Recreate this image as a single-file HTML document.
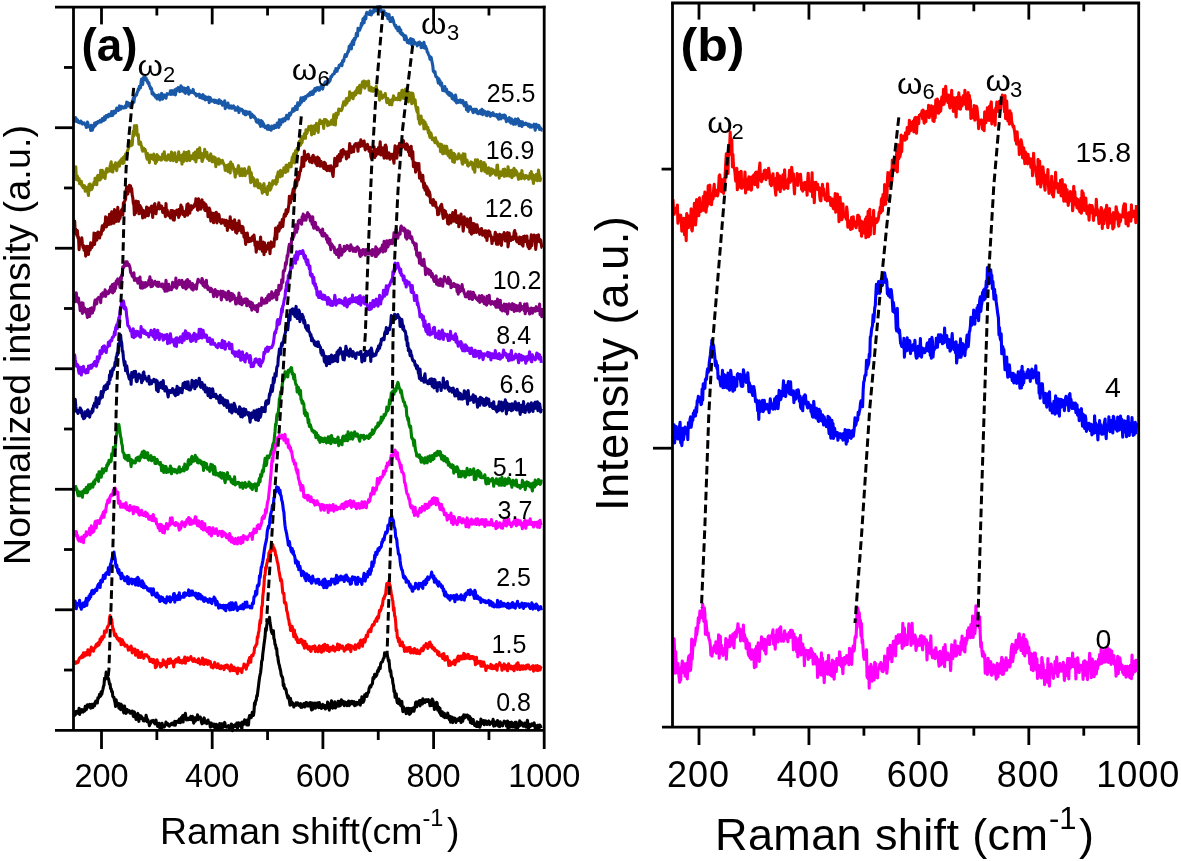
<!DOCTYPE html>
<html><head><meta charset="utf-8"><title>Raman spectra</title>
<style>
html,body{margin:0;padding:0;background:#fff;}
body{width:1181px;height:861px;overflow:hidden;}
svg{display:block;font-family:'Liberation Sans', Arial, sans-serif;filter:blur(0.35px);}
</style></head><body>
<svg width="1181" height="861" viewBox="0 0 1181 861" fill="#000">
<rect width="1181" height="861" fill="#fff"/>
<path d="M74.1,119.5 74.7,120.5 75.2,120.0 75.8,117.7 76.3,121.5 76.9,121.1 77.4,119.8 78.0,121.8 78.5,122.3 79.1,121.9 79.6,121.8 80.2,122.9 80.7,121.1 81.3,122.3 81.8,122.1 82.4,124.1 83.0,123.4 83.5,123.2 84.1,122.8 84.6,123.9 85.2,124.7 85.7,124.6 86.3,127.4 86.8,127.2 87.4,122.1 87.9,123.2 88.5,126.2 89.0,126.0 89.6,127.2 90.2,127.3 90.7,130.5 91.3,125.3 91.8,126.5 92.4,130.2 92.9,127.8 93.5,127.5 94.0,125.3 94.6,123.2 95.1,125.9 95.7,125.1 96.2,122.5 96.8,122.9 97.3,123.4 97.9,121.5 98.5,122.4 99.0,122.2 99.6,121.7 100.1,120.4 100.7,121.8 101.2,122.0 101.8,120.7 102.3,118.6 102.9,120.7 103.4,118.4 104.0,120.3 104.5,116.8 105.1,119.7 105.6,117.8 106.2,115.6 106.8,116.8 107.3,117.0 107.9,117.0 108.4,114.7 109.0,114.2 109.5,115.9 110.1,114.5 110.6,115.3 111.2,115.7 111.7,111.5 112.3,114.1 112.8,115.3 113.4,112.4 114.0,111.2 114.5,113.3 115.1,112.1 115.6,112.7 116.2,110.3 116.7,108.0 117.3,109.8 117.8,108.9 118.4,110.5 118.9,109.2 119.5,105.9 120.0,106.3 120.6,109.3 121.1,108.7 121.7,106.4 122.3,107.1 122.8,107.7 123.4,107.5 123.9,108.0 124.5,106.8 125.0,106.1 125.6,105.7 126.1,107.6 126.7,102.1 127.2,105.3 127.8,105.4 128.3,102.8 128.9,105.4 129.4,103.6 130.0,106.9 130.6,103.8 131.1,104.7 131.7,105.1 132.2,103.0 132.8,100.2 133.3,98.2 133.9,102.3 134.4,98.2 135.0,96.0 135.5,96.1 136.1,94.3 136.6,94.8 137.2,92.3 137.8,91.2 138.3,89.0 138.9,89.8 139.4,86.2 140.0,87.7 140.5,87.8 141.1,81.6 141.6,79.0 142.2,82.7 142.7,84.5 143.3,78.2 143.8,77.1 144.4,79.5 144.9,77.0 145.5,77.6 146.1,78.3 146.6,80.6 147.2,80.2 147.7,82.7 148.3,83.4 148.8,82.6 149.4,86.0 149.9,86.2 150.5,88.7 151.0,87.8 151.6,88.8 152.1,93.9 152.7,92.4 153.3,93.4 153.8,95.2 154.4,94.5 154.9,95.5 155.5,97.2 156.0,97.5 156.6,95.5 157.1,98.9 157.7,96.7 158.2,95.9 158.8,94.8 159.3,96.8 159.9,99.9 160.4,95.3 161.0,97.2 161.6,93.4 162.1,96.6 162.7,99.1 163.2,95.8 163.8,94.9 164.3,96.1 164.9,96.6 165.4,96.3 166.0,98.2 166.5,95.2 167.1,93.7 167.6,94.3 168.2,94.1 168.7,94.2 169.3,93.8 169.9,93.9 170.4,90.7 171.0,94.4 171.5,91.9 172.1,90.7 172.6,93.4 173.2,94.2 173.7,92.6 174.3,91.8 174.8,89.8 175.4,94.9 175.9,92.3 176.5,88.8 177.1,89.2 177.6,90.4 178.2,87.6 178.7,90.2 179.3,89.1 179.8,91.6 180.4,91.1 180.9,85.7 181.5,89.6 182.0,86.9 182.6,91.3 183.1,89.9 183.7,90.5 184.2,88.1 184.8,92.8 185.4,93.3 185.9,88.5 186.5,91.0 187.0,89.5 187.6,90.7 188.1,87.2 188.7,94.2 189.2,89.9 189.8,91.2 190.3,92.7 190.9,91.1 191.4,91.9 192.0,91.6 192.5,92.5 193.1,89.4 193.7,92.6 194.2,93.2 194.8,93.3 195.3,94.2 195.9,93.9 196.4,95.9 197.0,94.5 197.5,95.1 198.1,94.6 198.6,95.1 199.2,94.2 199.7,97.4 200.3,95.0 200.9,95.9 201.4,97.9 202.0,98.2 202.5,97.1 203.1,94.7 203.6,98.8 204.2,98.7 204.7,96.2 205.3,99.9 205.8,97.7 206.4,97.2 206.9,99.3 207.5,99.0 208.0,99.8 208.6,97.0 209.2,102.6 209.7,98.9 210.3,97.6 210.8,101.2 211.4,99.8 211.9,101.0 212.5,100.1 213.0,100.8 213.6,101.4 214.1,100.0 214.7,102.4 215.2,100.7 215.8,100.3 216.3,101.9 216.9,102.7 217.5,101.8 218.0,100.9 218.6,103.5 219.1,99.8 219.7,101.2 220.2,103.0 220.8,101.0 221.3,103.4 221.9,103.4 222.4,105.2 223.0,102.4 223.5,103.1 224.1,104.9 224.7,100.7 225.2,108.6 225.8,103.9 226.3,104.1 226.9,106.9 227.4,105.7 228.0,103.1 228.5,107.2 229.1,107.8 229.6,105.9 230.2,106.4 230.7,107.9 231.3,105.9 231.8,108.2 232.4,108.1 233.0,106.8 233.5,105.9 234.1,107.9 234.6,107.0 235.2,110.2 235.7,109.0 236.3,110.1 236.8,109.2 237.4,109.6 237.9,106.9 238.5,110.5 239.0,112.5 239.6,108.8 240.1,109.0 240.7,109.8 241.3,109.5 241.8,109.3 242.4,110.9 242.9,110.4 243.5,113.4 244.0,111.4 244.6,112.2 245.1,114.8 245.7,111.3 246.2,114.8 246.8,111.8 247.3,111.9 247.9,112.9 248.5,113.7 249.0,112.0 249.6,114.5 250.1,112.3 250.7,117.6 251.2,115.6 251.8,114.1 252.3,115.0 252.9,116.3 253.4,116.9 254.0,116.1 254.5,116.8 255.1,118.4 255.6,118.4 256.2,121.3 256.8,122.2 257.3,120.9 257.9,122.2 258.4,119.8 259.0,123.4 259.5,122.9 260.1,124.1 260.6,126.3 261.2,120.5 261.7,124.9 262.3,121.5 262.8,126.2 263.4,123.5 264.0,125.2 264.5,126.7 265.1,127.7 265.6,127.1 266.2,126.0 266.7,126.7 267.3,129.2 267.8,127.9 268.4,125.4 268.9,129.4 269.5,128.8 270.0,129.4 270.6,127.4 271.1,130.3 271.7,126.0 272.3,128.4 272.8,126.5 273.4,128.1 273.9,128.4 274.5,125.3 275.0,126.1 275.6,126.0 276.1,127.5 276.7,126.5 277.2,123.1 277.8,125.5 278.3,125.6 278.9,127.4 279.4,119.7 280.0,122.2 280.6,124.7 281.1,119.9 281.7,119.6 282.2,121.8 282.8,122.0 283.3,118.8 283.9,120.2 284.4,119.0 285.0,120.7 285.5,117.8 286.1,118.9 286.6,115.4 287.2,115.8 287.8,115.8 288.3,118.9 288.9,115.9 289.4,113.3 290.0,115.2 290.5,114.8 291.1,112.9 291.6,112.2 292.2,111.8 292.7,108.9 293.3,111.3 293.8,110.8 294.4,108.4 294.9,110.3 295.5,106.2 296.1,106.8 296.6,106.2 297.2,109.4 297.7,102.9 298.3,105.7 298.8,105.6 299.4,104.5 299.9,104.7 300.5,100.6 301.0,97.8 301.6,102.3 302.1,98.6 302.7,99.4 303.2,97.5 303.8,100.5 304.4,99.7 304.9,96.7 305.5,98.7 306.0,97.0 306.6,96.1 307.1,96.0 307.7,95.0 308.2,95.9 308.8,95.0 309.3,93.5 309.9,95.2 310.4,92.2 311.0,93.3 311.6,93.1 312.1,94.5 312.7,91.0 313.2,94.2 313.8,91.4 314.3,90.5 314.9,88.5 315.4,91.2 316.0,90.0 316.5,87.9 317.1,87.6 317.6,88.2 318.2,87.7 318.7,90.2 319.3,90.3 319.9,89.1 320.4,87.9 321.0,86.3 321.5,86.6 322.1,87.5 322.6,89.1 323.2,86.7 323.7,84.3 324.3,84.3 324.8,82.9 325.4,81.9 325.9,82.3 326.5,82.4 327.0,84.4 327.6,81.0 328.2,82.5 328.7,82.5 329.3,79.2 329.8,81.1 330.4,79.0 330.9,76.6 331.5,77.0 332.0,76.0 332.6,74.6 333.1,74.3 333.7,74.1 334.2,73.9 334.8,71.0 335.4,71.7 335.9,68.5 336.5,70.6 337.0,71.3 337.6,68.8 338.1,68.2 338.7,67.9 339.2,65.1 339.8,64.9 340.3,65.3 340.9,65.2 341.4,63.4 342.0,65.7 342.5,60.9 343.1,61.7 343.7,61.3 344.2,58.1 344.8,56.1 345.3,54.6 345.9,55.8 346.4,56.3 347.0,54.4 347.5,52.9 348.1,51.0 348.6,51.5 349.2,46.2 349.7,48.9 350.3,47.6 350.8,44.3 351.4,48.9 352.0,42.2 352.5,41.6 353.1,40.3 353.6,44.5 354.2,38.6 354.7,40.0 355.3,38.7 355.8,37.1 356.4,33.4 356.9,33.4 357.5,35.9 358.0,28.3 358.6,29.7 359.2,29.6 359.7,30.1 360.3,28.0 360.8,27.5 361.4,23.4 361.9,25.3 362.5,23.5 363.0,18.8 363.6,22.7 364.1,22.8 364.7,16.9 365.2,17.4 365.8,18.9 366.3,13.7 366.9,12.3 367.5,12.9 368.0,13.6 368.6,13.1 369.1,14.5 369.7,14.0 370.2,10.8 370.8,13.3 371.3,15.0 371.9,13.6 372.4,12.9 373.0,11.0 373.5,12.2 374.1,8.7 374.7,11.1 375.2,9.4 375.8,11.0 376.3,9.7 376.9,7.0 377.4,8.8 378.0,10.5 378.5,6.7 379.1,7.7 379.6,7.5 380.2,6.6 380.7,10.8 381.3,11.8 381.8,11.4 382.4,10.9 383.0,10.9 383.5,11.9 384.1,10.9 384.6,14.1 385.2,14.9 385.7,15.2 386.3,13.5 386.8,15.0 387.4,15.1 387.9,18.8 388.5,16.8 389.0,14.2 389.6,18.5 390.1,21.5 390.7,20.3 391.3,21.4 391.8,20.8 392.4,17.6 392.9,19.3 393.5,21.0 394.0,23.5 394.6,24.9 395.1,26.3 395.7,25.4 396.2,28.2 396.8,27.1 397.3,27.3 397.9,30.6 398.5,27.4 399.0,27.2 399.6,28.7 400.1,32.9 400.7,29.7 401.2,33.7 401.8,34.5 402.3,33.4 402.9,33.9 403.4,36.0 404.0,35.5 404.5,39.6 405.1,38.6 405.6,35.8 406.2,37.3 406.8,40.1 407.3,42.4 407.9,40.2 408.4,40.4 409.0,43.2 409.5,40.4 410.1,40.2 410.6,38.7 411.2,40.3 411.7,44.9 412.3,39.3 412.8,41.8 413.4,39.7 413.9,42.4 414.5,43.8 415.1,42.1 415.6,43.8 416.2,44.0 416.7,43.6 417.3,45.8 417.8,44.4 418.4,42.7 418.9,42.2 419.5,42.1 420.0,44.3 420.6,43.2 421.1,47.7 421.7,47.0 422.3,43.9 422.8,44.0 423.4,47.6 423.9,42.3 424.5,45.3 425.0,48.3 425.6,46.2 426.1,47.9 426.7,49.2 427.2,52.0 427.8,52.3 428.3,54.0 428.9,55.5 429.4,55.9 430.0,59.2 430.6,57.0 431.1,57.3 431.7,60.4 432.2,62.8 432.8,65.8 433.3,71.2 433.9,71.8 434.4,72.4 435.0,71.7 435.5,75.4 436.1,76.8 436.6,76.8 437.2,77.2 437.7,79.7 438.3,83.1 438.9,78.8 439.4,82.4 440.0,80.6 440.5,85.1 441.1,84.3 441.6,82.9 442.2,87.1 442.7,90.5 443.3,88.4 443.8,90.7 444.4,89.3 444.9,86.6 445.5,91.3 446.1,90.4 446.6,89.2 447.2,93.3 447.7,93.0 448.3,92.2 448.8,94.9 449.4,92.5 449.9,95.4 450.5,93.3 451.0,96.1 451.6,93.9 452.1,98.5 452.7,96.9 453.2,99.3 453.8,96.1 454.4,97.1 454.9,100.9 455.5,95.0 456.0,97.6 456.6,102.9 457.1,100.9 457.7,102.2 458.2,100.6 458.8,102.4 459.3,100.7 459.9,100.1 460.4,100.0 461.0,102.3 461.5,102.7 462.1,102.9 462.7,100.5 463.2,101.5 463.8,104.2 464.3,105.8 464.9,104.7 465.4,104.6 466.0,102.6 466.5,109.8 467.1,105.1 467.6,109.9 468.2,111.3 468.7,108.2 469.3,107.1 469.9,108.5 470.4,106.7 471.0,109.2 471.5,109.1 472.1,110.1 472.6,111.1 473.2,112.6 473.7,109.4 474.3,111.9 474.8,109.2 475.4,109.2 475.9,109.9 476.5,109.5 477.0,112.9 477.6,113.0 478.2,113.7 478.7,111.8 479.3,112.5 479.8,111.3 480.4,110.5 480.9,113.8 481.5,113.1 482.0,109.4 482.6,114.7 483.1,110.2 483.7,112.9 484.2,112.2 484.8,112.5 485.4,111.7 485.9,115.1 486.5,114.6 487.0,115.7 487.6,114.3 488.1,111.9 488.7,113.5 489.2,112.3 489.8,115.0 490.3,116.3 490.9,115.0 491.4,113.7 492.0,114.1 492.5,115.2 493.1,112.7 493.7,115.5 494.2,115.6 494.8,114.5 495.3,114.9 495.9,116.0 496.4,114.5 497.0,114.7 497.5,117.4 498.1,116.7 498.6,119.2 499.2,115.2 499.7,114.1 500.3,118.6 500.8,118.8 501.4,116.3 502.0,115.3 502.5,117.8 503.1,115.3 503.6,117.7 504.2,115.0 504.7,118.3 505.3,115.4 505.8,118.6 506.4,121.6 506.9,118.9 507.5,120.8 508.0,118.7 508.6,118.4 509.2,117.6 509.7,121.9 510.3,120.3 510.8,123.1 511.4,118.8 511.9,120.5 512.5,121.2 513.0,123.5 513.6,124.3 514.1,120.5 514.7,119.9 515.2,119.1 515.8,124.1 516.3,122.0 516.9,121.3 517.5,122.4 518.0,118.9 518.6,120.0 519.1,125.7 519.7,123.7 520.2,123.4 520.8,121.7 521.3,124.4 521.9,126.5 522.4,121.8 523.0,123.9 523.5,123.3 524.1,124.7 524.6,124.3 525.2,124.1 525.8,123.1 526.3,124.6 526.9,123.7 527.4,124.6 528.0,124.8 528.5,126.1 529.1,124.2 529.6,124.7 530.2,127.1 530.7,125.1 531.3,125.2 531.8,127.1 532.4,126.2 533.0,126.1 533.5,126.4 534.1,124.2 534.6,127.0 535.2,130.3 535.7,127.5 536.3,124.2 536.8,127.2 537.4,125.5 537.9,126.7 538.5,127.4 539.0,125.4 539.6,129.5 540.1,127.4 540.7,128.9 541.3,128.8 541.8,130.1 542.4,129.9" fill="none" stroke="#1a58a8" stroke-width="3.1" stroke-linejoin="round"/>
<path d="M74.1,170.2 74.7,169.5 75.2,171.1 75.8,166.8 76.3,179.8 76.9,179.1 77.4,176.1 78.0,180.3 78.5,179.9 79.1,178.6 79.6,183.8 80.2,181.0 80.7,181.8 81.3,181.3 81.8,185.7 82.4,185.0 83.0,187.7 83.5,185.2 84.1,188.0 84.6,185.8 85.2,191.3 85.7,189.9 86.3,190.7 86.8,191.1 87.4,187.2 87.9,192.1 88.5,195.4 89.0,184.7 89.6,184.0 90.2,184.0 90.7,190.0 91.3,187.3 91.8,189.2 92.4,187.4 92.9,185.1 93.5,184.5 94.0,182.4 94.6,184.5 95.1,178.2 95.7,179.5 96.2,180.7 96.8,184.6 97.3,176.8 97.9,175.4 98.5,176.3 99.0,180.0 99.6,176.1 100.1,179.9 100.7,170.4 101.2,178.3 101.8,177.6 102.3,170.2 102.9,174.1 103.4,176.6 104.0,173.0 104.5,177.6 105.1,178.5 105.6,172.2 106.2,170.3 106.8,168.5 107.3,172.2 107.9,169.5 108.4,169.3 109.0,169.2 109.5,171.0 110.1,166.0 110.6,164.4 111.2,161.8 111.7,171.6 112.3,168.2 112.8,172.0 113.4,167.5 114.0,165.2 114.5,168.3 115.1,166.5 115.6,162.9 116.2,163.6 116.7,170.6 117.3,166.3 117.8,166.1 118.4,163.7 118.9,162.1 119.5,166.1 120.0,162.8 120.6,160.4 121.1,161.6 121.7,158.9 122.3,161.4 122.8,163.4 123.4,157.2 123.9,162.8 124.5,156.2 125.0,157.8 125.6,154.1 126.1,154.8 126.7,154.5 127.2,152.0 127.8,150.0 128.3,148.7 128.9,146.9 129.4,141.0 130.0,145.4 130.6,145.7 131.1,145.5 131.7,142.6 132.2,144.9 132.8,136.3 133.3,131.4 133.9,135.6 134.4,125.8 135.0,130.8 135.5,125.8 136.1,130.5 136.6,125.5 137.2,135.5 137.8,134.6 138.3,134.6 138.9,144.2 139.4,143.6 140.0,143.1 140.5,142.1 141.1,145.3 141.6,146.2 142.2,149.9 142.7,151.2 143.3,148.2 143.8,148.2 144.4,149.3 144.9,149.2 145.5,150.7 146.1,154.2 146.6,157.0 147.2,159.2 147.7,153.6 148.3,157.7 148.8,155.2 149.4,162.6 149.9,156.9 150.5,158.8 151.0,155.0 151.6,155.6 152.1,158.6 152.7,157.1 153.3,159.3 153.8,154.1 154.4,160.4 154.9,156.1 155.5,163.4 156.0,157.8 156.6,161.6 157.1,154.6 157.7,159.7 158.2,156.0 158.8,157.0 159.3,158.4 159.9,157.4 160.4,159.6 161.0,160.2 161.6,159.9 162.1,157.7 162.7,154.1 163.2,155.6 163.8,157.2 164.3,151.7 164.9,159.7 165.4,156.9 166.0,156.8 166.5,160.2 167.1,159.4 167.6,158.1 168.2,154.7 168.7,159.2 169.3,158.5 169.9,155.0 170.4,160.4 171.0,158.9 171.5,152.0 172.1,157.8 172.6,154.0 173.2,160.7 173.7,159.8 174.3,154.4 174.8,152.8 175.4,157.8 175.9,156.8 176.5,161.8 177.1,159.6 177.6,156.7 178.2,159.1 178.7,151.8 179.3,158.4 179.8,159.9 180.4,157.0 180.9,155.5 181.5,159.1 182.0,164.2 182.6,158.0 183.1,154.3 183.7,161.4 184.2,152.1 184.8,158.7 185.4,155.6 185.9,159.8 186.5,152.6 187.0,160.8 187.6,158.6 188.1,152.1 188.7,151.4 189.2,155.9 189.8,160.4 190.3,157.1 190.9,156.8 191.4,155.9 192.0,158.6 192.5,158.4 193.1,157.1 193.7,153.4 194.2,159.3 194.8,159.6 195.3,152.0 195.9,161.9 196.4,157.3 197.0,153.7 197.5,149.6 198.1,156.6 198.6,157.6 199.2,152.9 199.7,147.8 200.3,157.7 200.9,152.9 201.4,153.3 202.0,161.4 202.5,160.8 203.1,157.7 203.6,153.9 204.2,157.2 204.7,149.3 205.3,156.2 205.8,154.1 206.4,152.9 206.9,152.3 207.5,158.6 208.0,157.6 208.6,158.1 209.2,160.4 209.7,156.0 210.3,155.2 210.8,153.9 211.4,158.3 211.9,161.6 212.5,159.3 213.0,161.8 213.6,156.9 214.1,159.2 214.7,158.7 215.2,157.6 215.8,166.6 216.3,164.0 216.9,159.8 217.5,160.1 218.0,162.3 218.6,158.8 219.1,164.3 219.7,159.7 220.2,162.6 220.8,161.1 221.3,162.9 221.9,160.8 222.4,160.4 223.0,162.3 223.5,163.4 224.1,164.7 224.7,166.0 225.2,170.4 225.8,168.6 226.3,165.9 226.9,168.9 227.4,165.2 228.0,171.5 228.5,169.3 229.1,164.2 229.6,170.4 230.2,172.9 230.7,162.1 231.3,167.0 231.8,168.0 232.4,164.2 233.0,166.8 233.5,167.3 234.1,171.6 234.6,171.2 235.2,177.2 235.7,169.5 236.3,174.0 236.8,171.1 237.4,171.7 237.9,167.7 238.5,165.7 239.0,168.9 239.6,173.3 240.1,175.6 240.7,172.9 241.3,172.6 241.8,168.9 242.4,175.6 242.9,175.1 243.5,169.9 244.0,171.3 244.6,168.7 245.1,175.7 245.7,172.8 246.2,171.4 246.8,172.9 247.3,173.2 247.9,171.3 248.5,169.5 249.0,167.0 249.6,169.6 250.1,176.7 250.7,182.6 251.2,172.6 251.8,178.8 252.3,180.5 252.9,177.5 253.4,181.7 254.0,178.9 254.5,185.9 255.1,181.4 255.6,183.8 256.2,185.9 256.8,182.1 257.3,179.8 257.9,183.7 258.4,187.8 259.0,185.8 259.5,187.0 260.1,183.7 260.6,187.4 261.2,189.4 261.7,187.7 262.3,193.2 262.8,187.4 263.4,185.2 264.0,183.7 264.5,191.5 265.1,188.1 265.6,191.1 266.2,189.4 266.7,192.5 267.3,194.5 267.8,186.4 268.4,188.0 268.9,189.9 269.5,183.1 270.0,190.2 270.6,189.1 271.1,188.0 271.7,184.3 272.3,185.2 272.8,180.8 273.4,183.6 273.9,181.3 274.5,182.8 275.0,180.7 275.6,182.3 276.1,184.2 276.7,176.5 277.2,182.1 277.8,173.2 278.3,171.9 278.9,176.8 279.4,176.4 280.0,176.8 280.6,170.2 281.1,173.8 281.7,173.6 282.2,176.0 282.8,171.5 283.3,172.6 283.9,167.7 284.4,169.3 285.0,168.0 285.5,172.4 286.1,165.3 286.6,165.1 287.2,168.4 287.8,171.2 288.3,166.6 288.9,165.7 289.4,163.2 290.0,166.5 290.5,164.2 291.1,166.8 291.6,162.0 292.2,157.5 292.7,157.7 293.3,155.5 293.8,153.8 294.4,163.0 294.9,157.5 295.5,150.7 296.1,158.1 296.6,152.7 297.2,148.3 297.7,151.0 298.3,148.4 298.8,145.6 299.4,141.2 299.9,145.6 300.5,145.1 301.0,136.4 301.6,143.4 302.1,142.4 302.7,138.1 303.2,138.6 303.8,136.4 304.4,133.9 304.9,134.3 305.5,138.3 306.0,129.7 306.6,133.7 307.1,132.9 307.7,129.8 308.2,129.9 308.8,126.6 309.3,127.6 309.9,129.5 310.4,130.0 311.0,126.1 311.6,135.0 312.1,126.4 312.7,128.1 313.2,126.8 313.8,126.1 314.3,133.8 314.9,125.5 315.4,130.4 316.0,129.7 316.5,123.4 317.1,129.0 317.6,124.2 318.2,132.5 318.7,124.6 319.3,122.9 319.9,120.0 320.4,121.6 321.0,123.5 321.5,122.2 322.1,121.4 322.6,122.7 323.2,124.0 323.7,128.4 324.3,119.5 324.8,122.6 325.4,121.3 325.9,119.7 326.5,120.3 327.0,121.2 327.6,125.6 328.2,123.0 328.7,121.9 329.3,125.0 329.8,123.9 330.4,122.4 330.9,123.9 331.5,120.3 332.0,124.2 332.6,123.5 333.1,120.8 333.7,114.9 334.2,124.8 334.8,119.7 335.4,124.9 335.9,113.4 336.5,117.9 337.0,113.1 337.6,113.8 338.1,114.5 338.7,109.1 339.2,110.3 339.8,110.6 340.3,109.4 340.9,110.0 341.4,110.5 342.0,109.3 342.5,107.0 343.1,104.7 343.7,101.8 344.2,102.3 344.8,102.3 345.3,105.1 345.9,100.6 346.4,98.5 347.0,103.1 347.5,98.5 348.1,98.0 348.6,98.9 349.2,100.3 349.7,91.7 350.3,94.6 350.8,97.7 351.4,95.6 352.0,93.6 352.5,93.9 353.1,98.8 353.6,93.1 354.2,95.8 354.7,95.5 355.3,91.5 355.8,94.6 356.4,90.5 356.9,89.5 357.5,87.6 358.0,92.7 358.6,88.6 359.2,87.6 359.7,85.4 360.3,93.1 360.8,89.6 361.4,86.6 361.9,84.5 362.5,81.8 363.0,86.5 363.6,86.1 364.1,81.1 364.7,88.1 365.2,86.9 365.8,82.0 366.3,81.8 366.9,83.7 367.5,85.6 368.0,85.0 368.6,81.1 369.1,90.2 369.7,87.4 370.2,90.4 370.8,90.9 371.3,87.2 371.9,89.2 372.4,90.8 373.0,91.3 373.5,89.1 374.1,88.3 374.7,90.5 375.2,88.6 375.8,89.7 376.3,86.1 376.9,92.5 377.4,89.9 378.0,91.7 378.5,93.6 379.1,95.2 379.6,100.1 380.2,95.9 380.7,91.8 381.3,96.6 381.8,95.0 382.4,98.2 383.0,95.6 383.5,95.8 384.1,96.7 384.6,95.0 385.2,93.5 385.7,96.9 386.3,99.0 386.8,102.6 387.4,98.6 387.9,98.6 388.5,101.4 389.0,101.5 389.6,104.6 390.1,101.9 390.7,100.3 391.3,104.2 391.8,104.8 392.4,99.2 392.9,101.0 393.5,95.9 394.0,98.5 394.6,97.8 395.1,99.4 395.7,98.3 396.2,98.8 396.8,98.5 397.3,99.7 397.9,98.5 398.5,95.8 399.0,93.2 399.6,99.8 400.1,99.9 400.7,94.2 401.2,98.1 401.8,90.5 402.3,90.1 402.9,93.6 403.4,98.3 404.0,91.3 404.5,91.9 405.1,98.8 405.6,89.1 406.2,96.3 406.8,96.0 407.3,94.3 407.9,95.6 408.4,102.0 409.0,92.4 409.5,94.9 410.1,95.4 410.6,94.5 411.2,93.0 411.7,103.8 412.3,98.1 412.8,93.2 413.4,97.2 413.9,101.6 414.5,103.1 415.1,99.7 415.6,105.3 416.2,108.2 416.7,110.4 417.3,112.2 417.8,107.5 418.4,119.2 418.9,115.8 419.5,123.1 420.0,124.1 420.6,118.0 421.1,116.0 421.7,122.9 422.3,121.0 422.8,121.1 423.4,120.4 423.9,129.0 424.5,123.9 425.0,122.1 425.6,125.6 426.1,124.5 426.7,129.0 427.2,128.3 427.8,127.4 428.3,132.9 428.9,130.3 429.4,134.9 430.0,137.3 430.6,132.7 431.1,133.6 431.7,136.8 432.2,139.6 432.8,137.9 433.3,139.1 433.9,139.4 434.4,141.0 435.0,142.6 435.5,137.8 436.1,140.9 436.6,143.0 437.2,141.6 437.7,144.4 438.3,146.1 438.9,145.1 439.4,144.0 440.0,144.0 440.5,151.6 441.1,149.6 441.6,144.5 442.2,145.7 442.7,153.8 443.3,153.2 443.8,149.8 444.4,153.1 444.9,146.1 445.5,150.6 446.1,153.1 446.6,146.2 447.2,149.5 447.7,154.3 448.3,155.6 448.8,151.1 449.4,153.9 449.9,157.9 450.5,152.7 451.0,150.3 451.6,154.2 452.1,153.5 452.7,161.6 453.2,156.0 453.8,153.2 454.4,162.4 454.9,154.6 455.5,157.5 456.0,158.4 456.6,158.9 457.1,157.5 457.7,158.9 458.2,157.3 458.8,153.8 459.3,156.9 459.9,157.7 460.4,158.1 461.0,159.2 461.5,155.8 462.1,163.1 462.7,164.1 463.2,153.8 463.8,160.3 464.3,158.6 464.9,154.1 465.4,162.3 466.0,159.7 466.5,160.7 467.1,160.2 467.6,165.4 468.2,166.1 468.7,163.7 469.3,165.1 469.9,163.1 470.4,164.1 471.0,161.9 471.5,164.3 472.1,162.5 472.6,165.7 473.2,169.3 473.7,166.0 474.3,168.7 474.8,172.3 475.4,159.9 475.9,166.0 476.5,164.6 477.0,165.1 477.6,159.9 478.2,166.9 478.7,166.3 479.3,165.4 479.8,166.0 480.4,165.9 480.9,161.2 481.5,170.9 482.0,167.2 482.6,163.2 483.1,169.3 483.7,166.7 484.2,162.6 484.8,171.4 485.4,164.4 485.9,168.6 486.5,169.7 487.0,173.3 487.6,173.0 488.1,170.2 488.7,167.8 489.2,168.9 489.8,173.2 490.3,175.3 490.9,172.0 491.4,168.8 492.0,173.6 492.5,169.8 493.1,169.8 493.7,170.3 494.2,172.8 494.8,172.1 495.3,174.2 495.9,175.2 496.4,174.4 497.0,165.2 497.5,165.1 498.1,172.4 498.6,171.9 499.2,178.2 499.7,172.2 500.3,171.9 500.8,175.1 501.4,175.5 502.0,172.0 502.5,174.1 503.1,169.6 503.6,170.3 504.2,176.4 504.7,169.1 505.3,175.7 505.8,175.1 506.4,175.5 506.9,175.9 507.5,175.0 508.0,166.8 508.6,170.8 509.2,172.0 509.7,176.3 510.3,170.6 510.8,171.9 511.4,172.9 511.9,177.7 512.5,170.1 513.0,170.4 513.6,176.0 514.1,168.4 514.7,175.3 515.2,173.2 515.8,170.2 516.3,173.5 516.9,172.0 517.5,175.3 518.0,176.9 518.6,179.3 519.1,175.2 519.7,175.6 520.2,173.9 520.8,175.5 521.3,178.7 521.9,170.5 522.4,177.8 523.0,174.6 523.5,176.4 524.1,177.2 524.6,178.8 525.2,177.2 525.8,175.5 526.3,177.5 526.9,176.8 527.4,176.2 528.0,177.4 528.5,179.2 529.1,177.2 529.6,177.2 530.2,173.2 530.7,176.4 531.3,171.6 531.8,178.8 532.4,174.2 533.0,180.4 533.5,183.5 534.1,175.7 534.6,180.5 535.2,177.9 535.7,175.2 536.3,174.4 536.8,178.4 537.4,180.7 537.9,177.8 538.5,170.1 539.0,173.9 539.6,176.2 540.1,180.6 540.7,177.6 541.3,177.7" fill="none" stroke="#808000" stroke-width="3.1" stroke-linejoin="round"/>
<path d="M74.1,234.6 74.7,221.0 75.2,232.6 75.8,229.1 76.3,233.0 76.9,235.4 77.4,230.6 78.0,238.2 78.5,237.2 79.1,249.7 79.6,243.0 80.2,241.8 80.7,242.6 81.3,241.9 81.8,237.8 82.4,244.0 83.0,247.6 83.5,245.5 84.1,250.2 84.6,246.5 85.2,247.6 85.7,256.2 86.3,249.9 86.8,246.3 87.4,247.5 87.9,249.9 88.5,254.5 89.0,246.5 89.6,246.1 90.2,249.9 90.7,242.7 91.3,244.1 91.8,247.5 92.4,245.7 92.9,243.2 93.5,244.5 94.0,233.1 94.6,244.4 95.1,236.7 95.7,233.5 96.2,239.4 96.8,240.1 97.3,235.2 97.9,232.1 98.5,235.0 99.0,233.8 99.6,238.0 100.1,234.8 100.7,232.0 101.2,234.4 101.8,229.0 102.3,225.8 102.9,230.4 103.4,229.7 104.0,226.3 104.5,223.7 105.1,226.6 105.6,216.8 106.2,227.0 106.8,225.8 107.3,217.7 107.9,223.1 108.4,219.0 109.0,224.5 109.5,214.2 110.1,217.6 110.6,222.8 111.2,223.9 111.7,211.8 112.3,217.2 112.8,219.6 113.4,216.0 114.0,223.3 114.5,209.5 115.1,218.3 115.6,213.2 116.2,221.5 116.7,216.2 117.3,214.7 117.8,207.3 118.4,221.3 118.9,220.1 119.5,217.4 120.0,218.3 120.6,215.0 121.1,211.0 121.7,209.8 122.3,208.9 122.8,214.8 123.4,202.8 123.9,203.3 124.5,201.5 125.0,200.6 125.6,199.2 126.1,190.4 126.7,186.8 127.2,191.3 127.8,194.1 128.3,191.1 128.9,188.0 129.4,185.3 130.0,187.1 130.6,185.9 131.1,191.5 131.7,188.6 132.2,195.1 132.8,197.7 133.3,203.3 133.9,205.1 134.4,214.8 135.0,212.7 135.5,213.1 136.1,201.1 136.6,207.4 137.2,206.7 137.8,211.0 138.3,201.5 138.9,213.8 139.4,213.6 140.0,205.5 140.5,206.9 141.1,207.6 141.6,210.7 142.2,212.9 142.7,218.0 143.3,210.2 143.8,213.6 144.4,211.5 144.9,217.2 145.5,213.6 146.1,215.7 146.6,207.1 147.2,210.1 147.7,207.8 148.3,215.8 148.8,212.7 149.4,209.1 149.9,208.4 150.5,211.5 151.0,207.1 151.6,206.1 152.1,210.9 152.7,217.4 153.3,207.9 153.8,206.7 154.4,204.4 154.9,203.7 155.5,210.0 156.0,213.8 156.6,208.1 157.1,209.2 157.7,208.4 158.2,208.5 158.8,202.8 159.3,206.6 159.9,208.8 160.4,205.8 161.0,207.1 161.6,206.1 162.1,208.0 162.7,212.4 163.2,208.2 163.8,209.4 164.3,213.0 164.9,212.7 165.4,216.6 166.0,203.6 166.5,214.2 167.1,209.7 167.6,212.1 168.2,214.8 168.7,215.8 169.3,215.8 169.9,212.9 170.4,218.0 171.0,210.6 171.5,211.6 172.1,215.3 172.6,210.6 173.2,220.0 173.7,219.2 174.3,220.0 174.8,212.3 175.4,211.0 175.9,212.8 176.5,214.7 177.1,210.0 177.6,213.4 178.2,211.9 178.7,217.5 179.3,209.4 179.8,215.3 180.4,209.3 180.9,205.1 181.5,208.9 182.0,207.1 182.6,211.7 183.1,214.6 183.7,211.5 184.2,213.0 184.8,216.4 185.4,211.5 185.9,211.2 186.5,209.4 187.0,204.6 187.6,215.1 188.1,203.7 188.7,211.9 189.2,209.3 189.8,213.1 190.3,208.6 190.9,205.7 191.4,209.6 192.0,206.1 192.5,207.2 193.1,207.7 193.7,206.8 194.2,206.4 194.8,203.9 195.3,205.9 195.9,198.9 196.4,205.6 197.0,201.8 197.5,209.8 198.1,210.2 198.6,198.8 199.2,206.1 199.7,205.1 200.3,201.8 200.9,209.1 201.4,204.1 202.0,199.7 202.5,205.2 203.1,205.9 203.6,207.2 204.2,202.9 204.7,209.8 205.3,210.6 205.8,204.5 206.4,206.7 206.9,209.3 207.5,208.1 208.0,216.7 208.6,211.8 209.2,208.1 209.7,209.3 210.3,212.4 210.8,221.1 211.4,212.8 211.9,214.3 212.5,216.0 213.0,214.4 213.6,222.8 214.1,213.3 214.7,218.1 215.2,216.3 215.8,218.3 216.3,212.3 216.9,222.9 217.5,216.6 218.0,217.4 218.6,214.3 219.1,215.3 219.7,220.1 220.2,221.9 220.8,221.4 221.3,223.3 221.9,221.8 222.4,219.7 223.0,222.8 223.5,222.2 224.1,220.1 224.7,223.3 225.2,225.5 225.8,222.1 226.3,220.3 226.9,224.3 227.4,230.4 228.0,221.5 228.5,222.2 229.1,222.2 229.6,227.2 230.2,216.8 230.7,224.7 231.3,227.9 231.8,221.1 232.4,229.4 233.0,226.3 233.5,221.1 234.1,225.7 234.6,219.9 235.2,223.6 235.7,232.3 236.3,223.2 236.8,233.1 237.4,226.8 237.9,231.0 238.5,228.2 239.0,220.7 239.6,227.1 240.1,230.3 240.7,226.2 241.3,226.2 241.8,232.8 242.4,229.9 242.9,226.9 243.5,231.1 244.0,237.1 244.6,233.1 245.1,238.6 245.7,244.4 246.2,236.7 246.8,233.2 247.3,233.1 247.9,238.1 248.5,241.7 249.0,240.0 249.6,241.4 250.1,238.3 250.7,241.3 251.2,239.0 251.8,239.9 252.3,236.9 252.9,236.3 253.4,240.5 254.0,235.1 254.5,239.5 255.1,245.5 255.6,243.1 256.2,252.1 256.8,247.2 257.3,242.0 257.9,247.2 258.4,245.9 259.0,242.5 259.5,249.0 260.1,242.6 260.6,237.1 261.2,248.5 261.7,243.8 262.3,251.3 262.8,243.9 263.4,242.2 264.0,254.8 264.5,242.7 265.1,247.2 265.6,251.6 266.2,246.8 266.7,246.1 267.3,246.6 267.8,249.0 268.4,243.1 268.9,248.0 269.5,247.7 270.0,253.7 270.6,244.1 271.1,241.9 271.7,247.4 272.3,243.2 272.8,245.2 273.4,244.0 273.9,246.3 274.5,238.1 275.0,238.1 275.6,228.1 276.1,231.8 276.7,239.0 277.2,230.1 277.8,229.0 278.3,226.1 278.9,231.3 279.4,228.7 280.0,222.7 280.6,228.0 281.1,225.3 281.7,225.7 282.2,219.5 282.8,226.5 283.3,221.7 283.9,216.8 284.4,214.3 285.0,213.7 285.5,216.1 286.1,209.8 286.6,213.9 287.2,210.6 287.8,211.9 288.3,208.5 288.9,204.1 289.4,196.2 290.0,202.5 290.5,202.8 291.1,199.1 291.6,199.0 292.2,193.8 292.7,192.5 293.3,188.8 293.8,195.0 294.4,189.0 294.9,184.8 295.5,180.0 296.1,182.2 296.6,185.9 297.2,180.6 297.7,172.3 298.3,180.1 298.8,178.0 299.4,174.4 299.9,171.7 300.5,171.0 301.0,167.1 301.6,166.4 302.1,157.2 302.7,166.6 303.2,161.1 303.8,166.3 304.4,151.1 304.9,159.9 305.5,160.2 306.0,155.0 306.6,157.5 307.1,158.4 307.7,157.9 308.2,154.3 308.8,156.0 309.3,160.5 309.9,161.8 310.4,158.2 311.0,158.6 311.6,159.5 312.1,162.8 312.7,155.9 313.2,155.3 313.8,160.8 314.3,157.0 314.9,159.2 315.4,162.3 316.0,163.8 316.5,158.8 317.1,165.7 317.6,157.0 318.2,165.3 318.7,158.1 319.3,159.3 319.9,166.2 320.4,162.6 321.0,161.4 321.5,162.7 322.1,166.0 322.6,164.3 323.2,164.5 323.7,168.4 324.3,162.3 324.8,163.3 325.4,163.4 325.9,169.5 326.5,169.2 327.0,170.6 327.6,166.4 328.2,166.3 328.7,170.2 329.3,166.2 329.8,170.8 330.4,170.7 330.9,165.9 331.5,167.9 332.0,168.1 332.6,174.4 333.1,176.4 333.7,167.2 334.2,167.1 334.8,158.3 335.4,166.3 335.9,164.7 336.5,160.1 337.0,165.6 337.6,156.4 338.1,160.1 338.7,160.4 339.2,154.6 339.8,161.0 340.3,160.8 340.9,151.4 341.4,150.6 342.0,156.9 342.5,154.1 343.1,149.5 343.7,152.1 344.2,152.2 344.8,151.6 345.3,154.4 345.9,152.3 346.4,158.9 347.0,154.8 347.5,151.9 348.1,152.8 348.6,157.0 349.2,150.6 349.7,143.5 350.3,150.4 350.8,147.3 351.4,152.4 352.0,146.8 352.5,148.1 353.1,147.2 353.6,151.8 354.2,146.3 354.7,144.6 355.3,146.4 355.8,143.6 356.4,145.6 356.9,144.9 357.5,146.5 358.0,151.3 358.6,143.1 359.2,144.5 359.7,143.6 360.3,146.5 360.8,139.9 361.4,141.6 361.9,143.8 362.5,145.8 363.0,143.7 363.6,142.2 364.1,141.0 364.7,146.1 365.2,149.9 365.8,146.6 366.3,146.8 366.9,148.4 367.5,144.4 368.0,147.4 368.6,148.4 369.1,151.2 369.7,150.7 370.2,147.2 370.8,155.9 371.3,158.2 371.9,151.5 372.4,153.8 373.0,154.1 373.5,155.0 374.1,146.9 374.7,157.6 375.2,150.1 375.8,155.9 376.3,151.6 376.9,149.7 377.4,150.4 378.0,153.9 378.5,147.5 379.1,149.1 379.6,148.7 380.2,141.9 380.7,154.9 381.3,152.5 381.8,150.5 382.4,155.0 383.0,147.9 383.5,151.3 384.1,158.1 384.6,155.9 385.2,145.2 385.7,145.1 386.3,147.1 386.8,158.2 387.4,153.2 387.9,154.6 388.5,157.8 389.0,152.9 389.6,157.0 390.1,159.3 390.7,158.2 391.3,158.0 391.8,154.3 392.4,158.0 392.9,154.3 393.5,159.9 394.0,163.2 394.6,151.6 395.1,145.8 395.7,151.2 396.2,153.2 396.8,158.1 397.3,154.0 397.9,146.7 398.5,145.8 399.0,152.3 399.6,143.2 400.1,150.2 400.7,144.9 401.2,147.8 401.8,147.2 402.3,147.0 402.9,146.9 403.4,140.5 404.0,145.0 404.5,144.2 405.1,145.5 405.6,149.3 406.2,144.7 406.8,143.9 407.3,144.7 407.9,147.1 408.4,151.8 409.0,147.4 409.5,155.4 410.1,153.5 410.6,152.8 411.2,146.3 411.7,156.6 412.3,159.2 412.8,151.6 413.4,166.8 413.9,165.8 414.5,162.5 415.1,164.3 415.6,172.2 416.2,169.5 416.7,163.3 417.3,167.8 417.8,168.1 418.4,170.0 418.9,163.6 419.5,178.2 420.0,172.3 420.6,176.3 421.1,176.5 421.7,181.3 422.3,178.4 422.8,175.3 423.4,183.7 423.9,187.9 424.5,183.1 425.0,190.2 425.6,187.6 426.1,186.0 426.7,194.4 427.2,187.5 427.8,195.2 428.3,189.8 428.9,196.1 429.4,191.7 430.0,194.5 430.6,202.6 431.1,200.9 431.7,201.7 432.2,201.1 432.8,205.2 433.3,199.6 433.9,201.3 434.4,205.3 435.0,203.5 435.5,202.3 436.1,207.3 436.6,207.5 437.2,207.7 437.7,214.8 438.3,212.9 438.9,214.1 439.4,210.1 440.0,208.8 440.5,205.9 441.1,210.1 441.6,204.4 442.2,208.1 442.7,215.0 443.3,218.4 443.8,216.4 444.4,210.4 444.9,215.5 445.5,211.3 446.1,217.2 446.6,214.3 447.2,218.0 447.7,223.7 448.3,218.8 448.8,224.2 449.4,217.3 449.9,215.2 450.5,221.3 451.0,222.9 451.6,215.2 452.1,217.7 452.7,212.6 453.2,217.2 453.8,221.3 454.4,218.1 454.9,216.7 455.5,210.5 456.0,221.7 456.6,222.3 457.1,221.8 457.7,220.9 458.2,215.9 458.8,226.8 459.3,220.7 459.9,220.6 460.4,224.0 461.0,214.1 461.5,221.7 462.1,221.8 462.7,223.8 463.2,231.2 463.8,224.7 464.3,216.9 464.9,222.4 465.4,224.6 466.0,224.7 466.5,219.9 467.1,218.9 467.6,226.9 468.2,226.4 468.7,225.4 469.3,219.8 469.9,232.3 470.4,218.0 471.0,225.4 471.5,234.2 472.1,226.6 472.6,228.3 473.2,223.6 473.7,232.8 474.3,223.8 474.8,229.5 475.4,229.3 475.9,225.5 476.5,232.5 477.0,224.8 477.6,227.6 478.2,230.2 478.7,229.1 479.3,232.5 479.8,234.3 480.4,230.4 480.9,229.8 481.5,228.5 482.0,230.9 482.6,235.3 483.1,232.1 483.7,234.6 484.2,233.2 484.8,230.9 485.4,237.2 485.9,230.9 486.5,234.9 487.0,240.5 487.6,231.8 488.1,235.8 488.7,230.8 489.2,234.9 489.8,231.7 490.3,236.0 490.9,235.7 491.4,238.2 492.0,243.5 492.5,239.2 493.1,240.6 493.7,238.2 494.2,236.9 494.8,235.6 495.3,232.2 495.9,238.7 496.4,244.2 497.0,240.2 497.5,234.9 498.1,244.3 498.6,237.0 499.2,234.4 499.7,234.3 500.3,235.1 500.8,237.6 501.4,245.5 502.0,237.8 502.5,234.9 503.1,236.4 503.6,237.7 504.2,232.5 504.7,238.9 505.3,241.0 505.8,239.6 506.4,240.6 506.9,234.0 507.5,232.6 508.0,246.9 508.6,242.3 509.2,233.1 509.7,239.3 510.3,238.7 510.8,240.5 511.4,239.4 511.9,237.0 512.5,239.5 513.0,239.4 513.6,238.6 514.1,232.5 514.7,230.6 515.2,236.3 515.8,233.4 516.3,240.1 516.9,241.8 517.5,240.2 518.0,238.1 518.6,239.7 519.1,243.6 519.7,237.0 520.2,242.8 520.8,242.1 521.3,240.6 521.9,244.8 522.4,237.3 523.0,246.1 523.5,236.6 524.1,237.2 524.6,236.2 525.2,241.5 525.8,236.7 526.3,240.2 526.9,236.1 527.4,243.8 528.0,246.6 528.5,241.0 529.1,248.6 529.6,242.2 530.2,247.9 530.7,240.7 531.3,234.9 531.8,245.7 532.4,240.1 533.0,237.0 533.5,238.4 534.1,235.1 534.6,240.3 535.2,237.2 535.7,249.4 536.3,243.5 536.8,235.5 537.4,236.1 537.9,239.5 538.5,234.9 539.0,241.4 539.6,241.8 540.1,239.4 540.7,240.3 541.3,244.1 541.8,247.5 542.4,247.9" fill="none" stroke="#800000" stroke-width="3.1" stroke-linejoin="round"/>
<path d="M74.1,294.1 74.7,295.8 75.2,301.8 75.8,300.0 76.3,292.9 76.9,299.9 77.4,299.1 78.0,301.9 78.5,298.1 79.1,303.7 79.6,304.4 80.2,310.7 80.7,306.0 81.3,307.2 81.8,302.7 82.4,313.5 83.0,303.0 83.5,311.6 84.1,308.6 84.6,308.0 85.2,309.3 85.7,310.0 86.3,313.5 86.8,312.8 87.4,317.5 87.9,309.3 88.5,314.3 89.0,312.2 89.6,316.5 90.2,308.6 90.7,312.6 91.3,313.2 91.8,307.8 92.4,313.0 92.9,309.6 93.5,310.5 94.0,309.0 94.6,302.7 95.1,300.1 95.7,302.5 96.2,304.1 96.8,303.6 97.3,298.9 97.9,298.5 98.5,297.4 99.0,297.3 99.6,297.7 100.1,297.4 100.7,302.6 101.2,294.2 101.8,295.4 102.3,296.9 102.9,292.7 103.4,293.8 104.0,294.3 104.5,295.8 105.1,289.9 105.6,296.4 106.2,291.5 106.8,292.5 107.3,293.8 107.9,292.9 108.4,293.6 109.0,290.9 109.5,290.0 110.1,290.5 110.6,286.7 111.2,292.0 111.7,286.4 112.3,284.7 112.8,292.9 113.4,286.8 114.0,283.7 114.5,291.2 115.1,285.2 115.6,288.4 116.2,281.1 116.7,284.2 117.3,280.0 117.8,278.9 118.4,280.8 118.9,282.5 119.5,284.1 120.0,287.5 120.6,277.3 121.1,281.1 121.7,275.2 122.3,274.4 122.8,266.7 123.4,267.2 123.9,267.3 124.5,264.5 125.0,265.6 125.6,261.9 126.1,265.5 126.7,261.8 127.2,261.8 127.8,265.0 128.3,265.6 128.9,264.3 129.4,265.7 130.0,267.4 130.6,272.3 131.1,273.3 131.7,273.8 132.2,276.3 132.8,273.8 133.3,277.2 133.9,272.8 134.4,280.5 135.0,278.0 135.5,278.6 136.1,280.2 136.6,279.1 137.2,278.9 137.8,283.1 138.3,280.7 138.9,278.4 139.4,282.3 140.0,277.0 140.5,288.0 141.1,281.6 141.6,282.3 142.2,288.2 142.7,288.1 143.3,282.9 143.8,284.3 144.4,285.6 144.9,287.2 145.5,282.5 146.1,283.3 146.6,286.2 147.2,283.7 147.7,285.0 148.3,284.7 148.8,280.2 149.4,280.9 149.9,276.9 150.5,282.5 151.0,286.7 151.6,280.4 152.1,286.5 152.7,285.9 153.3,283.2 153.8,283.4 154.4,283.9 154.9,281.3 155.5,282.9 156.0,283.6 156.6,285.4 157.1,286.0 157.7,282.2 158.2,286.4 158.8,282.4 159.3,284.2 159.9,285.8 160.4,284.9 161.0,284.9 161.6,286.7 162.1,284.1 162.7,284.1 163.2,285.4 163.8,288.6 164.3,286.0 164.9,291.3 165.4,287.1 166.0,280.3 166.5,285.5 167.1,291.0 167.6,286.7 168.2,285.5 168.7,284.3 169.3,290.0 169.9,289.0 170.4,288.0 171.0,287.2 171.5,289.7 172.1,287.9 172.6,282.3 173.2,287.3 173.7,285.5 174.3,284.6 174.8,286.7 175.4,284.6 175.9,278.1 176.5,288.2 177.1,286.7 177.6,283.5 178.2,282.8 178.7,284.2 179.3,280.3 179.8,284.4 180.4,283.0 180.9,282.7 181.5,281.3 182.0,280.4 182.6,286.8 183.1,287.5 183.7,285.4 184.2,284.1 184.8,282.1 185.4,286.4 185.9,288.9 186.5,280.6 187.0,288.0 187.6,279.5 188.1,284.3 188.7,286.3 189.2,281.9 189.8,281.6 190.3,286.5 190.9,287.9 191.4,284.5 192.0,289.2 192.5,283.6 193.1,290.0 193.7,285.5 194.2,285.5 194.8,286.1 195.3,285.0 195.9,288.5 196.4,289.1 197.0,284.4 197.5,282.1 198.1,279.2 198.6,280.0 199.2,281.8 199.7,281.4 200.3,281.5 200.9,281.7 201.4,283.1 202.0,278.5 202.5,279.6 203.1,285.5 203.6,285.1 204.2,281.9 204.7,287.1 205.3,282.4 205.8,283.9 206.4,280.3 206.9,287.8 207.5,286.0 208.0,289.4 208.6,288.9 209.2,287.8 209.7,288.4 210.3,291.6 210.8,288.4 211.4,288.8 211.9,289.8 212.5,292.0 213.0,292.6 213.6,296.6 214.1,290.5 214.7,294.3 215.2,289.6 215.8,293.1 216.3,292.5 216.9,296.6 217.5,293.9 218.0,291.4 218.6,294.3 219.1,293.9 219.7,292.4 220.2,292.7 220.8,291.2 221.3,300.0 221.9,294.4 222.4,296.8 223.0,291.4 223.5,291.8 224.1,294.4 224.7,294.6 225.2,297.3 225.8,292.7 226.3,296.9 226.9,299.6 227.4,293.4 228.0,298.3 228.5,291.4 229.1,297.0 229.6,297.2 230.2,300.9 230.7,293.2 231.3,297.1 231.8,299.5 232.4,293.8 233.0,297.0 233.5,294.9 234.1,295.5 234.6,299.2 235.2,299.4 235.7,303.9 236.3,304.0 236.8,301.5 237.4,297.9 237.9,297.7 238.5,299.1 239.0,293.1 239.6,303.6 240.1,297.8 240.7,297.0 241.3,298.9 241.8,304.8 242.4,303.9 242.9,300.0 243.5,302.4 244.0,301.4 244.6,299.2 245.1,302.6 245.7,302.5 246.2,298.7 246.8,305.8 247.3,299.2 247.9,304.2 248.5,301.2 249.0,302.1 249.6,302.8 250.1,306.8 250.7,302.1 251.2,305.2 251.8,310.1 252.3,303.0 252.9,306.6 253.4,308.7 254.0,305.8 254.5,308.8 255.1,306.0 255.6,309.7 256.2,308.1 256.8,305.6 257.3,311.7 257.9,307.4 258.4,306.4 259.0,303.9 259.5,304.2 260.1,304.2 260.6,303.9 261.2,305.3 261.7,298.1 262.3,299.8 262.8,303.2 263.4,300.2 264.0,300.5 264.5,303.3 265.1,300.6 265.6,299.9 266.2,298.3 266.7,302.8 267.3,300.8 267.8,296.0 268.4,299.1 268.9,294.5 269.5,300.2 270.0,298.9 270.6,296.6 271.1,295.7 271.7,291.9 272.3,298.3 272.8,295.7 273.4,294.9 273.9,297.3 274.5,293.4 275.0,293.2 275.6,292.6 276.1,290.5 276.7,299.8 277.2,292.6 277.8,291.7 278.3,294.4 278.9,285.2 279.4,290.7 280.0,290.0 280.6,286.3 281.1,288.4 281.7,279.8 282.2,282.7 282.8,282.2 283.3,271.3 283.9,270.4 284.4,270.9 285.0,268.6 285.5,262.8 286.1,264.8 286.6,262.0 287.2,255.5 287.8,256.4 288.3,251.0 288.9,246.8 289.4,244.2 290.0,250.7 290.5,245.6 291.1,249.0 291.6,238.2 292.2,239.2 292.7,239.2 293.3,236.2 293.8,236.3 294.4,233.8 294.9,230.4 295.5,224.8 296.1,226.7 296.6,232.3 297.2,228.5 297.7,228.9 298.3,221.0 298.8,222.8 299.4,220.2 299.9,222.7 300.5,221.0 301.0,221.5 301.6,224.2 302.1,216.8 302.7,220.3 303.2,214.1 303.8,220.1 304.4,215.6 304.9,216.2 305.5,216.4 306.0,220.1 306.6,215.6 307.1,214.4 307.7,212.7 308.2,216.8 308.8,214.2 309.3,215.5 309.9,217.3 310.4,221.0 311.0,216.7 311.6,220.9 312.1,224.4 312.7,216.7 313.2,225.1 313.8,228.2 314.3,222.2 314.9,226.5 315.4,222.5 316.0,228.1 316.5,227.3 317.1,229.7 317.6,227.3 318.2,228.2 318.7,229.8 319.3,229.8 319.9,230.6 320.4,232.3 321.0,230.5 321.5,233.5 322.1,235.7 322.6,229.1 323.2,236.1 323.7,234.0 324.3,233.6 324.8,233.5 325.4,235.3 325.9,236.1 326.5,239.5 327.0,235.8 327.6,242.4 328.2,238.2 328.7,242.8 329.3,244.5 329.8,239.3 330.4,246.0 330.9,249.7 331.5,243.7 332.0,247.2 332.6,245.5 333.1,247.4 333.7,247.4 334.2,247.3 334.8,252.6 335.4,252.0 335.9,250.2 336.5,254.5 337.0,253.7 337.6,252.9 338.1,249.2 338.7,257.4 339.2,254.5 339.8,245.4 340.3,248.0 340.9,249.5 341.4,255.2 342.0,253.7 342.5,249.5 343.1,250.7 343.7,251.7 344.2,246.4 344.8,251.0 345.3,248.5 345.9,249.5 346.4,248.6 347.0,245.6 347.5,245.9 348.1,248.5 348.6,248.6 349.2,246.8 349.7,250.8 350.3,247.1 350.8,244.8 351.4,247.1 352.0,247.2 352.5,247.8 353.1,251.2 353.6,249.6 354.2,251.2 354.7,250.2 355.3,248.3 355.8,251.5 356.4,247.7 356.9,249.8 357.5,246.8 358.0,249.8 358.6,248.1 359.2,250.9 359.7,254.8 360.3,256.5 360.8,253.1 361.4,250.6 361.9,254.9 362.5,251.6 363.0,249.5 363.6,251.1 364.1,250.7 364.7,249.9 365.2,255.2 365.8,250.4 366.3,249.5 366.9,253.9 367.5,250.4 368.0,249.4 368.6,250.3 369.1,253.9 369.7,253.7 370.2,253.7 370.8,251.8 371.3,250.7 371.9,255.5 372.4,249.5 373.0,252.7 373.5,249.9 374.1,252.3 374.7,252.9 375.2,256.4 375.8,246.8 376.3,256.5 376.9,248.4 377.4,253.2 378.0,254.2 378.5,249.8 379.1,251.2 379.6,252.3 380.2,250.3 380.7,248.3 381.3,250.3 381.8,249.6 382.4,245.0 383.0,252.0 383.5,248.6 384.1,241.3 384.6,245.0 385.2,251.2 385.7,250.4 386.3,246.5 386.8,240.9 387.4,244.1 387.9,246.9 388.5,244.6 389.0,242.1 389.6,240.4 390.1,243.9 390.7,240.6 391.3,241.4 391.8,242.5 392.4,243.6 392.9,239.3 393.5,239.6 394.0,232.9 394.6,239.8 395.1,238.5 395.7,235.4 396.2,228.8 396.8,232.5 397.3,233.5 397.9,238.1 398.5,233.5 399.0,233.5 399.6,233.1 400.1,234.1 400.7,227.3 401.2,226.0 401.8,227.0 402.3,229.4 402.9,229.4 403.4,230.8 404.0,228.1 404.5,231.3 405.1,229.3 405.6,237.4 406.2,231.0 406.8,239.1 407.3,237.7 407.9,230.9 408.4,237.1 409.0,236.8 409.5,231.8 410.1,238.0 410.6,236.9 411.2,238.9 411.7,236.8 412.3,240.0 412.8,242.5 413.4,242.3 413.9,242.6 414.5,245.2 415.1,244.5 415.6,249.4 416.2,243.7 416.7,255.3 417.3,252.9 417.8,256.5 418.4,257.4 418.9,253.1 419.5,263.3 420.0,253.0 420.6,260.8 421.1,261.5 421.7,265.1 422.3,262.7 422.8,260.1 423.4,265.6 423.9,259.4 424.5,266.1 425.0,266.3 425.6,274.6 426.1,268.4 426.7,268.8 427.2,268.7 427.8,269.1 428.3,269.4 428.9,274.3 429.4,270.0 430.0,273.6 430.6,271.0 431.1,275.1 431.7,277.0 432.2,273.6 432.8,275.9 433.3,278.2 433.9,280.5 434.4,281.4 435.0,279.1 435.5,277.2 436.1,275.9 436.6,284.3 437.2,284.3 437.7,281.8 438.3,285.1 438.9,280.0 439.4,280.2 440.0,285.5 440.5,278.8 441.1,283.1 441.6,282.7 442.2,282.1 442.7,286.3 443.3,279.6 443.8,280.8 444.4,276.5 444.9,279.3 445.5,280.8 446.1,281.2 446.6,281.7 447.2,283.1 447.7,280.7 448.3,277.4 448.8,283.0 449.4,283.9 449.9,279.9 450.5,281.0 451.0,287.8 451.6,286.1 452.1,286.6 452.7,285.8 453.2,284.7 453.8,283.3 454.4,286.5 454.9,284.9 455.5,284.7 456.0,286.2 456.6,286.5 457.1,291.5 457.7,285.0 458.2,294.2 458.8,285.8 459.3,287.7 459.9,291.7 460.4,287.5 461.0,288.8 461.5,290.6 462.1,284.6 462.7,289.9 463.2,289.0 463.8,291.2 464.3,293.5 464.9,294.1 465.4,296.7 466.0,296.9 466.5,296.1 467.1,293.6 467.6,296.7 468.2,291.7 468.7,294.4 469.3,298.7 469.9,297.3 470.4,291.8 471.0,294.2 471.5,298.4 472.1,299.4 472.6,299.4 473.2,292.2 473.7,293.7 474.3,296.6 474.8,294.9 475.4,297.6 475.9,297.9 476.5,299.0 477.0,298.0 477.6,300.0 478.2,300.7 478.7,299.6 479.3,295.8 479.8,302.5 480.4,299.9 480.9,300.6 481.5,300.0 482.0,295.5 482.6,301.4 483.1,298.3 483.7,297.0 484.2,303.7 484.8,298.9 485.4,301.3 485.9,303.0 486.5,305.1 487.0,296.3 487.6,299.2 488.1,303.1 488.7,299.7 489.2,295.3 489.8,302.2 490.3,302.6 490.9,304.3 491.4,303.0 492.0,301.5 492.5,303.4 493.1,303.0 493.7,302.1 494.2,304.3 494.8,304.9 495.3,301.6 495.9,307.2 496.4,307.0 497.0,307.2 497.5,299.1 498.1,306.0 498.6,305.6 499.2,303.5 499.7,307.9 500.3,300.3 500.8,310.0 501.4,308.0 502.0,305.8 502.5,311.0 503.1,308.5 503.6,308.3 504.2,304.0 504.7,308.9 505.3,311.2 505.8,310.5 506.4,304.3 506.9,311.3 507.5,313.9 508.0,310.0 508.6,306.8 509.2,303.9 509.7,305.5 510.3,306.4 510.8,308.6 511.4,309.4 511.9,306.0 512.5,303.7 513.0,306.9 513.6,304.5 514.1,311.5 514.7,304.8 515.2,309.3 515.8,310.2 516.3,305.5 516.9,310.8 517.5,307.8 518.0,306.1 518.6,305.7 519.1,308.5 519.7,311.1 520.2,303.3 520.8,309.9 521.3,308.0 521.9,306.4 522.4,308.2 523.0,308.4 523.5,308.4 524.1,310.7 524.6,304.0 525.2,313.8 525.8,311.0 526.3,307.2 526.9,303.7 527.4,308.8 528.0,307.8 528.5,310.9 529.1,310.9 529.6,314.0 530.2,308.7 530.7,311.2 531.3,308.1 531.8,308.3 532.4,313.3 533.0,308.6 533.5,309.1 534.1,308.5 534.6,310.4 535.2,311.2 535.7,309.3 536.3,306.7 536.8,310.7 537.4,307.7 537.9,309.0 538.5,310.6 539.0,310.7 539.6,304.1 540.1,314.7 540.7,312.4 541.3,315.4 541.8,316.7 542.4,308.0" fill="none" stroke="#800080" stroke-width="3.1" stroke-linejoin="round"/>
<path d="M74.1,354.5 74.7,355.0 75.2,359.5 75.8,362.8 76.3,366.1 76.9,365.0 77.4,364.7 78.0,365.3 78.5,370.1 79.1,373.2 79.6,370.5 80.2,367.2 80.7,368.3 81.3,375.0 81.8,371.9 82.4,367.3 83.0,371.6 83.5,366.4 84.1,370.4 84.6,370.7 85.2,370.1 85.7,373.0 86.3,371.3 86.8,369.7 87.4,371.8 87.9,372.5 88.5,366.0 89.0,369.0 89.6,366.8 90.2,368.1 90.7,365.3 91.3,368.2 91.8,367.6 92.4,366.5 92.9,364.2 93.5,365.3 94.0,363.0 94.6,361.8 95.1,365.2 95.7,361.2 96.2,366.2 96.8,364.4 97.3,356.8 97.9,361.7 98.5,357.4 99.0,359.0 99.6,357.5 100.1,350.7 100.7,353.4 101.2,351.8 101.8,353.6 102.3,347.4 102.9,351.5 103.4,346.3 104.0,347.7 104.5,345.9 105.1,351.2 105.6,348.4 106.2,352.5 106.8,347.4 107.3,347.3 107.9,346.6 108.4,342.3 109.0,343.0 109.5,345.8 110.1,340.7 110.6,341.4 111.2,340.1 111.7,340.8 112.3,337.4 112.8,337.0 113.4,336.9 114.0,335.4 114.5,331.8 115.1,334.8 115.6,327.9 116.2,326.6 116.7,324.8 117.3,328.7 117.8,323.6 118.4,320.2 118.9,317.6 119.5,318.5 120.0,311.2 120.6,307.0 121.1,308.3 121.7,300.9 122.3,301.2 122.8,301.5 123.4,301.0 123.9,303.4 124.5,308.9 125.0,306.8 125.6,307.7 126.1,309.3 126.7,316.3 127.2,319.3 127.8,325.3 128.3,326.3 128.9,326.4 129.4,327.7 130.0,328.8 130.6,331.0 131.1,330.1 131.7,331.8 132.2,336.8 132.8,334.7 133.3,328.9 133.9,337.6 134.4,335.3 135.0,331.5 135.5,336.4 136.1,334.3 136.6,331.4 137.2,332.6 137.8,331.5 138.3,333.8 138.9,336.0 139.4,332.2 140.0,333.8 140.5,337.2 141.1,326.6 141.6,333.0 142.2,331.6 142.7,329.8 143.3,329.8 143.8,332.4 144.4,333.5 144.9,331.1 145.5,332.6 146.1,334.2 146.6,333.2 147.2,334.6 147.7,333.6 148.3,333.7 148.8,337.0 149.4,334.0 149.9,333.1 150.5,334.3 151.0,330.2 151.6,331.7 152.1,334.5 152.7,335.7 153.3,336.7 153.8,333.0 154.4,329.5 154.9,339.4 155.5,336.3 156.0,331.2 156.6,337.6 157.1,334.5 157.7,330.2 158.2,334.0 158.8,334.0 159.3,339.6 159.9,333.9 160.4,335.6 161.0,335.8 161.6,335.8 162.1,334.7 162.7,337.8 163.2,340.1 163.8,339.1 164.3,335.4 164.9,335.1 165.4,338.4 166.0,336.5 166.5,336.9 167.1,334.5 167.6,343.7 168.2,341.3 168.7,336.8 169.3,341.7 169.9,342.9 170.4,333.7 171.0,338.5 171.5,339.0 172.1,341.7 172.6,339.9 173.2,339.7 173.7,340.2 174.3,345.1 174.8,345.9 175.4,339.2 175.9,338.2 176.5,346.4 177.1,337.9 177.6,338.7 178.2,340.1 178.7,341.0 179.3,342.1 179.8,340.2 180.4,336.7 180.9,339.8 181.5,338.8 182.0,342.6 182.6,337.5 183.1,333.9 183.7,334.3 184.2,340.2 184.8,335.0 185.4,330.8 185.9,334.4 186.5,335.7 187.0,338.6 187.6,333.0 188.1,337.2 188.7,337.5 189.2,333.7 189.8,335.0 190.3,339.9 190.9,341.5 191.4,337.6 192.0,336.3 192.5,340.8 193.1,335.1 193.7,335.2 194.2,333.3 194.8,335.4 195.3,335.2 195.9,341.4 196.4,334.9 197.0,338.6 197.5,338.7 198.1,334.9 198.6,338.3 199.2,329.4 199.7,335.6 200.3,337.5 200.9,329.4 201.4,332.5 202.0,338.0 202.5,334.8 203.1,330.2 203.6,334.5 204.2,334.0 204.7,337.3 205.3,336.9 205.8,335.5 206.4,335.1 206.9,337.2 207.5,341.4 208.0,339.8 208.6,341.3 209.2,340.1 209.7,338.0 210.3,340.2 210.8,344.3 211.4,343.4 211.9,341.3 212.5,339.8 213.0,344.2 213.6,343.2 214.1,343.2 214.7,343.4 215.2,344.9 215.8,345.0 216.3,346.7 216.9,346.7 217.5,347.7 218.0,346.5 218.6,343.6 219.1,344.4 219.7,345.8 220.2,343.8 220.8,346.0 221.3,347.6 221.9,342.8 222.4,340.4 223.0,347.8 223.5,344.9 224.1,346.7 224.7,341.6 225.2,349.3 225.8,346.9 226.3,344.8 226.9,344.3 227.4,345.5 228.0,344.9 228.5,344.7 229.1,342.7 229.6,348.8 230.2,346.0 230.7,347.3 231.3,348.8 231.8,344.2 232.4,352.9 233.0,352.0 233.5,353.0 234.1,354.2 234.6,351.7 235.2,356.3 235.7,352.6 236.3,352.1 236.8,352.3 237.4,354.8 237.9,356.3 238.5,353.0 239.0,350.8 239.6,357.2 240.1,352.0 240.7,360.3 241.3,354.6 241.8,353.1 242.4,351.9 242.9,357.3 243.5,359.6 244.0,355.3 244.6,360.8 245.1,362.0 245.7,356.9 246.2,355.1 246.8,353.6 247.3,355.7 247.9,358.2 248.5,358.5 249.0,357.5 249.6,362.5 250.1,355.5 250.7,358.4 251.2,366.8 251.8,364.5 252.3,363.2 252.9,363.2 253.4,366.5 254.0,363.5 254.5,362.4 255.1,359.2 255.6,362.2 256.2,358.9 256.8,360.7 257.3,360.7 257.9,362.4 258.4,361.7 259.0,364.7 259.5,359.2 260.1,361.8 260.6,366.3 261.2,361.0 261.7,363.0 262.3,361.9 262.8,361.2 263.4,358.6 264.0,352.2 264.5,353.9 265.1,352.6 265.6,348.9 266.2,349.9 266.7,348.5 267.3,347.0 267.8,351.4 268.4,350.4 268.9,348.5 269.5,347.5 270.0,348.1 270.6,348.0 271.1,347.4 271.7,347.6 272.3,345.6 272.8,345.4 273.4,342.7 273.9,339.1 274.5,333.9 275.0,332.0 275.6,332.9 276.1,329.8 276.7,328.6 277.2,321.2 277.8,319.5 278.3,324.7 278.9,323.0 279.4,323.9 280.0,320.5 280.6,317.3 281.1,314.8 281.7,308.9 282.2,312.1 282.8,305.6 283.3,305.4 283.9,301.6 284.4,298.7 285.0,297.3 285.5,290.9 286.1,288.0 286.6,283.5 287.2,281.5 287.8,283.5 288.3,275.5 288.9,276.8 289.4,273.8 290.0,271.7 290.5,270.2 291.1,264.1 291.6,266.1 292.2,267.7 292.7,260.7 293.3,261.1 293.8,258.4 294.4,259.9 294.9,255.5 295.5,263.3 296.1,255.6 296.6,251.9 297.2,259.5 297.7,256.7 298.3,254.8 298.8,254.2 299.4,251.4 299.9,251.3 300.5,253.3 301.0,253.5 301.6,253.4 302.1,251.8 302.7,250.6 303.2,252.0 303.8,256.3 304.4,258.4 304.9,255.2 305.5,256.3 306.0,261.9 306.6,261.9 307.1,264.8 307.7,259.8 308.2,263.8 308.8,265.2 309.3,268.9 309.9,266.0 310.4,275.2 311.0,274.6 311.6,276.6 312.1,274.2 312.7,278.5 313.2,283.3 313.8,277.4 314.3,283.5 314.9,285.8 315.4,283.7 316.0,288.7 316.5,287.2 317.1,295.1 317.6,291.7 318.2,292.0 318.7,297.5 319.3,295.5 319.9,297.5 320.4,291.9 321.0,293.9 321.5,298.0 322.1,298.7 322.6,296.7 323.2,299.2 323.7,295.0 324.3,298.5 324.8,295.5 325.4,299.5 325.9,297.8 326.5,297.7 327.0,299.7 327.6,304.3 328.2,297.5 328.7,298.7 329.3,303.1 329.8,299.5 330.4,305.2 330.9,301.4 331.5,301.2 332.0,301.9 332.6,305.4 333.1,302.8 333.7,302.5 334.2,301.9 334.8,295.3 335.4,299.2 335.9,305.2 336.5,303.6 337.0,302.8 337.6,303.2 338.1,300.3 338.7,302.5 339.2,299.5 339.8,302.7 340.3,300.0 340.9,301.3 341.4,303.0 342.0,301.1 342.5,303.5 343.1,303.1 343.7,302.9 344.2,305.3 344.8,298.3 345.3,298.0 345.9,303.5 346.4,304.4 347.0,307.0 347.5,305.6 348.1,304.0 348.6,299.6 349.2,303.7 349.7,303.4 350.3,298.9 350.8,299.2 351.4,301.0 352.0,301.9 352.5,295.1 353.1,301.1 353.6,301.4 354.2,300.2 354.7,301.2 355.3,301.5 355.8,297.8 356.4,302.2 356.9,299.5 357.5,297.7 358.0,300.5 358.6,303.6 359.2,296.3 359.7,295.8 360.3,295.9 360.8,305.2 361.4,299.9 361.9,300.7 362.5,299.3 363.0,299.3 363.6,297.1 364.1,303.1 364.7,303.8 365.2,298.7 365.8,301.5 366.3,302.7 366.9,304.9 367.5,306.0 368.0,308.5 368.6,309.3 369.1,308.8 369.7,309.5 370.2,303.3 370.8,304.7 371.3,308.9 371.9,306.6 372.4,305.7 373.0,300.5 373.5,300.5 374.1,306.7 374.7,305.4 375.2,302.7 375.8,302.7 376.3,299.0 376.9,303.8 377.4,305.1 378.0,306.1 378.5,301.7 379.1,300.5 379.6,295.4 380.2,303.1 380.7,303.9 381.3,297.5 381.8,299.2 382.4,298.0 383.0,295.6 383.5,290.3 384.1,294.6 384.6,296.2 385.2,290.2 385.7,290.8 386.3,285.9 386.8,294.2 387.4,291.2 387.9,289.1 388.5,286.7 389.0,285.3 389.6,285.5 390.1,283.5 390.7,282.0 391.3,280.8 391.8,279.4 392.4,281.1 392.9,271.8 393.5,274.2 394.0,270.3 394.6,267.4 395.1,263.0 395.7,269.2 396.2,264.3 396.8,264.3 397.3,267.2 397.9,263.4 398.5,266.8 399.0,267.4 399.6,270.7 400.1,272.5 400.7,269.2 401.2,275.2 401.8,274.1 402.3,276.1 402.9,276.6 403.4,280.2 404.0,276.1 404.5,280.5 405.1,283.6 405.6,280.6 406.2,287.0 406.8,280.7 407.3,283.7 407.9,282.5 408.4,282.8 409.0,282.1 409.5,284.2 410.1,286.1 410.6,284.9 411.2,291.8 411.7,292.3 412.3,285.6 412.8,292.6 413.4,292.1 413.9,293.6 414.5,300.5 415.1,299.0 415.6,298.4 416.2,299.7 416.7,295.5 417.3,304.6 417.8,302.5 418.4,306.5 418.9,307.9 419.5,311.7 420.0,316.9 420.6,314.8 421.1,316.9 421.7,314.7 422.3,317.9 422.8,320.3 423.4,316.3 423.9,326.5 424.5,321.0 425.0,320.9 425.6,329.3 426.1,331.5 426.7,325.3 427.2,326.1 427.8,334.2 428.3,328.9 428.9,324.2 429.4,328.0 430.0,335.0 430.6,332.0 431.1,332.6 431.7,334.1 432.2,333.1 432.8,330.8 433.3,328.0 433.9,333.3 434.4,327.2 435.0,332.6 435.5,337.4 436.1,334.5 436.6,333.6 437.2,333.8 437.7,335.7 438.3,338.4 438.9,331.0 439.4,334.9 440.0,338.9 440.5,336.7 441.1,333.0 441.6,333.4 442.2,330.0 442.7,331.6 443.3,339.5 443.8,335.4 444.4,333.6 444.9,334.4 445.5,335.7 446.1,335.8 446.6,335.3 447.2,334.4 447.7,338.1 448.3,340.5 448.8,335.4 449.4,335.6 449.9,340.1 450.5,331.3 451.0,336.0 451.6,336.7 452.1,338.3 452.7,337.4 453.2,336.2 453.8,339.5 454.4,336.1 454.9,335.1 455.5,333.9 456.0,342.2 456.6,336.5 457.1,342.4 457.7,343.5 458.2,346.2 458.8,342.0 459.3,342.0 459.9,344.3 460.4,342.9 461.0,341.7 461.5,348.5 462.1,343.6 462.7,350.8 463.2,348.1 463.8,346.0 464.3,348.6 464.9,350.9 465.4,344.7 466.0,346.2 466.5,346.1 467.1,349.5 467.6,350.4 468.2,349.7 468.7,348.1 469.3,348.9 469.9,353.4 470.4,353.5 471.0,351.3 471.5,348.0 472.1,353.1 472.6,352.5 473.2,352.6 473.7,356.5 474.3,354.5 474.8,350.2 475.4,350.4 475.9,356.5 476.5,353.7 477.0,355.6 477.6,353.2 478.2,351.3 478.7,354.6 479.3,357.9 479.8,355.0 480.4,351.4 480.9,353.5 481.5,353.2 482.0,354.9 482.6,357.1 483.1,359.6 483.7,355.3 484.2,353.8 484.8,355.1 485.4,355.0 485.9,354.0 486.5,355.2 487.0,355.2 487.6,352.3 488.1,356.6 488.7,354.4 489.2,352.9 489.8,356.7 490.3,353.4 490.9,359.9 491.4,356.8 492.0,355.8 492.5,353.8 493.1,354.7 493.7,357.8 494.2,354.0 494.8,357.7 495.3,350.6 495.9,356.4 496.4,357.9 497.0,356.8 497.5,356.0 498.1,358.5 498.6,353.9 499.2,353.6 499.7,356.4 500.3,359.1 500.8,357.3 501.4,355.7 502.0,357.0 502.5,357.4 503.1,353.2 503.6,350.1 504.2,353.8 504.7,352.7 505.3,355.0 505.8,353.4 506.4,354.3 506.9,357.6 507.5,356.8 508.0,356.5 508.6,360.7 509.2,354.6 509.7,355.7 510.3,359.9 510.8,353.9 511.4,350.5 511.9,360.0 512.5,357.6 513.0,358.3 513.6,358.4 514.1,359.1 514.7,355.7 515.2,356.7 515.8,354.2 516.3,357.3 516.9,357.6 517.5,355.9 518.0,358.7 518.6,362.8 519.1,354.3 519.7,359.2 520.2,359.6 520.8,359.9 521.3,355.2 521.9,360.3 522.4,359.0 523.0,357.0 523.5,356.5 524.1,358.0 524.6,359.8 525.2,359.7 525.8,363.2 526.3,356.7 526.9,360.9 527.4,356.6 528.0,359.6 528.5,358.0 529.1,355.2 529.6,351.8 530.2,355.9 530.7,359.3 531.3,361.5 531.8,361.9 532.4,354.9 533.0,356.7 533.5,358.0 534.1,357.6 534.6,358.1 535.2,359.9 535.7,358.5 536.3,356.2 536.8,353.1 537.4,357.1 537.9,353.8 538.5,357.6 539.0,358.8 539.6,354.7 540.1,357.6 540.7,357.1 541.3,362.8" fill="none" stroke="#8000ff" stroke-width="3.1" stroke-linejoin="round"/>
<path d="M74.1,408.0 74.7,410.7 75.2,399.2 75.8,406.4 76.3,410.4 76.9,411.9 77.4,410.5 78.0,413.5 78.5,410.5 79.1,411.7 79.6,411.1 80.2,407.9 80.7,408.9 81.3,412.9 81.8,410.6 82.4,416.4 83.0,416.8 83.5,418.7 84.1,413.8 84.6,418.2 85.2,411.8 85.7,412.3 86.3,415.1 86.8,415.8 87.4,410.4 87.9,409.9 88.5,415.6 89.0,411.6 89.6,417.1 90.2,414.0 90.7,412.9 91.3,411.7 91.8,412.8 92.4,408.7 92.9,411.3 93.5,405.6 94.0,405.4 94.6,403.0 95.1,405.7 95.7,403.2 96.2,397.5 96.8,407.3 97.3,399.7 97.9,399.7 98.5,400.4 99.0,403.7 99.6,397.5 100.1,399.3 100.7,396.8 101.2,391.6 101.8,397.3 102.3,397.2 102.9,392.7 103.4,392.4 104.0,387.2 104.5,386.1 105.1,388.1 105.6,389.6 106.2,384.9 106.8,385.5 107.3,388.5 107.9,382.2 108.4,382.5 109.0,383.9 109.5,375.0 110.1,379.8 110.6,371.1 111.2,376.7 111.7,374.9 112.3,371.4 112.8,368.5 113.4,369.8 114.0,367.3 114.5,367.1 115.1,362.2 115.6,364.3 116.2,357.3 116.7,356.4 117.3,352.8 117.8,354.5 118.4,343.7 118.9,343.7 119.5,345.4 120.0,337.7 120.6,334.9 121.1,340.6 121.7,342.9 122.3,351.4 122.8,351.1 123.4,357.5 123.9,361.8 124.5,365.4 125.0,361.5 125.6,370.8 126.1,365.8 126.7,365.8 127.2,369.2 127.8,374.1 128.3,374.2 128.9,377.7 129.4,379.0 130.0,379.3 130.6,377.5 131.1,384.3 131.7,372.5 132.2,373.9 132.8,377.4 133.3,375.1 133.9,371.6 134.4,376.2 135.0,376.1 135.5,371.2 136.1,380.5 136.6,381.6 137.2,381.2 137.8,376.0 138.3,378.2 138.9,374.0 139.4,377.7 140.0,375.1 140.5,378.2 141.1,376.0 141.6,382.7 142.2,379.4 142.7,380.7 143.3,372.5 143.8,372.0 144.4,378.6 144.9,375.9 145.5,378.9 146.1,378.8 146.6,378.6 147.2,381.0 147.7,380.2 148.3,380.1 148.8,376.4 149.4,384.2 149.9,379.8 150.5,382.9 151.0,380.8 151.6,383.8 152.1,380.8 152.7,381.3 153.3,381.4 153.8,379.3 154.4,380.1 154.9,381.7 155.5,382.2 156.0,380.1 156.6,390.2 157.1,380.9 157.7,383.3 158.2,391.6 158.8,383.1 159.3,387.6 159.9,387.7 160.4,385.5 161.0,382.3 161.6,382.2 162.1,386.9 162.7,388.5 163.2,380.6 163.8,388.3 164.3,386.2 164.9,391.0 165.4,389.2 166.0,386.7 166.5,388.0 167.1,389.6 167.6,393.6 168.2,396.9 168.7,391.2 169.3,390.7 169.9,392.5 170.4,390.6 171.0,392.6 171.5,392.0 172.1,390.8 172.6,388.5 173.2,391.2 173.7,393.2 174.3,390.7 174.8,394.7 175.4,395.6 175.9,389.5 176.5,394.7 177.1,386.2 177.6,392.6 178.2,394.4 178.7,388.0 179.3,388.2 179.8,391.0 180.4,392.2 180.9,389.1 181.5,388.3 182.0,392.8 182.6,388.0 183.1,383.6 183.7,386.4 184.2,386.8 184.8,382.4 185.4,387.8 185.9,384.4 186.5,388.5 187.0,382.0 187.6,383.5 188.1,381.8 188.7,389.7 189.2,389.5 189.8,390.0 190.3,389.9 190.9,388.2 191.4,388.0 192.0,380.4 192.5,386.2 193.1,383.7 193.7,383.7 194.2,381.5 194.8,388.8 195.3,385.4 195.9,380.6 196.4,386.4 197.0,384.6 197.5,381.8 198.1,383.9 198.6,382.5 199.2,378.2 199.7,380.5 200.3,386.6 200.9,387.3 201.4,386.4 202.0,382.6 202.5,384.6 203.1,386.9 203.6,389.2 204.2,385.2 204.7,385.0 205.3,391.9 205.8,389.3 206.4,388.5 206.9,387.9 207.5,388.7 208.0,395.6 208.6,394.3 209.2,390.7 209.7,388.7 210.3,397.6 210.8,397.7 211.4,397.0 211.9,396.3 212.5,388.7 213.0,390.8 213.6,396.5 214.1,394.4 214.7,396.4 215.2,394.5 215.8,394.4 216.3,398.3 216.9,395.9 217.5,397.4 218.0,398.5 218.6,398.8 219.1,401.9 219.7,402.9 220.2,395.3 220.8,398.9 221.3,398.2 221.9,402.6 222.4,397.7 223.0,403.5 223.5,403.7 224.1,405.3 224.7,399.8 225.2,402.5 225.8,400.5 226.3,405.2 226.9,407.4 227.4,400.7 228.0,403.2 228.5,405.6 229.1,405.0 229.6,411.3 230.2,407.0 230.7,408.5 231.3,404.9 231.8,413.0 232.4,409.3 233.0,411.3 233.5,409.6 234.1,403.4 234.6,405.1 235.2,406.2 235.7,411.6 236.3,408.9 236.8,411.8 237.4,411.6 237.9,411.7 238.5,413.8 239.0,411.8 239.6,406.7 240.1,409.6 240.7,416.6 241.3,408.8 241.8,416.0 242.4,417.0 242.9,410.7 243.5,413.6 244.0,408.7 244.6,415.2 245.1,410.9 245.7,409.5 246.2,412.4 246.8,412.4 247.3,412.3 247.9,414.8 248.5,414.0 249.0,412.8 249.6,417.7 250.1,422.2 250.7,415.7 251.2,413.7 251.8,413.0 252.3,417.8 252.9,415.6 253.4,416.5 254.0,410.9 254.5,413.5 255.1,413.5 255.6,419.7 256.2,416.3 256.8,410.1 257.3,418.5 257.9,420.2 258.4,420.4 259.0,409.2 259.5,416.1 260.1,417.4 260.6,416.1 261.2,412.9 261.7,407.5 262.3,410.5 262.8,409.9 263.4,411.5 264.0,410.8 264.5,407.2 265.1,411.6 265.6,402.9 266.2,401.1 266.7,403.6 267.3,404.1 267.8,400.2 268.4,403.3 268.9,399.4 269.5,393.9 270.0,395.2 270.6,390.7 271.1,388.7 271.7,385.4 272.3,391.4 272.8,387.6 273.4,377.8 273.9,383.0 274.5,380.0 275.0,373.5 275.6,373.5 276.1,376.1 276.7,368.1 277.2,366.2 277.8,366.0 278.3,357.5 278.9,354.6 279.4,349.1 280.0,353.7 280.6,354.2 281.1,347.0 281.7,343.3 282.2,345.8 282.8,342.0 283.3,342.7 283.9,338.4 284.4,336.0 285.0,334.0 285.5,332.1 286.1,326.7 286.6,323.8 287.2,329.4 287.8,329.7 288.3,324.5 288.9,314.9 289.4,318.2 290.0,320.0 290.5,310.4 291.1,311.3 291.6,311.5 292.2,309.2 292.7,308.9 293.3,314.1 293.8,309.9 294.4,310.6 294.9,316.4 295.5,309.2 296.1,306.4 296.6,314.2 297.2,318.5 297.7,313.6 298.3,314.3 298.8,310.1 299.4,311.6 299.9,321.6 300.5,319.0 301.0,317.7 301.6,315.0 302.1,314.3 302.7,315.8 303.2,316.6 303.8,323.0 304.4,320.1 304.9,322.3 305.5,327.0 306.0,328.3 306.6,327.7 307.1,330.2 307.7,330.0 308.2,325.5 308.8,331.9 309.3,331.9 309.9,333.2 310.4,335.9 311.0,334.6 311.6,340.8 312.1,337.7 312.7,339.7 313.2,341.1 313.8,340.6 314.3,343.8 314.9,345.0 315.4,345.5 316.0,342.3 316.5,342.5 317.1,342.5 317.6,346.5 318.2,341.7 318.7,345.4 319.3,345.2 319.9,347.2 320.4,347.2 321.0,353.0 321.5,352.7 322.1,355.0 322.6,350.3 323.2,352.0 323.7,354.4 324.3,361.1 324.8,362.1 325.4,356.3 325.9,360.6 326.5,365.6 327.0,356.7 327.6,359.2 328.2,363.5 328.7,361.7 329.3,356.6 329.8,363.7 330.4,362.0 330.9,360.9 331.5,355.0 332.0,357.8 332.6,361.8 333.1,360.3 333.7,359.5 334.2,356.1 334.8,360.9 335.4,355.4 335.9,358.4 336.5,356.3 337.0,352.2 337.6,361.6 338.1,350.7 338.7,351.9 339.2,354.2 339.8,349.4 340.3,348.1 340.9,352.8 341.4,351.8 342.0,352.2 342.5,354.4 343.1,359.5 343.7,351.8 344.2,360.0 344.8,353.8 345.3,352.8 345.9,346.3 346.4,348.8 347.0,354.1 347.5,355.0 348.1,351.0 348.6,354.4 349.2,356.2 349.7,352.1 350.3,349.1 350.8,351.1 351.4,353.1 352.0,354.9 352.5,356.4 353.1,351.6 353.6,354.5 354.2,353.7 354.7,354.6 355.3,357.8 355.8,358.4 356.4,353.3 356.9,353.0 357.5,352.8 358.0,353.3 358.6,353.7 359.2,354.4 359.7,353.4 360.3,351.8 360.8,351.5 361.4,355.1 361.9,362.0 362.5,356.5 363.0,356.8 363.6,355.9 364.1,354.4 364.7,360.7 365.2,354.0 365.8,352.1 366.3,351.3 366.9,355.4 367.5,352.0 368.0,352.4 368.6,352.4 369.1,351.1 369.7,355.4 370.2,350.0 370.8,361.5 371.3,348.0 371.9,350.9 372.4,355.1 373.0,356.1 373.5,353.9 374.1,355.8 374.7,355.3 375.2,354.6 375.8,355.1 376.3,353.0 376.9,350.7 377.4,349.2 378.0,350.7 378.5,346.1 379.1,346.9 379.6,348.4 380.2,343.7 380.7,345.1 381.3,339.3 381.8,340.3 382.4,340.0 383.0,338.2 383.5,338.0 384.1,339.7 384.6,333.8 385.2,331.8 385.7,333.7 386.3,327.6 386.8,330.9 387.4,333.4 387.9,329.0 388.5,329.7 389.0,328.3 389.6,329.6 390.1,326.4 390.7,324.4 391.3,315.6 391.8,319.8 392.4,322.3 392.9,318.7 393.5,316.1 394.0,320.1 394.6,314.4 395.1,315.8 395.7,318.7 396.2,315.4 396.8,317.6 397.3,317.4 397.9,314.5 398.5,317.0 399.0,318.1 399.6,317.9 400.1,326.5 400.7,321.4 401.2,320.6 401.8,319.4 402.3,323.5 402.9,329.3 403.4,325.8 404.0,330.1 404.5,331.2 405.1,330.9 405.6,332.6 406.2,340.0 406.8,336.6 407.3,345.8 407.9,343.0 408.4,350.7 409.0,348.6 409.5,351.0 410.1,355.6 410.6,350.9 411.2,355.2 411.7,355.3 412.3,358.9 412.8,360.6 413.4,360.6 413.9,361.5 414.5,361.1 415.1,365.4 415.6,364.4 416.2,367.0 416.7,368.7 417.3,365.7 417.8,367.9 418.4,373.2 418.9,373.7 419.5,378.5 420.0,369.0 420.6,377.2 421.1,380.3 421.7,377.9 422.3,380.4 422.8,378.7 423.4,378.9 423.9,382.1 424.5,376.1 425.0,373.8 425.6,382.0 426.1,381.3 426.7,381.6 427.2,382.4 427.8,383.6 428.3,380.7 428.9,383.6 429.4,383.4 430.0,379.4 430.6,382.4 431.1,383.8 431.7,378.7 432.2,386.3 432.8,382.5 433.3,385.8 433.9,387.8 434.4,379.4 435.0,379.9 435.5,385.5 436.1,383.4 436.6,385.5 437.2,391.1 437.7,382.7 438.3,386.7 438.9,383.5 439.4,382.5 440.0,385.8 440.5,385.2 441.1,390.5 441.6,385.6 442.2,387.3 442.7,386.4 443.3,378.1 443.8,384.1 444.4,384.4 444.9,388.1 445.5,382.8 446.1,386.7 446.6,385.2 447.2,381.5 447.7,386.7 448.3,389.4 448.8,387.0 449.4,391.1 449.9,390.0 450.5,390.3 451.0,388.4 451.6,389.8 452.1,392.1 452.7,391.2 453.2,388.1 453.8,391.5 454.4,393.6 454.9,396.0 455.5,395.6 456.0,390.6 456.6,395.7 457.1,389.3 457.7,392.3 458.2,392.0 458.8,399.0 459.3,396.8 459.9,395.9 460.4,393.4 461.0,399.0 461.5,394.9 462.1,397.1 462.7,399.1 463.2,395.2 463.8,397.8 464.3,390.7 464.9,398.3 465.4,391.9 466.0,398.1 466.5,397.9 467.1,398.7 467.6,404.1 468.2,390.6 468.7,399.1 469.3,396.8 469.9,400.3 470.4,400.1 471.0,398.8 471.5,397.2 472.1,396.7 472.6,400.0 473.2,394.7 473.7,402.4 474.3,397.8 474.8,400.9 475.4,396.3 475.9,401.3 476.5,399.4 477.0,402.5 477.6,407.2 478.2,399.0 478.7,401.0 479.3,401.6 479.8,405.3 480.4,397.4 480.9,403.1 481.5,401.5 482.0,398.2 482.6,400.9 483.1,400.0 483.7,405.3 484.2,399.6 484.8,405.4 485.4,401.3 485.9,404.8 486.5,398.0 487.0,401.0 487.6,403.8 488.1,400.9 488.7,399.2 489.2,404.0 489.8,406.4 490.3,404.4 490.9,403.9 491.4,405.9 492.0,403.6 492.5,407.7 493.1,408.4 493.7,401.7 494.2,408.6 494.8,407.7 495.3,406.7 495.9,409.9 496.4,410.3 497.0,411.8 497.5,411.0 498.1,405.7 498.6,410.4 499.2,401.7 499.7,409.2 500.3,408.7 500.8,409.6 501.4,402.0 502.0,411.0 502.5,410.6 503.1,407.5 503.6,402.8 504.2,407.9 504.7,404.5 505.3,399.9 505.8,405.0 506.4,413.9 506.9,402.8 507.5,406.1 508.0,407.7 508.6,409.8 509.2,404.2 509.7,404.3 510.3,409.7 510.8,407.9 511.4,410.7 511.9,403.8 512.5,406.9 513.0,409.9 513.6,407.6 514.1,404.0 514.7,407.7 515.2,401.9 515.8,405.2 516.3,409.6 516.9,410.0 517.5,408.7 518.0,409.6 518.6,403.2 519.1,405.8 519.7,410.7 520.2,414.4 520.8,409.2 521.3,405.3 521.9,405.2 522.4,411.5 523.0,411.3 523.5,401.5 524.1,408.6 524.6,412.3 525.2,412.4 525.8,406.9 526.3,407.9 526.9,409.8 527.4,405.3 528.0,403.8 528.5,406.5 529.1,412.0 529.6,411.6 530.2,409.8 530.7,405.1 531.3,402.8 531.8,405.4 532.4,408.5 533.0,411.4 533.5,405.8 534.1,408.6 534.6,403.1 535.2,402.2 535.7,408.1 536.3,404.8 536.8,405.3 537.4,401.7 537.9,410.6 538.5,403.0 539.0,408.3 539.6,403.8 540.1,407.0 540.7,412.0 541.3,408.8" fill="none" stroke="#000080" stroke-width="3.1" stroke-linejoin="round"/>
<path d="M74.1,488.2 74.7,489.7 75.2,489.1 75.8,486.5 76.3,489.1 76.9,489.3 77.4,492.2 78.0,495.6 78.5,491.8 79.1,491.8 79.6,495.7 80.2,494.6 80.7,494.2 81.3,492.0 81.8,494.1 82.4,497.3 83.0,491.2 83.5,493.2 84.1,489.8 84.6,490.9 85.2,489.3 85.7,492.6 86.3,487.2 86.8,492.8 87.4,492.2 87.9,490.5 88.5,484.8 89.0,488.4 89.6,488.9 90.2,488.6 90.7,484.2 91.3,486.0 91.8,484.1 92.4,483.6 92.9,487.1 93.5,481.9 94.0,482.8 94.6,484.0 95.1,479.7 95.7,479.9 96.2,479.5 96.8,478.5 97.3,474.7 97.9,476.9 98.5,481.4 99.0,471.7 99.6,476.5 100.1,474.2 100.7,471.8 101.2,477.3 101.8,473.9 102.3,468.8 102.9,471.2 103.4,473.0 104.0,469.4 104.5,470.8 105.1,468.5 105.6,469.5 106.2,470.6 106.8,465.0 107.3,466.3 107.9,463.0 108.4,464.4 109.0,460.4 109.5,460.8 110.1,460.5 110.6,461.8 111.2,461.0 111.7,453.9 112.3,453.5 112.8,455.2 113.4,447.4 114.0,449.1 114.5,447.8 115.1,448.8 115.6,444.2 116.2,437.3 116.7,433.8 117.3,430.3 117.8,431.2 118.4,424.7 118.9,424.6 119.5,428.7 120.0,432.2 120.6,436.8 121.1,438.2 121.7,443.6 122.3,445.4 122.8,451.7 123.4,452.9 123.9,453.3 124.5,457.8 125.0,455.1 125.6,459.0 126.1,457.3 126.7,459.3 127.2,455.6 127.8,460.6 128.3,455.8 128.9,455.4 129.4,459.2 130.0,458.8 130.6,461.9 131.1,466.6 131.7,459.7 132.2,460.3 132.8,462.3 133.3,462.9 133.9,461.3 134.4,461.1 135.0,463.0 135.5,462.3 136.1,458.4 136.6,460.3 137.2,460.2 137.8,457.3 138.3,459.9 138.9,457.0 139.4,460.8 140.0,458.5 140.5,457.9 141.1,454.7 141.6,456.7 142.2,452.0 142.7,453.7 143.3,456.9 143.8,451.0 144.4,457.7 144.9,451.7 145.5,457.4 146.1,453.8 146.6,457.7 147.2,456.3 147.7,452.7 148.3,459.3 148.8,460.0 149.4,456.8 149.9,456.6 150.5,457.2 151.0,455.7 151.6,460.8 152.1,457.4 152.7,458.9 153.3,457.6 153.8,458.4 154.4,457.3 154.9,463.4 155.5,460.6 156.0,463.5 156.6,461.8 157.1,459.2 157.7,462.0 158.2,462.0 158.8,463.9 159.3,463.7 159.9,464.4 160.4,462.6 161.0,464.5 161.6,470.8 162.1,466.0 162.7,465.7 163.2,469.4 163.8,472.4 164.3,466.2 164.9,469.5 165.4,468.9 166.0,466.5 166.5,472.5 167.1,470.8 167.6,471.1 168.2,469.2 168.7,471.9 169.3,469.6 169.9,470.5 170.4,466.0 171.0,468.0 171.5,473.8 172.1,468.5 172.6,471.4 173.2,470.6 173.7,469.6 174.3,469.4 174.8,471.9 175.4,469.7 175.9,470.0 176.5,470.4 177.1,473.0 177.6,471.7 178.2,471.0 178.7,468.7 179.3,466.8 179.8,472.1 180.4,472.0 180.9,469.2 181.5,470.6 182.0,470.8 182.6,470.6 183.1,470.4 183.7,466.8 184.2,470.9 184.8,464.1 185.4,468.4 185.9,467.1 186.5,467.5 187.0,469.3 187.6,467.9 188.1,461.3 188.7,459.6 189.2,464.9 189.8,460.2 190.3,462.2 190.9,463.8 191.4,457.7 192.0,456.4 192.5,461.6 193.1,461.0 193.7,460.2 194.2,460.9 194.8,458.9 195.3,455.4 195.9,460.6 196.4,458.9 197.0,457.6 197.5,462.7 198.1,461.5 198.6,463.0 199.2,460.0 199.7,461.1 200.3,460.6 200.9,461.2 201.4,464.0 202.0,462.1 202.5,465.1 203.1,465.4 203.6,470.5 204.2,462.2 204.7,467.8 205.3,465.9 205.8,466.5 206.4,463.5 206.9,466.1 207.5,469.2 208.0,467.6 208.6,468.3 209.2,467.8 209.7,471.4 210.3,469.0 210.8,464.3 211.4,468.1 211.9,465.5 212.5,464.9 213.0,469.5 213.6,474.2 214.1,471.5 214.7,466.6 215.2,469.9 215.8,475.0 216.3,473.1 216.9,473.2 217.5,473.3 218.0,473.8 218.6,475.9 219.1,475.6 219.7,475.1 220.2,472.5 220.8,477.4 221.3,473.9 221.9,478.2 222.4,473.0 223.0,475.9 223.5,476.4 224.1,473.6 224.7,480.9 225.2,482.7 225.8,476.3 226.3,479.4 226.9,478.7 227.4,472.5 228.0,478.8 228.5,478.3 229.1,478.9 229.6,476.4 230.2,478.5 230.7,478.9 231.3,482.3 231.8,480.6 232.4,480.0 233.0,483.8 233.5,479.2 234.1,479.8 234.6,476.8 235.2,484.9 235.7,483.8 236.3,483.9 236.8,483.6 237.4,482.6 237.9,483.1 238.5,482.3 239.0,482.7 239.6,483.5 240.1,487.1 240.7,485.2 241.3,484.0 241.8,483.0 242.4,483.1 242.9,488.4 243.5,486.0 244.0,485.1 244.6,484.3 245.1,482.6 245.7,485.1 246.2,487.3 246.8,484.5 247.3,484.9 247.9,485.0 248.5,485.9 249.0,482.0 249.6,485.2 250.1,483.8 250.7,487.9 251.2,484.1 251.8,487.3 252.3,489.5 252.9,485.3 253.4,484.7 254.0,486.6 254.5,486.1 255.1,483.9 255.6,487.2 256.2,490.8 256.8,485.6 257.3,485.6 257.9,483.1 258.4,485.0 259.0,479.9 259.5,478.3 260.1,481.7 260.6,474.5 261.2,476.9 261.7,475.7 262.3,470.9 262.8,469.8 263.4,471.7 264.0,465.5 264.5,463.5 265.1,458.3 265.6,463.0 266.2,465.4 266.7,463.3 267.3,456.0 267.8,457.3 268.4,457.1 268.9,457.8 269.5,455.5 270.0,455.2 270.6,454.0 271.1,451.1 271.7,449.8 272.3,448.0 272.8,444.7 273.4,443.0 273.9,442.9 274.5,436.5 275.0,431.7 275.6,424.0 276.1,425.2 276.7,416.4 277.2,414.2 277.8,416.1 278.3,412.1 278.9,406.2 279.4,398.6 280.0,397.8 280.6,391.8 281.1,392.5 281.7,392.9 282.2,385.3 282.8,380.7 283.3,375.6 283.9,379.3 284.4,377.7 285.0,371.9 285.5,376.1 286.1,372.1 286.6,376.4 287.2,375.4 287.8,376.9 288.3,370.4 288.9,372.2 289.4,370.3 290.0,369.5 290.5,368.8 291.1,367.6 291.6,367.9 292.2,374.0 292.7,373.0 293.3,375.5 293.8,379.0 294.4,374.6 294.9,378.7 295.5,382.8 296.1,385.1 296.6,385.1 297.2,392.0 297.7,389.3 298.3,387.2 298.8,389.0 299.4,394.1 299.9,394.6 300.5,390.6 301.0,399.7 301.6,399.7 302.1,403.3 302.7,401.2 303.2,403.4 303.8,403.5 304.4,413.6 304.9,409.7 305.5,415.6 306.0,412.2 306.6,415.8 307.1,413.3 307.7,418.0 308.2,422.9 308.8,419.5 309.3,426.5 309.9,426.4 310.4,424.8 311.0,427.4 311.6,428.8 312.1,430.8 312.7,430.5 313.2,430.6 313.8,432.4 314.3,431.4 314.9,431.5 315.4,435.0 316.0,437.7 316.5,432.7 317.1,436.8 317.6,435.8 318.2,435.5 318.7,440.2 319.3,437.4 319.9,442.4 320.4,437.5 321.0,440.5 321.5,439.3 322.1,438.3 322.6,441.5 323.2,439.9 323.7,441.7 324.3,440.3 324.8,438.0 325.4,440.3 325.9,440.7 326.5,442.9 327.0,438.6 327.6,440.7 328.2,436.9 328.7,442.4 329.3,438.4 329.8,436.8 330.4,440.9 330.9,443.6 331.5,435.6 332.0,438.6 332.6,439.4 333.1,438.6 333.7,442.1 334.2,439.4 334.8,439.6 335.4,442.6 335.9,439.5 336.5,442.3 337.0,439.1 337.6,438.5 338.1,437.1 338.7,445.6 339.2,440.5 339.8,441.7 340.3,440.9 340.9,441.5 341.4,440.7 342.0,444.8 342.5,437.8 343.1,436.3 343.7,437.3 344.2,436.3 344.8,440.8 345.3,440.6 345.9,436.2 346.4,435.0 347.0,437.1 347.5,440.8 348.1,431.8 348.6,438.3 349.2,434.4 349.7,439.0 350.3,434.0 350.8,435.6 351.4,432.7 352.0,433.8 352.5,439.2 353.1,437.9 353.6,435.1 354.2,434.0 354.7,431.7 355.3,435.2 355.8,436.1 356.4,436.1 356.9,436.2 357.5,433.9 358.0,436.4 358.6,436.6 359.2,439.8 359.7,441.2 360.3,436.7 360.8,435.4 361.4,437.1 361.9,436.0 362.5,435.8 363.0,437.5 363.6,435.3 364.1,439.2 364.7,437.4 365.2,438.5 365.8,437.6 366.3,436.4 366.9,435.9 367.5,437.6 368.0,436.8 368.6,438.5 369.1,437.7 369.7,434.2 370.2,437.1 370.8,433.3 371.3,434.4 371.9,434.5 372.4,429.7 373.0,433.9 373.5,433.2 374.1,431.6 374.7,430.1 375.2,429.4 375.8,427.1 376.3,427.8 376.9,426.3 377.4,426.9 378.0,423.1 378.5,425.6 379.1,424.6 379.6,423.1 380.2,421.6 380.7,423.0 381.3,417.0 381.8,421.0 382.4,419.6 383.0,418.7 383.5,417.9 384.1,414.5 384.6,414.4 385.2,415.4 385.7,413.8 386.3,412.2 386.8,407.1 387.4,410.5 387.9,410.6 388.5,408.7 389.0,405.4 389.6,399.7 390.1,403.8 390.7,399.7 391.3,392.9 391.8,397.8 392.4,392.0 392.9,391.1 393.5,391.4 394.0,394.3 394.6,389.1 395.1,389.2 395.7,391.3 396.2,389.9 396.8,385.3 397.3,384.6 397.9,382.4 398.5,384.2 399.0,387.6 399.6,388.6 400.1,389.2 400.7,392.8 401.2,390.3 401.8,393.7 402.3,397.3 402.9,398.7 403.4,401.6 404.0,401.9 404.5,402.3 405.1,406.2 405.6,405.7 406.2,407.0 406.8,416.2 407.3,416.4 407.9,420.1 408.4,418.3 409.0,424.1 409.5,426.0 410.1,427.6 410.6,426.2 411.2,433.0 411.7,437.9 412.3,438.8 412.8,438.6 413.4,442.0 413.9,445.7 414.5,440.3 415.1,447.3 415.6,450.5 416.2,452.3 416.7,456.0 417.3,455.9 417.8,454.9 418.4,455.7 418.9,457.4 419.5,454.9 420.0,456.5 420.6,459.2 421.1,462.1 421.7,457.7 422.3,458.4 422.8,459.3 423.4,462.3 423.9,459.5 424.5,463.2 425.0,457.8 425.6,459.8 426.1,459.9 426.7,462.2 427.2,462.8 427.8,456.8 428.3,458.1 428.9,460.7 429.4,458.2 430.0,455.9 430.6,461.4 431.1,459.7 431.7,459.3 432.2,455.6 432.8,459.6 433.3,456.2 433.9,458.8 434.4,453.7 435.0,453.3 435.5,455.3 436.1,452.8 436.6,455.6 437.2,454.3 437.7,451.3 438.3,453.6 438.9,452.3 439.4,455.1 440.0,451.6 440.5,452.2 441.1,456.4 441.6,459.2 442.2,459.3 442.7,455.6 443.3,456.8 443.8,460.7 444.4,457.8 444.9,456.7 445.5,460.1 446.1,461.8 446.6,459.7 447.2,458.6 447.7,459.7 448.3,465.1 448.8,462.3 449.4,464.2 449.9,465.5 450.5,466.9 451.0,465.2 451.6,467.6 452.1,464.8 452.7,466.5 453.2,465.4 453.8,473.1 454.4,468.5 454.9,467.3 455.5,468.6 456.0,469.2 456.6,471.7 457.1,466.7 457.7,468.3 458.2,470.1 458.8,476.8 459.3,473.7 459.9,471.2 460.4,473.5 461.0,476.8 461.5,471.6 462.1,471.4 462.7,475.2 463.2,473.7 463.8,474.2 464.3,471.5 464.9,477.2 465.4,476.8 466.0,474.3 466.5,474.6 467.1,468.4 467.6,474.6 468.2,472.8 468.7,474.3 469.3,474.9 469.9,472.7 470.4,469.6 471.0,474.5 471.5,472.0 472.1,473.0 472.6,472.5 473.2,473.2 473.7,468.8 474.3,479.6 474.8,475.0 475.4,477.1 475.9,479.3 476.5,475.0 477.0,471.0 477.6,473.3 478.2,470.4 478.7,474.7 479.3,476.3 479.8,471.7 480.4,477.4 480.9,473.4 481.5,477.8 482.0,477.1 482.6,476.9 483.1,477.7 483.7,476.9 484.2,477.0 484.8,474.8 485.4,478.8 485.9,483.3 486.5,483.9 487.0,482.6 487.6,481.3 488.1,478.3 488.7,483.4 489.2,480.1 489.8,480.2 490.3,479.8 490.9,480.8 491.4,479.7 492.0,480.6 492.5,478.4 493.1,480.1 493.7,486.3 494.2,480.9 494.8,480.6 495.3,482.4 495.9,482.9 496.4,478.8 497.0,480.9 497.5,483.6 498.1,482.2 498.6,481.9 499.2,485.2 499.7,478.7 500.3,481.9 500.8,480.6 501.4,485.3 502.0,477.4 502.5,480.4 503.1,480.8 503.6,485.0 504.2,483.6 504.7,485.4 505.3,478.7 505.8,484.1 506.4,481.8 506.9,481.0 507.5,483.8 508.0,480.6 508.6,478.0 509.2,482.0 509.7,479.6 510.3,481.6 510.8,484.1 511.4,484.1 511.9,487.2 512.5,483.2 513.0,480.3 513.6,482.2 514.1,481.9 514.7,481.4 515.2,485.3 515.8,483.0 516.3,480.1 516.9,486.3 517.5,484.6 518.0,486.6 518.6,485.4 519.1,486.7 519.7,485.5 520.2,488.3 520.8,486.5 521.3,486.5 521.9,486.6 522.4,480.2 523.0,485.4 523.5,485.2 524.1,486.3 524.6,482.7 525.2,489.6 525.8,486.0 526.3,483.0 526.9,481.8 527.4,485.1 528.0,485.5 528.5,482.6 529.1,485.9 529.6,484.2 530.2,486.9 530.7,483.9 531.3,485.4 531.8,487.7 532.4,490.9 533.0,483.0 533.5,484.2 534.1,483.3 534.6,486.9 535.2,480.0 535.7,483.8 536.3,484.8 536.8,482.5 537.4,482.4 537.9,483.4 538.5,479.6 539.0,481.0 539.6,483.2 540.1,484.4 540.7,483.4 541.3,479.6" fill="none" stroke="#008000" stroke-width="3.1" stroke-linejoin="round"/>
<path d="M74.1,530.6 74.7,532.1 75.2,532.7 75.8,535.3 76.3,531.5 76.9,536.5 77.4,535.3 78.0,539.5 78.5,539.9 79.1,541.0 79.6,539.8 80.2,538.2 80.7,540.2 81.3,541.6 81.8,537.0 82.4,539.4 83.0,537.8 83.5,542.6 84.1,535.4 84.6,536.1 85.2,537.0 85.7,536.2 86.3,531.7 86.8,535.4 87.4,533.9 87.9,533.1 88.5,532.8 89.0,533.1 89.6,528.4 90.2,534.9 90.7,529.4 91.3,525.9 91.8,529.9 92.4,532.6 92.9,527.9 93.5,531.7 94.0,531.1 94.6,525.4 95.1,521.6 95.7,521.1 96.2,527.9 96.8,523.0 97.3,521.0 97.9,520.7 98.5,522.9 99.0,522.2 99.6,523.4 100.1,522.9 100.7,518.1 101.2,518.6 101.8,515.9 102.3,517.5 102.9,513.8 103.4,512.1 104.0,517.3 104.5,511.0 105.1,510.4 105.6,512.2 106.2,507.1 106.8,503.8 107.3,502.9 107.9,500.0 108.4,502.7 109.0,498.7 109.5,502.0 110.1,496.6 110.6,495.6 111.2,494.5 111.7,495.8 112.3,493.9 112.8,495.2 113.4,490.0 114.0,490.7 114.5,493.2 115.1,488.0 115.6,489.3 116.2,492.2 116.7,493.4 117.3,492.7 117.8,492.1 118.4,503.1 118.9,500.4 119.5,503.6 120.0,501.2 120.6,507.3 121.1,506.6 121.7,505.5 122.3,504.2 122.8,507.3 123.4,505.8 123.9,506.6 124.5,503.9 125.0,506.5 125.6,508.1 126.1,502.9 126.7,508.3 127.2,509.6 127.8,507.7 128.3,507.2 128.9,507.3 129.4,510.7 130.0,505.6 130.6,508.3 131.1,508.2 131.7,509.7 132.2,509.1 132.8,507.0 133.3,513.8 133.9,510.0 134.4,506.9 135.0,508.0 135.5,510.2 136.1,511.4 136.6,507.5 137.2,512.0 137.8,507.9 138.3,509.3 138.9,514.6 139.4,515.0 140.0,511.5 140.5,511.3 141.1,514.8 141.6,510.2 142.2,513.3 142.7,513.5 143.3,515.4 143.8,514.2 144.4,513.3 144.9,515.4 145.5,512.1 146.1,516.5 146.6,513.7 147.2,513.5 147.7,515.0 148.3,516.2 148.8,519.3 149.4,516.3 149.9,518.7 150.5,519.5 151.0,517.6 151.6,516.1 152.1,520.5 152.7,519.7 153.3,514.6 153.8,518.1 154.4,521.0 154.9,518.4 155.5,520.5 156.0,519.0 156.6,524.0 157.1,524.3 157.7,524.8 158.2,528.0 158.8,524.8 159.3,525.5 159.9,530.8 160.4,524.2 161.0,528.9 161.6,524.9 162.1,528.4 162.7,532.5 163.2,528.8 163.8,526.6 164.3,533.0 164.9,526.6 165.4,527.0 166.0,527.6 166.5,523.6 167.1,528.3 167.6,528.8 168.2,526.4 168.7,525.0 169.3,523.5 169.9,525.2 170.4,518.0 171.0,522.5 171.5,523.2 172.1,517.7 172.6,523.8 173.2,522.8 173.7,523.3 174.3,523.9 174.8,525.3 175.4,525.4 175.9,522.5 176.5,524.7 177.1,524.7 177.6,525.3 178.2,523.9 178.7,527.2 179.3,530.1 179.8,528.1 180.4,528.8 180.9,527.8 181.5,523.5 182.0,521.8 182.6,523.2 183.1,525.0 183.7,523.3 184.2,525.4 184.8,526.6 185.4,522.0 185.9,524.7 186.5,521.6 187.0,519.5 187.6,519.3 188.1,521.1 188.7,517.6 189.2,522.4 189.8,524.4 190.3,518.7 190.9,520.4 191.4,524.3 192.0,521.7 192.5,521.4 193.1,520.6 193.7,523.3 194.2,522.0 194.8,519.2 195.3,516.7 195.9,516.9 196.4,523.6 197.0,521.9 197.5,525.8 198.1,524.1 198.6,520.7 199.2,524.3 199.7,526.5 200.3,522.4 200.9,523.5 201.4,528.5 202.0,521.5 202.5,523.1 203.1,529.9 203.6,526.8 204.2,524.0 204.7,523.7 205.3,528.1 205.8,530.1 206.4,529.6 206.9,529.1 207.5,531.8 208.0,529.7 208.6,527.7 209.2,534.0 209.7,527.5 210.3,530.1 210.8,530.5 211.4,536.0 211.9,529.6 212.5,530.8 213.0,527.8 213.6,532.5 214.1,532.8 214.7,533.4 215.2,530.2 215.8,532.8 216.3,528.9 216.9,531.6 217.5,532.5 218.0,535.5 218.6,532.0 219.1,533.7 219.7,531.3 220.2,532.0 220.8,531.9 221.3,533.1 221.9,536.6 222.4,531.4 223.0,535.4 223.5,532.0 224.1,534.9 224.7,533.2 225.2,533.9 225.8,534.0 226.3,537.4 226.9,535.9 227.4,537.9 228.0,535.3 228.5,535.9 229.1,540.1 229.6,533.6 230.2,535.6 230.7,537.5 231.3,542.0 231.8,537.3 232.4,542.1 233.0,542.6 233.5,539.1 234.1,539.6 234.6,543.7 235.2,539.3 235.7,538.5 236.3,542.7 236.8,540.0 237.4,543.9 237.9,542.4 238.5,537.7 239.0,541.9 239.6,541.3 240.1,539.9 240.7,543.5 241.3,537.4 241.8,538.3 242.4,539.8 242.9,542.4 243.5,535.6 244.0,539.0 244.6,538.7 245.1,536.8 245.7,538.9 246.2,537.1 246.8,538.4 247.3,539.7 247.9,536.8 248.5,536.5 249.0,535.8 249.6,535.6 250.1,533.6 250.7,533.8 251.2,535.9 251.8,533.2 252.3,539.5 252.9,532.0 253.4,534.0 254.0,529.1 254.5,531.1 255.1,529.8 255.6,530.2 256.2,532.5 256.8,528.7 257.3,525.8 257.9,527.9 258.4,524.9 259.0,526.0 259.5,528.8 260.1,526.7 260.6,526.1 261.2,524.0 261.7,521.8 262.3,517.5 262.8,518.6 263.4,516.2 264.0,518.3 264.5,517.3 265.1,514.3 265.6,509.5 266.2,512.8 266.7,509.4 267.3,503.3 267.8,501.3 268.4,499.1 268.9,493.8 269.5,488.4 270.0,484.2 270.6,477.5 271.1,472.3 271.7,463.2 272.3,458.4 272.8,461.5 273.4,451.8 273.9,453.5 274.5,450.8 275.0,448.4 275.6,444.5 276.1,446.3 276.7,443.4 277.2,440.6 277.8,437.4 278.3,438.6 278.9,437.5 279.4,435.4 280.0,438.2 280.6,438.1 281.1,438.1 281.7,436.2 282.2,435.1 282.8,437.8 283.3,436.9 283.9,440.3 284.4,436.9 285.0,434.4 285.5,439.2 286.1,443.0 286.6,439.8 287.2,440.1 287.8,439.6 288.3,447.5 288.9,444.7 289.4,446.3 290.0,449.2 290.5,447.4 291.1,451.6 291.6,451.3 292.2,455.4 292.7,458.5 293.3,461.1 293.8,459.9 294.4,464.3 294.9,463.7 295.5,463.1 296.1,469.8 296.6,470.3 297.2,473.1 297.7,469.8 298.3,477.5 298.8,479.5 299.4,481.4 299.9,484.7 300.5,483.4 301.0,490.3 301.6,489.0 302.1,490.3 302.7,485.6 303.2,488.1 303.8,496.8 304.4,495.6 304.9,497.6 305.5,495.5 306.0,496.4 306.6,498.2 307.1,495.5 307.7,500.1 308.2,495.2 308.8,498.2 309.3,497.5 309.9,499.2 310.4,501.4 311.0,496.8 311.6,500.5 312.1,500.3 312.7,502.2 313.2,500.9 313.8,500.3 314.3,502.9 314.9,505.1 315.4,504.5 316.0,503.5 316.5,504.5 317.1,500.8 317.6,503.3 318.2,504.3 318.7,504.0 319.3,504.0 319.9,505.6 320.4,506.8 321.0,510.2 321.5,504.8 322.1,504.5 322.6,508.7 323.2,507.0 323.7,505.0 324.3,510.2 324.8,506.7 325.4,506.6 325.9,506.1 326.5,505.5 327.0,507.8 327.6,505.7 328.2,512.5 328.7,508.6 329.3,507.4 329.8,505.2 330.4,508.6 330.9,510.2 331.5,508.7 332.0,505.8 332.6,507.7 333.1,504.6 333.7,511.2 334.2,509.7 334.8,508.6 335.4,508.7 335.9,506.0 336.5,507.5 337.0,509.8 337.6,507.6 338.1,508.6 338.7,507.7 339.2,507.5 339.8,507.4 340.3,508.7 340.9,505.7 341.4,507.5 342.0,504.2 342.5,504.4 343.1,503.9 343.7,508.8 344.2,504.3 344.8,507.4 345.3,502.5 345.9,505.3 346.4,501.9 347.0,506.6 347.5,502.7 348.1,505.0 348.6,501.6 349.2,502.5 349.7,505.3 350.3,500.5 350.8,501.7 351.4,507.4 352.0,502.6 352.5,506.1 353.1,502.7 353.6,501.2 354.2,503.8 354.7,506.6 355.3,504.9 355.8,504.1 356.4,508.8 356.9,503.7 357.5,506.9 358.0,506.2 358.6,503.4 359.2,507.6 359.7,508.2 360.3,505.1 360.8,506.2 361.4,505.4 361.9,501.8 362.5,507.8 363.0,504.0 363.6,507.2 364.1,504.9 364.7,501.8 365.2,506.5 365.8,505.2 366.3,507.8 366.9,503.0 367.5,503.0 368.0,501.5 368.6,499.7 369.1,501.8 369.7,501.1 370.2,498.2 370.8,493.5 371.3,495.4 371.9,493.4 372.4,491.2 373.0,487.8 373.5,491.9 374.1,493.9 374.7,488.9 375.2,488.3 375.8,490.2 376.3,489.7 376.9,485.2 377.4,478.6 378.0,484.5 378.5,482.4 379.1,482.7 379.6,479.3 380.2,477.4 380.7,479.7 381.3,477.1 381.8,477.1 382.4,476.8 383.0,475.3 383.5,471.1 384.1,474.5 384.6,471.3 385.2,470.9 385.7,471.2 386.3,466.2 386.8,467.5 387.4,463.0 387.9,464.4 388.5,465.0 389.0,462.8 389.6,461.2 390.1,463.0 390.7,458.6 391.3,455.0 391.8,459.6 392.4,456.9 392.9,457.3 393.5,454.2 394.0,453.6 394.6,452.6 395.1,450.0 395.7,453.1 396.2,453.3 396.8,458.7 397.3,452.5 397.9,457.9 398.5,459.0 399.0,460.9 399.6,462.6 400.1,465.2 400.7,468.5 401.2,465.1 401.8,472.1 402.3,471.8 402.9,472.6 403.4,473.3 404.0,476.1 404.5,482.5 405.1,483.1 405.6,485.8 406.2,489.6 406.8,493.1 407.3,494.1 407.9,494.5 408.4,496.9 409.0,499.3 409.5,498.9 410.1,504.4 410.6,506.5 411.2,507.8 411.7,505.7 412.3,506.8 412.8,506.6 413.4,512.4 413.9,509.3 414.5,515.5 415.1,507.2 415.6,512.3 416.2,513.1 416.7,512.1 417.3,513.2 417.8,516.1 418.4,511.7 418.9,513.3 419.5,510.4 420.0,508.4 420.6,508.5 421.1,512.1 421.7,510.6 422.3,506.6 422.8,509.8 423.4,510.0 423.9,509.3 424.5,510.2 425.0,504.4 425.6,505.0 426.1,504.3 426.7,506.4 427.2,508.4 427.8,504.2 428.3,505.2 428.9,507.3 429.4,502.1 430.0,504.0 430.6,501.4 431.1,504.7 431.7,503.3 432.2,499.0 432.8,498.5 433.3,503.4 433.9,497.8 434.4,502.2 435.0,499.3 435.5,498.2 436.1,504.8 436.6,502.7 437.2,498.5 437.7,502.9 438.3,502.7 438.9,503.1 439.4,505.8 440.0,509.2 440.5,504.8 441.1,509.7 441.6,504.4 442.2,510.1 442.7,508.0 443.3,508.8 443.8,510.7 444.4,514.7 444.9,514.9 445.5,513.3 446.1,513.4 446.6,514.8 447.2,520.1 447.7,516.2 448.3,515.7 448.8,515.4 449.4,516.2 449.9,518.6 450.5,518.9 451.0,513.1 451.6,522.9 452.1,519.8 452.7,519.0 453.2,524.5 453.8,516.5 454.4,517.4 454.9,522.6 455.5,520.4 456.0,522.4 456.6,523.3 457.1,524.6 457.7,522.3 458.2,519.6 458.8,517.5 459.3,521.4 459.9,517.5 460.4,521.4 461.0,519.7 461.5,522.2 462.1,522.9 462.7,521.5 463.2,518.7 463.8,522.0 464.3,520.2 464.9,522.4 465.4,520.9 466.0,526.8 466.5,520.8 467.1,517.9 467.6,520.1 468.2,522.2 468.7,527.2 469.3,525.1 469.9,521.0 470.4,522.3 471.0,519.7 471.5,519.2 472.1,524.3 472.6,523.3 473.2,520.8 473.7,520.9 474.3,523.4 474.8,523.9 475.4,520.8 475.9,519.0 476.5,524.5 477.0,521.1 477.6,518.8 478.2,522.3 478.7,523.2 479.3,524.8 479.8,521.9 480.4,523.4 480.9,520.1 481.5,523.8 482.0,519.6 482.6,524.2 483.1,523.3 483.7,519.8 484.2,521.7 484.8,526.5 485.4,520.8 485.9,519.6 486.5,522.5 487.0,523.5 487.6,524.9 488.1,522.9 488.7,522.2 489.2,522.7 489.8,524.9 490.3,522.9 490.9,524.5 491.4,519.6 492.0,522.6 492.5,523.2 493.1,525.6 493.7,524.4 494.2,523.9 494.8,525.8 495.3,524.2 495.9,528.6 496.4,521.6 497.0,523.8 497.5,527.5 498.1,525.3 498.6,524.3 499.2,525.8 499.7,522.7 500.3,524.0 500.8,524.1 501.4,527.9 502.0,524.5 502.5,528.2 503.1,523.8 503.6,524.4 504.2,520.2 504.7,525.2 505.3,519.7 505.8,525.3 506.4,525.9 506.9,524.7 507.5,521.7 508.0,523.3 508.6,518.8 509.2,522.4 509.7,524.4 510.3,523.9 510.8,523.1 511.4,526.7 511.9,524.6 512.5,523.9 513.0,524.3 513.6,521.6 514.1,523.5 514.7,519.7 515.2,518.9 515.8,523.1 516.3,525.8 516.9,521.5 517.5,524.7 518.0,520.1 518.6,523.8 519.1,523.9 519.7,523.8 520.2,520.8 520.8,525.0 521.3,525.3 521.9,525.0 522.4,528.7 523.0,523.1 523.5,524.3 524.1,526.4 524.6,521.0 525.2,520.2 525.8,528.3 526.3,523.1 526.9,522.2 527.4,524.9 528.0,521.0 528.5,524.2 529.1,521.7 529.6,522.5 530.2,518.9 530.7,524.3 531.3,524.4 531.8,523.5 532.4,522.5 533.0,524.4 533.5,527.0 534.1,525.7 534.6,522.4 535.2,524.4 535.7,523.4 536.3,525.0 536.8,522.2 537.4,527.1 537.9,522.3 538.5,521.8 539.0,524.7 539.6,527.4 540.1,520.4 540.7,524.1 541.3,525.3" fill="none" stroke="#ff00ff" stroke-width="3.1" stroke-linejoin="round"/>
<path d="M74.1,602.8 74.7,604.9 75.2,601.1 75.8,605.7 76.3,608.7 76.9,603.5 77.4,605.3 78.0,604.9 78.5,603.6 79.1,602.7 79.6,600.3 80.2,607.2 80.7,604.3 81.3,609.2 81.8,606.1 82.4,604.9 83.0,603.0 83.5,606.8 84.1,602.7 84.6,606.4 85.2,601.9 85.7,602.5 86.3,598.4 86.8,605.4 87.4,599.8 87.9,598.5 88.5,600.2 89.0,596.0 89.6,598.7 90.2,594.1 90.7,596.9 91.3,593.1 91.8,590.9 92.4,592.7 92.9,590.3 93.5,593.7 94.0,591.9 94.6,592.2 95.1,590.6 95.7,589.0 96.2,589.1 96.8,590.4 97.3,587.2 97.9,585.3 98.5,584.1 99.0,584.4 99.6,583.0 100.1,587.5 100.7,580.6 101.2,580.1 101.8,580.8 102.3,581.9 102.9,579.3 103.4,575.4 104.0,576.6 104.5,576.6 105.1,578.4 105.6,573.6 106.2,574.4 106.8,572.4 107.3,573.3 107.9,572.6 108.4,567.9 109.0,574.5 109.5,569.0 110.1,566.2 110.6,563.9 111.2,562.6 111.7,559.6 112.3,557.3 112.8,553.9 113.4,554.8 114.0,552.1 114.5,556.2 115.1,558.6 115.6,564.0 116.2,567.1 116.7,564.9 117.3,568.6 117.8,571.4 118.4,572.8 118.9,569.6 119.5,573.8 120.0,574.8 120.6,573.3 121.1,578.8 121.7,573.3 122.3,575.5 122.8,577.5 123.4,577.5 123.9,576.8 124.5,580.5 125.0,580.9 125.6,580.1 126.1,580.5 126.7,578.6 127.2,576.6 127.8,583.5 128.3,577.3 128.9,583.9 129.4,579.3 130.0,580.1 130.6,579.4 131.1,581.8 131.7,579.0 132.2,583.9 132.8,581.4 133.3,580.8 133.9,579.5 134.4,581.4 135.0,581.0 135.5,585.0 136.1,583.3 136.6,578.5 137.2,584.9 137.8,577.4 138.3,585.5 138.9,578.9 139.4,582.9 140.0,584.8 140.5,583.4 141.1,581.5 141.6,586.5 142.2,580.8 142.7,581.7 143.3,587.7 143.8,583.5 144.4,586.1 144.9,587.6 145.5,586.1 146.1,587.2 146.6,587.3 147.2,587.9 147.7,590.3 148.3,590.3 148.8,589.5 149.4,591.2 149.9,588.8 150.5,588.8 151.0,588.8 151.6,592.9 152.1,595.0 152.7,592.4 153.3,588.8 153.8,592.2 154.4,594.6 154.9,595.2 155.5,594.6 156.0,596.8 156.6,597.1 157.1,593.0 157.7,597.0 158.2,595.0 158.8,597.4 159.3,599.9 159.9,601.5 160.4,599.6 161.0,596.7 161.6,598.2 162.1,600.3 162.7,597.6 163.2,599.7 163.8,601.2 164.3,602.0 164.9,599.7 165.4,601.0 166.0,603.0 166.5,600.9 167.1,596.8 167.6,600.6 168.2,600.6 168.7,599.1 169.3,599.9 169.9,596.7 170.4,602.0 171.0,600.2 171.5,598.1 172.1,599.5 172.6,599.1 173.2,597.0 173.7,593.7 174.3,593.5 174.8,602.2 175.4,595.7 175.9,597.2 176.5,598.8 177.1,596.8 177.6,599.7 178.2,595.3 178.7,598.1 179.3,592.7 179.8,599.4 180.4,597.8 180.9,597.0 181.5,596.6 182.0,596.4 182.6,597.3 183.1,597.3 183.7,593.3 184.2,597.1 184.8,592.9 185.4,594.9 185.9,593.9 186.5,595.2 187.0,593.4 187.6,594.7 188.1,592.8 188.7,589.9 189.2,595.6 189.8,594.5 190.3,594.3 190.9,595.2 191.4,591.1 192.0,595.0 192.5,591.1 193.1,594.2 193.7,593.2 194.2,594.4 194.8,595.6 195.3,594.6 195.9,593.1 196.4,597.2 197.0,598.2 197.5,597.6 198.1,598.8 198.6,593.6 199.2,597.8 199.7,597.8 200.3,594.5 200.9,599.0 201.4,599.0 202.0,596.2 202.5,597.8 203.1,599.8 203.6,601.0 204.2,601.3 204.7,597.8 205.3,598.0 205.8,599.3 206.4,600.3 206.9,599.4 207.5,599.9 208.0,602.1 208.6,602.2 209.2,601.2 209.7,598.7 210.3,600.1 210.8,602.3 211.4,603.0 211.9,603.5 212.5,599.4 213.0,600.7 213.6,599.3 214.1,597.0 214.7,599.8 215.2,598.6 215.8,605.0 216.3,603.4 216.9,601.3 217.5,602.9 218.0,603.9 218.6,608.1 219.1,605.1 219.7,606.9 220.2,605.1 220.8,607.1 221.3,607.7 221.9,607.0 222.4,605.5 223.0,607.9 223.5,605.2 224.1,609.1 224.7,606.0 225.2,605.4 225.8,610.8 226.3,606.4 226.9,607.6 227.4,605.3 228.0,606.1 228.5,606.8 229.1,603.8 229.6,610.0 230.2,604.8 230.7,602.8 231.3,609.7 231.8,608.9 232.4,602.9 233.0,606.4 233.5,609.5 234.1,606.0 234.6,607.0 235.2,607.0 235.7,602.7 236.3,605.7 236.8,609.1 237.4,610.4 237.9,607.4 238.5,607.3 239.0,608.6 239.6,607.9 240.1,608.6 240.7,605.8 241.3,607.6 241.8,608.5 242.4,608.7 242.9,604.3 243.5,609.0 244.0,607.6 244.6,607.6 245.1,602.4 245.7,607.2 246.2,602.2 246.8,602.1 247.3,607.0 247.9,606.7 248.5,606.7 249.0,606.7 249.6,606.1 250.1,607.8 250.7,606.5 251.2,607.3 251.8,607.9 252.3,603.6 252.9,602.6 253.4,603.6 254.0,596.8 254.5,596.6 255.1,596.4 255.6,591.3 256.2,594.7 256.8,594.0 257.3,586.2 257.9,584.9 258.4,586.0 259.0,584.4 259.5,575.8 260.1,577.6 260.6,573.4 261.2,567.3 261.7,567.1 262.3,563.4 262.8,561.1 263.4,557.2 264.0,552.7 264.5,549.2 265.1,545.4 265.6,543.3 266.2,541.0 266.7,538.0 267.3,531.4 267.8,528.8 268.4,526.3 268.9,527.9 269.5,523.4 270.0,518.3 270.6,514.9 271.1,512.3 271.7,511.3 272.3,505.8 272.8,504.8 273.4,504.3 273.9,498.1 274.5,497.6 275.0,490.4 275.6,492.0 276.1,490.3 276.7,486.8 277.2,491.0 277.8,488.4 278.3,487.6 278.9,489.4 279.4,493.3 280.0,490.3 280.6,495.3 281.1,495.4 281.7,500.2 282.2,501.3 282.8,505.0 283.3,509.6 283.9,512.2 284.4,519.2 285.0,525.4 285.5,528.8 286.1,531.3 286.6,533.6 287.2,537.2 287.8,540.5 288.3,544.8 288.9,545.4 289.4,541.6 290.0,545.8 290.5,547.7 291.1,550.7 291.6,552.0 292.2,548.5 292.7,553.4 293.3,550.9 293.8,554.8 294.4,555.3 294.9,557.3 295.5,563.0 296.1,560.0 296.6,561.2 297.2,563.6 297.7,566.6 298.3,562.1 298.8,569.8 299.4,565.9 299.9,566.3 300.5,569.4 301.0,571.4 301.6,575.7 302.1,573.5 302.7,571.3 303.2,572.8 303.8,572.1 304.4,576.0 304.9,578.5 305.5,575.3 306.0,580.8 306.6,573.7 307.1,576.6 307.7,576.1 308.2,577.2 308.8,575.4 309.3,580.8 309.9,577.3 310.4,579.2 311.0,582.1 311.6,583.2 312.1,582.6 312.7,576.1 313.2,579.6 313.8,580.3 314.3,579.9 314.9,579.9 315.4,580.6 316.0,583.1 316.5,581.2 317.1,579.6 317.6,579.3 318.2,582.9 318.7,579.3 319.3,584.4 319.9,582.1 320.4,582.2 321.0,583.8 321.5,582.7 322.1,584.9 322.6,581.0 323.2,580.0 323.7,587.7 324.3,584.1 324.8,579.0 325.4,587.2 325.9,580.9 326.5,587.8 327.0,587.3 327.6,585.3 328.2,583.4 328.7,581.5 329.3,585.0 329.8,582.1 330.4,584.9 330.9,581.9 331.5,579.1 332.0,580.6 332.6,581.9 333.1,580.5 333.7,581.8 334.2,579.1 334.8,584.0 335.4,579.4 335.9,581.3 336.5,575.2 337.0,582.9 337.6,582.6 338.1,580.5 338.7,578.7 339.2,577.1 339.8,580.1 340.3,579.9 340.9,576.0 341.4,578.6 342.0,579.6 342.5,577.0 343.1,579.8 343.7,578.0 344.2,581.5 344.8,576.1 345.3,579.8 345.9,579.0 346.4,575.1 347.0,577.1 347.5,577.3 348.1,581.0 348.6,578.5 349.2,579.3 349.7,579.7 350.3,584.3 350.8,579.1 351.4,583.6 352.0,579.4 352.5,576.7 353.1,578.3 353.6,577.6 354.2,579.4 354.7,577.3 355.3,578.5 355.8,584.2 356.4,580.9 356.9,581.2 357.5,584.2 358.0,577.3 358.6,581.7 359.2,579.7 359.7,580.5 360.3,579.1 360.8,580.6 361.4,582.6 361.9,584.4 362.5,579.9 363.0,580.7 363.6,576.2 364.1,573.3 364.7,579.6 365.2,581.1 365.8,577.4 366.3,574.6 366.9,575.3 367.5,577.0 368.0,571.6 368.6,573.3 369.1,574.6 369.7,569.1 370.2,574.2 370.8,570.4 371.3,570.8 371.9,562.0 372.4,565.1 373.0,566.3 373.5,562.7 374.1,562.9 374.7,555.2 375.2,557.4 375.8,552.2 376.3,554.0 376.9,554.3 377.4,552.3 378.0,548.8 378.5,550.7 379.1,550.2 379.6,547.5 380.2,548.1 380.7,547.5 381.3,546.5 381.8,542.1 382.4,542.6 383.0,539.0 383.5,538.8 384.1,539.9 384.6,536.2 385.2,534.1 385.7,532.2 386.3,532.7 386.8,533.0 387.4,531.4 387.9,525.5 388.5,525.7 389.0,524.3 389.6,523.8 390.1,518.1 390.7,519.6 391.3,516.8 391.8,516.1 392.4,519.8 392.9,519.5 393.5,520.8 394.0,526.4 394.6,527.7 395.1,529.6 395.7,537.3 396.2,537.7 396.8,540.0 397.3,545.7 397.9,549.1 398.5,554.3 399.0,554.3 399.6,555.1 400.1,560.7 400.7,565.5 401.2,567.4 401.8,570.0 402.3,570.1 402.9,573.6 403.4,577.0 404.0,578.1 404.5,576.2 405.1,577.3 405.6,577.7 406.2,582.3 406.8,579.7 407.3,581.4 407.9,581.1 408.4,581.5 409.0,583.7 409.5,586.3 410.1,583.9 410.6,587.9 411.2,585.8 411.7,587.7 412.3,591.3 412.8,591.3 413.4,587.5 413.9,587.1 414.5,586.7 415.1,588.4 415.6,583.2 416.2,585.5 416.7,586.5 417.3,585.2 417.8,584.6 418.4,589.0 418.9,583.3 419.5,585.2 420.0,584.8 420.6,584.8 421.1,583.4 421.7,586.9 422.3,584.9 422.8,588.4 423.4,581.9 423.9,584.4 424.5,581.0 425.0,583.8 425.6,584.6 426.1,579.2 426.7,582.7 427.2,578.3 427.8,576.9 428.3,579.1 428.9,579.3 429.4,577.5 430.0,577.4 430.6,576.5 431.1,575.4 431.7,572.1 432.2,575.9 432.8,575.5 433.3,578.4 433.9,576.1 434.4,582.3 435.0,580.2 435.5,578.8 436.1,581.6 436.6,580.5 437.2,584.3 437.7,581.7 438.3,586.1 438.9,581.8 439.4,584.8 440.0,585.1 440.5,584.1 441.1,586.0 441.6,587.4 442.2,585.9 442.7,587.4 443.3,591.0 443.8,589.3 444.4,594.9 444.9,595.8 445.5,591.7 446.1,594.9 446.6,596.0 447.2,597.1 447.7,595.2 448.3,598.2 448.8,596.1 449.4,597.2 449.9,600.1 450.5,597.4 451.0,595.7 451.6,596.5 452.1,598.2 452.7,596.1 453.2,595.7 453.8,597.9 454.4,595.7 454.9,601.8 455.5,596.3 456.0,599.0 456.6,594.7 457.1,596.9 457.7,599.2 458.2,598.7 458.8,598.9 459.3,596.5 459.9,598.0 460.4,597.2 461.0,594.8 461.5,599.8 462.1,595.9 462.7,596.4 463.2,598.1 463.8,597.2 464.3,600.1 464.9,594.4 465.4,596.9 466.0,593.0 466.5,592.9 467.1,594.5 467.6,593.2 468.2,590.5 468.7,591.1 469.3,591.6 469.9,594.7 470.4,589.9 471.0,592.1 471.5,593.2 472.1,592.7 472.6,591.9 473.2,595.1 473.7,592.1 474.3,598.4 474.8,590.3 475.4,591.9 475.9,597.0 476.5,598.3 477.0,598.5 477.6,595.9 478.2,598.3 478.7,599.1 479.3,597.6 479.8,598.9 480.4,598.0 480.9,602.5 481.5,601.2 482.0,599.7 482.6,600.0 483.1,600.1 483.7,600.6 484.2,601.9 484.8,600.8 485.4,600.7 485.9,602.7 486.5,601.7 487.0,602.2 487.6,602.5 488.1,602.2 488.7,600.4 489.2,602.3 489.8,605.3 490.3,601.4 490.9,601.5 491.4,602.5 492.0,602.6 492.5,606.3 493.1,603.0 493.7,606.1 494.2,606.9 494.8,605.4 495.3,605.3 495.9,604.8 496.4,605.3 497.0,606.8 497.5,600.3 498.1,605.2 498.6,606.9 499.2,603.4 499.7,604.7 500.3,606.6 500.8,601.5 501.4,606.2 502.0,603.0 502.5,605.7 503.1,606.1 503.6,605.9 504.2,603.4 504.7,605.5 505.3,604.3 505.8,606.3 506.4,605.0 506.9,604.1 507.5,607.7 508.0,603.4 508.6,604.9 509.2,608.1 509.7,606.7 510.3,607.7 510.8,604.0 511.4,606.3 511.9,604.2 512.5,602.5 513.0,607.2 513.6,603.9 514.1,606.2 514.7,604.1 515.2,608.1 515.8,607.1 516.3,604.0 516.9,604.0 517.5,601.2 518.0,605.0 518.6,605.5 519.1,604.5 519.7,607.4 520.2,605.8 520.8,606.0 521.3,604.7 521.9,603.0 522.4,606.1 523.0,607.7 523.5,608.4 524.1,606.3 524.6,603.5 525.2,605.3 525.8,606.3 526.3,603.8 526.9,605.2 527.4,604.7 528.0,604.4 528.5,603.9 529.1,606.6 529.6,607.1 530.2,608.5 530.7,605.5 531.3,606.2 531.8,602.7 532.4,606.8 533.0,609.1 533.5,604.8 534.1,607.5 534.6,605.5 535.2,607.7 535.7,608.3 536.3,604.0 536.8,605.2 537.4,605.7 537.9,606.9 538.5,610.0 539.0,607.6 539.6,607.9 540.1,608.2 540.7,606.6 541.3,610.2" fill="none" stroke="#0000ff" stroke-width="3.1" stroke-linejoin="round"/>
<path d="M74.1,662.4 74.7,662.6 75.2,661.9 75.8,663.3 76.3,661.9 76.9,662.0 77.4,662.8 78.0,662.3 78.5,661.2 79.1,659.0 79.6,658.0 80.2,657.4 80.7,657.8 81.3,657.8 81.8,655.7 82.4,655.0 83.0,657.2 83.5,652.9 84.1,655.5 84.6,656.1 85.2,653.2 85.7,652.6 86.3,652.9 86.8,655.0 87.4,653.2 87.9,649.7 88.5,651.9 89.0,654.0 89.6,655.1 90.2,652.5 90.7,650.0 91.3,647.1 91.8,650.2 92.4,649.1 92.9,649.1 93.5,651.2 94.0,648.3 94.6,647.9 95.1,648.0 95.7,645.9 96.2,644.6 96.8,643.9 97.3,646.1 97.9,645.0 98.5,642.6 99.0,644.9 99.6,642.5 100.1,639.1 100.7,641.9 101.2,639.8 101.8,636.9 102.3,639.5 102.9,636.5 103.4,636.2 104.0,637.0 104.5,631.1 105.1,631.8 105.6,632.2 106.2,632.3 106.8,629.5 107.3,627.7 107.9,626.2 108.4,625.7 109.0,624.6 109.5,618.4 110.1,615.5 110.6,618.1 111.2,618.7 111.7,619.6 112.3,625.0 112.8,628.4 113.4,629.0 114.0,632.0 114.5,635.5 115.1,634.7 115.6,633.8 116.2,637.0 116.7,636.2 117.3,639.0 117.8,638.1 118.4,639.2 118.9,640.9 119.5,640.2 120.0,638.7 120.6,639.5 121.1,644.8 121.7,644.1 122.3,639.9 122.8,641.1 123.4,644.5 123.9,642.8 124.5,644.3 125.0,646.2 125.6,645.4 126.1,645.3 126.7,645.1 127.2,646.1 127.8,647.4 128.3,650.1 128.9,649.3 129.4,647.4 130.0,649.7 130.6,648.7 131.1,646.1 131.7,648.9 132.2,652.9 132.8,648.7 133.3,651.8 133.9,649.5 134.4,650.9 135.0,649.0 135.5,655.3 136.1,652.7 136.6,654.0 137.2,651.7 137.8,650.3 138.3,657.4 138.9,652.3 139.4,656.9 140.0,653.9 140.5,657.5 141.1,653.6 141.6,652.0 142.2,656.8 142.7,655.7 143.3,656.1 143.8,658.3 144.4,655.2 144.9,654.7 145.5,655.3 146.1,654.7 146.6,654.7 147.2,656.0 147.7,656.8 148.3,657.3 148.8,657.1 149.4,659.3 149.9,661.3 150.5,659.9 151.0,661.4 151.6,659.3 152.1,661.9 152.7,662.5 153.3,660.8 153.8,659.6 154.4,662.3 154.9,662.9 155.5,667.7 156.0,662.6 156.6,666.5 157.1,659.7 157.7,663.3 158.2,663.1 158.8,663.4 159.3,663.1 159.9,664.0 160.4,667.0 161.0,663.8 161.6,666.1 162.1,663.8 162.7,664.1 163.2,659.9 163.8,664.0 164.3,664.8 164.9,661.7 165.4,662.5 166.0,662.0 166.5,667.2 167.1,661.6 167.6,662.0 168.2,659.3 168.7,660.3 169.3,663.4 169.9,660.7 170.4,658.9 171.0,662.2 171.5,662.8 172.1,663.0 172.6,663.1 173.2,661.3 173.7,666.9 174.3,661.2 174.8,663.2 175.4,659.7 175.9,660.8 176.5,659.1 177.1,662.0 177.6,660.8 178.2,659.6 178.7,657.7 179.3,662.1 179.8,662.4 180.4,662.3 180.9,660.5 181.5,661.7 182.0,663.1 182.6,661.1 183.1,662.6 183.7,659.6 184.2,660.2 184.8,657.0 185.4,663.3 185.9,658.1 186.5,659.9 187.0,660.4 187.6,657.7 188.1,659.0 188.7,660.3 189.2,658.9 189.8,658.5 190.3,658.5 190.9,656.5 191.4,658.8 192.0,660.2 192.5,660.0 193.1,661.3 193.7,659.5 194.2,658.6 194.8,661.1 195.3,660.4 195.9,661.6 196.4,660.3 197.0,661.8 197.5,661.0 198.1,662.7 198.6,658.9 199.2,660.6 199.7,661.2 200.3,664.1 200.9,661.1 201.4,662.2 202.0,661.2 202.5,658.0 203.1,664.1 203.6,663.2 204.2,664.4 204.7,659.9 205.3,663.0 205.8,663.0 206.4,660.0 206.9,663.9 207.5,662.2 208.0,664.3 208.6,660.7 209.2,662.3 209.7,662.8 210.3,661.6 210.8,664.6 211.4,667.1 211.9,664.9 212.5,666.3 213.0,667.9 213.6,666.5 214.1,665.0 214.7,662.4 215.2,666.6 215.8,665.5 216.3,665.4 216.9,667.7 217.5,667.4 218.0,663.8 218.6,667.3 219.1,665.5 219.7,668.4 220.2,666.9 220.8,668.7 221.3,665.9 221.9,666.5 222.4,666.3 223.0,667.0 223.5,667.0 224.1,669.6 224.7,665.8 225.2,667.8 225.8,665.6 226.3,665.2 226.9,665.7 227.4,665.2 228.0,668.3 228.5,666.7 229.1,667.1 229.6,669.0 230.2,671.0 230.7,667.3 231.3,664.9 231.8,667.7 232.4,668.5 233.0,670.6 233.5,668.6 234.1,667.1 234.6,670.4 235.2,670.8 235.7,668.6 236.3,669.5 236.8,670.2 237.4,673.6 237.9,668.1 238.5,668.5 239.0,669.1 239.6,670.6 240.1,668.8 240.7,670.2 241.3,670.9 241.8,672.6 242.4,668.5 242.9,667.9 243.5,667.4 244.0,664.1 244.6,664.7 245.1,666.5 245.7,666.0 246.2,669.2 246.8,666.2 247.3,664.6 247.9,665.1 248.5,660.6 249.0,659.9 249.6,657.6 250.1,659.1 250.7,662.3 251.2,657.0 251.8,655.3 252.3,655.5 252.9,655.7 253.4,653.8 254.0,653.1 254.5,647.9 255.1,646.9 255.6,646.2 256.2,644.6 256.8,644.4 257.3,637.1 257.9,637.6 258.4,632.9 259.0,631.1 259.5,625.3 260.1,620.4 260.6,623.1 261.2,615.7 261.7,606.8 262.3,605.7 262.8,596.2 263.4,591.1 264.0,584.6 264.5,576.0 265.1,574.9 265.6,567.5 266.2,568.4 266.7,564.1 267.3,561.9 267.8,559.3 268.4,560.4 268.9,553.2 269.5,551.9 270.0,550.6 270.6,552.6 271.1,551.3 271.7,548.7 272.3,548.4 272.8,544.6 273.4,550.2 273.9,547.7 274.5,549.5 275.0,550.4 275.6,555.3 276.1,555.2 276.7,558.6 277.2,561.4 277.8,563.3 278.3,566.1 278.9,570.7 279.4,573.3 280.0,576.6 280.6,580.7 281.1,578.9 281.7,580.9 282.2,586.6 282.8,592.8 283.3,593.5 283.9,593.4 284.4,602.5 285.0,603.3 285.5,602.3 286.1,604.7 286.6,610.4 287.2,611.8 287.8,615.0 288.3,618.7 288.9,620.1 289.4,624.8 290.0,624.0 290.5,630.5 291.1,626.7 291.6,627.0 292.2,626.5 292.7,629.8 293.3,632.6 293.8,636.8 294.4,630.1 294.9,635.3 295.5,634.5 296.1,639.4 296.6,636.8 297.2,639.0 297.7,642.4 298.3,639.9 298.8,640.0 299.4,642.6 299.9,641.8 300.5,641.4 301.0,639.3 301.6,642.0 302.1,640.1 302.7,643.9 303.2,645.0 303.8,644.5 304.4,648.1 304.9,641.3 305.5,646.4 306.0,646.1 306.6,644.2 307.1,647.6 307.7,648.4 308.2,649.2 308.8,647.2 309.3,648.8 309.9,646.7 310.4,650.7 311.0,651.4 311.6,648.6 312.1,648.8 312.7,646.5 313.2,648.4 313.8,647.7 314.3,648.8 314.9,645.9 315.4,651.6 316.0,648.7 316.5,650.3 317.1,649.3 317.6,647.9 318.2,651.8 318.7,650.4 319.3,645.8 319.9,648.4 320.4,648.0 321.0,647.0 321.5,652.3 322.1,646.2 322.6,651.1 323.2,645.3 323.7,650.9 324.3,647.5 324.8,644.4 325.4,648.9 325.9,649.3 326.5,646.8 327.0,650.4 327.6,645.4 328.2,650.4 328.7,649.5 329.3,651.6 329.8,647.7 330.4,650.0 330.9,647.4 331.5,649.9 332.0,648.9 332.6,649.9 333.1,646.1 333.7,649.3 334.2,649.1 334.8,651.1 335.4,647.8 335.9,648.1 336.5,649.5 337.0,649.3 337.6,644.0 338.1,647.8 338.7,649.8 339.2,647.6 339.8,644.9 340.3,647.6 340.9,648.1 341.4,646.4 342.0,648.2 342.5,646.1 343.1,647.6 343.7,648.1 344.2,651.1 344.8,648.5 345.3,650.1 345.9,648.2 346.4,645.7 347.0,645.6 347.5,649.0 348.1,644.7 348.6,644.7 349.2,649.1 349.7,645.9 350.3,645.3 350.8,651.6 351.4,645.7 352.0,648.2 352.5,646.9 353.1,647.4 353.6,646.9 354.2,648.6 354.7,649.3 355.3,644.8 355.8,649.1 356.4,645.8 356.9,645.7 357.5,647.0 358.0,644.6 358.6,643.7 359.2,647.9 359.7,643.9 360.3,640.9 360.8,640.1 361.4,644.7 361.9,643.5 362.5,646.3 363.0,640.4 363.6,639.5 364.1,640.8 364.7,642.2 365.2,641.2 365.8,637.6 366.3,635.2 366.9,635.4 367.5,636.7 368.0,632.6 368.6,630.9 369.1,631.5 369.7,630.0 370.2,629.0 370.8,631.7 371.3,628.4 371.9,626.6 372.4,625.0 373.0,624.5 373.5,625.1 374.1,624.8 374.7,621.6 375.2,621.0 375.8,620.7 376.3,618.6 376.9,621.3 377.4,616.8 378.0,617.8 378.5,617.9 379.1,613.0 379.6,610.3 380.2,611.2 380.7,610.5 381.3,607.9 381.8,605.7 382.4,605.8 383.0,600.5 383.5,598.3 384.1,598.7 384.6,595.9 385.2,595.5 385.7,593.6 386.3,587.5 386.8,583.6 387.4,586.4 387.9,583.8 388.5,583.5 389.0,581.2 389.6,585.2 390.1,585.3 390.7,589.5 391.3,593.5 391.8,595.8 392.4,599.2 392.9,601.6 393.5,610.5 394.0,607.7 394.6,615.8 395.1,616.5 395.7,622.4 396.2,630.8 396.8,629.9 397.3,637.7 397.9,637.7 398.5,641.6 399.0,638.6 399.6,640.1 400.1,645.7 400.7,644.6 401.2,643.0 401.8,644.8 402.3,642.1 402.9,646.5 403.4,645.3 404.0,646.5 404.5,651.4 405.1,648.2 405.6,648.4 406.2,647.9 406.8,651.3 407.3,651.3 407.9,648.9 408.4,647.6 409.0,650.2 409.5,650.9 410.1,647.2 410.6,652.9 411.2,649.3 411.7,651.2 412.3,649.7 412.8,649.8 413.4,652.9 413.9,651.4 414.5,648.6 415.1,651.9 415.6,652.8 416.2,651.1 416.7,653.3 417.3,649.8 417.8,653.1 418.4,651.8 418.9,651.7 419.5,653.7 420.0,652.2 420.6,650.0 421.1,651.0 421.7,648.3 422.3,650.6 422.8,650.7 423.4,649.9 423.9,645.8 424.5,646.0 425.0,647.0 425.6,646.4 426.1,643.5 426.7,644.9 427.2,644.9 427.8,648.4 428.3,644.5 428.9,644.0 429.4,642.4 430.0,642.1 430.6,646.6 431.1,645.5 431.7,645.1 432.2,648.2 432.8,647.9 433.3,647.4 433.9,649.6 434.4,648.2 435.0,650.9 435.5,651.0 436.1,650.2 436.6,650.9 437.2,651.0 437.7,654.5 438.3,653.2 438.9,652.1 439.4,655.7 440.0,655.7 440.5,655.3 441.1,656.1 441.6,655.4 442.2,654.5 442.7,658.5 443.3,655.4 443.8,653.6 444.4,655.9 444.9,660.2 445.5,657.2 446.1,659.0 446.6,658.5 447.2,656.6 447.7,660.2 448.3,660.6 448.8,665.5 449.4,660.7 449.9,662.0 450.5,665.3 451.0,664.4 451.6,664.0 452.1,663.6 452.7,662.0 453.2,663.5 453.8,662.4 454.4,660.3 454.9,664.8 455.5,661.5 456.0,662.3 456.6,660.1 457.1,658.6 457.7,657.4 458.2,656.0 458.8,661.0 459.3,656.5 459.9,658.4 460.4,659.1 461.0,656.1 461.5,657.5 462.1,658.9 462.7,657.5 463.2,658.7 463.8,653.2 464.3,658.3 464.9,658.6 465.4,654.5 466.0,658.2 466.5,656.1 467.1,656.3 467.6,657.8 468.2,654.2 468.7,658.4 469.3,655.8 469.9,658.7 470.4,657.4 471.0,658.2 471.5,656.6 472.1,658.3 472.6,656.6 473.2,657.8 473.7,656.8 474.3,659.6 474.8,658.3 475.4,664.8 475.9,659.2 476.5,657.3 477.0,663.5 477.6,661.2 478.2,663.1 478.7,662.6 479.3,661.4 479.8,662.0 480.4,661.4 480.9,666.1 481.5,666.0 482.0,661.8 482.6,666.2 483.1,665.8 483.7,662.1 484.2,663.8 484.8,666.3 485.4,666.4 485.9,670.5 486.5,666.3 487.0,668.3 487.6,665.9 488.1,666.7 488.7,667.1 489.2,667.1 489.8,667.9 490.3,667.4 490.9,664.4 491.4,668.5 492.0,665.2 492.5,668.7 493.1,668.4 493.7,668.5 494.2,666.1 494.8,667.7 495.3,668.5 495.9,666.2 496.4,664.5 497.0,670.2 497.5,666.6 498.1,666.1 498.6,665.2 499.2,664.7 499.7,662.7 500.3,664.9 500.8,664.9 501.4,665.2 502.0,670.2 502.5,666.5 503.1,666.0 503.6,666.8 504.2,663.9 504.7,668.9 505.3,668.8 505.8,665.2 506.4,668.3 506.9,667.9 507.5,670.8 508.0,668.7 508.6,663.9 509.2,665.7 509.7,667.9 510.3,667.4 510.8,668.7 511.4,666.2 511.9,666.9 512.5,669.1 513.0,667.5 513.6,666.4 514.1,670.8 514.7,666.4 515.2,666.8 515.8,665.0 516.3,667.1 516.9,663.6 517.5,669.5 518.0,662.8 518.6,668.4 519.1,665.3 519.7,667.5 520.2,669.6 520.8,667.0 521.3,668.7 521.9,665.9 522.4,666.5 523.0,669.3 523.5,665.9 524.1,668.8 524.6,667.6 525.2,666.6 525.8,669.0 526.3,665.6 526.9,668.0 527.4,665.0 528.0,666.9 528.5,665.1 529.1,667.7 529.6,669.0 530.2,669.2 530.7,668.2 531.3,667.8 531.8,666.6 532.4,666.1 533.0,665.7 533.5,671.1 534.1,667.2 534.6,667.1 535.2,667.6 535.7,665.9 536.3,670.3 536.8,666.6 537.4,665.6 537.9,670.6 538.5,669.5 539.0,668.6 539.6,666.5 540.1,670.0 540.7,667.4 541.3,668.3" fill="none" stroke="#ff0000" stroke-width="3.1" stroke-linejoin="round"/>
<path d="M74.1,712.9 74.7,715.3 75.2,714.9 75.8,711.5 76.3,711.8 76.9,711.3 77.4,713.2 78.0,711.9 78.5,713.3 79.1,708.2 79.6,714.5 80.2,711.2 80.7,712.5 81.3,710.7 81.8,709.5 82.4,711.5 83.0,712.0 83.5,709.8 84.1,709.7 84.6,711.1 85.2,706.4 85.7,706.4 86.3,709.7 86.8,707.4 87.4,704.8 87.9,706.6 88.5,706.9 89.0,705.2 89.6,704.3 90.2,706.9 90.7,708.1 91.3,705.2 91.8,704.3 92.4,706.1 92.9,707.6 93.5,704.0 94.0,705.2 94.6,705.7 95.1,702.8 95.7,701.2 96.2,702.8 96.8,702.0 97.3,703.0 97.9,697.8 98.5,698.3 99.0,697.0 99.6,694.2 100.1,696.4 100.7,695.7 101.2,691.7 101.8,694.2 102.3,691.5 102.9,689.3 103.4,686.7 104.0,685.2 104.5,678.3 105.1,679.7 105.6,677.8 106.2,672.1 106.8,675.9 107.3,675.4 107.9,678.8 108.4,678.3 109.0,681.3 109.5,684.2 110.1,684.0 110.6,688.6 111.2,688.7 111.7,691.8 112.3,691.6 112.8,696.4 113.4,697.2 114.0,697.3 114.5,700.4 115.1,703.0 115.6,706.4 116.2,699.9 116.7,705.3 117.3,705.1 117.8,704.6 118.4,703.4 118.9,708.2 119.5,703.9 120.0,707.8 120.6,709.6 121.1,704.4 121.7,707.2 122.3,705.7 122.8,708.9 123.4,711.7 123.9,712.9 124.5,706.0 125.0,708.6 125.6,711.3 126.1,713.3 126.7,711.4 127.2,709.5 127.8,711.8 128.3,711.5 128.9,711.4 129.4,710.7 130.0,713.2 130.6,713.3 131.1,712.8 131.7,712.9 132.2,711.1 132.8,712.9 133.3,716.4 133.9,714.0 134.4,711.9 135.0,717.4 135.5,716.2 136.1,719.4 136.6,715.8 137.2,715.1 137.8,713.4 138.3,719.0 138.9,721.3 139.4,715.4 140.0,716.0 140.5,718.6 141.1,716.1 141.6,717.4 142.2,717.5 142.7,718.8 143.3,720.8 143.8,719.0 144.4,720.9 144.9,718.6 145.5,720.3 146.1,715.3 146.6,717.3 147.2,721.8 147.7,719.4 148.3,721.9 148.8,722.0 149.4,725.8 149.9,724.3 150.5,723.5 151.0,721.6 151.6,720.7 152.1,720.8 152.7,721.5 153.3,720.5 153.8,721.8 154.4,722.9 154.9,723.8 155.5,722.9 156.0,720.1 156.6,723.8 157.1,724.6 157.7,726.4 158.2,725.6 158.8,723.4 159.3,723.4 159.9,728.7 160.4,726.4 161.0,728.5 161.6,729.0 162.1,723.4 162.7,725.7 163.2,725.8 163.8,726.0 164.3,726.9 164.9,725.3 165.4,725.2 166.0,722.0 166.5,724.5 167.1,723.3 167.6,724.9 168.2,723.8 168.7,725.8 169.3,726.1 169.9,725.1 170.4,725.0 171.0,724.5 171.5,723.4 172.1,723.9 172.6,723.2 173.2,724.8 173.7,724.0 174.3,725.0 174.8,721.2 175.4,725.1 175.9,721.7 176.5,721.5 177.1,722.2 177.6,721.1 178.2,722.4 178.7,720.4 179.3,719.0 179.8,719.0 180.4,722.8 180.9,720.0 181.5,717.3 182.0,719.2 182.6,715.9 183.1,722.0 183.7,715.4 184.2,719.1 184.8,719.0 185.4,713.4 185.9,718.5 186.5,719.8 187.0,719.6 187.6,718.4 188.1,719.8 188.7,718.6 189.2,718.7 189.8,717.6 190.3,719.4 190.9,716.4 191.4,719.8 192.0,717.4 192.5,716.3 193.1,719.2 193.7,723.1 194.2,720.5 194.8,717.7 195.3,721.3 195.9,718.0 196.4,718.7 197.0,719.2 197.5,714.8 198.1,719.7 198.6,717.5 199.2,717.1 199.7,717.0 200.3,717.1 200.9,718.4 201.4,722.0 202.0,723.8 202.5,720.8 203.1,723.1 203.6,720.8 204.2,717.9 204.7,722.0 205.3,722.8 205.8,721.3 206.4,722.9 206.9,723.6 207.5,721.0 208.0,720.0 208.6,722.6 209.2,722.8 209.7,722.7 210.3,727.1 210.8,727.0 211.4,723.1 211.9,725.4 212.5,726.1 213.0,725.8 213.6,726.6 214.1,724.1 214.7,726.4 215.2,729.0 215.8,726.8 216.3,724.3 216.9,726.7 217.5,728.1 218.0,726.5 218.6,724.8 219.1,728.9 219.7,723.6 220.2,727.0 220.8,726.0 221.3,723.7 221.9,728.3 222.4,726.7 223.0,723.8 223.5,727.1 224.1,725.2 224.7,722.4 225.2,724.7 225.8,726.5 226.3,727.2 226.9,726.3 227.4,726.1 228.0,726.9 228.5,725.6 229.1,728.2 229.6,726.3 230.2,726.6 230.7,727.0 231.3,724.0 231.8,724.7 232.4,730.6 233.0,726.6 233.5,725.5 234.1,726.6 234.6,725.1 235.2,726.5 235.7,724.7 236.3,726.5 236.8,723.0 237.4,728.5 237.9,724.9 238.5,722.8 239.0,725.3 239.6,724.9 240.1,726.0 240.7,723.0 241.3,725.8 241.8,729.3 242.4,722.1 242.9,724.9 243.5,722.8 244.0,724.0 244.6,719.9 245.1,720.8 245.7,723.5 246.2,722.2 246.8,725.0 247.3,720.1 247.9,721.3 248.5,724.9 249.0,718.2 249.6,715.6 250.1,717.9 250.7,717.0 251.2,717.6 251.8,715.1 252.3,712.2 252.9,712.7 253.4,715.5 254.0,711.9 254.5,703.0 255.1,704.9 255.6,700.7 256.2,700.5 256.8,695.6 257.3,696.0 257.9,690.5 258.4,686.7 259.0,681.8 259.5,677.8 260.1,674.7 260.6,672.5 261.2,667.0 261.7,661.1 262.3,660.0 262.8,653.9 263.4,649.4 264.0,644.2 264.5,640.8 265.1,636.3 265.6,628.5 266.2,630.7 266.7,626.0 267.3,621.7 267.8,622.5 268.4,621.2 268.9,621.6 269.5,617.3 270.0,622.8 270.6,626.0 271.1,629.9 271.7,632.4 272.3,633.7 272.8,630.9 273.4,630.9 273.9,638.4 274.5,639.8 275.0,644.3 275.6,645.2 276.1,648.8 276.7,648.6 277.2,655.4 277.8,656.7 278.3,661.1 278.9,664.0 279.4,665.4 280.0,668.7 280.6,670.6 281.1,674.5 281.7,676.4 282.2,676.7 282.8,678.9 283.3,685.6 283.9,684.1 284.4,688.2 285.0,688.9 285.5,688.7 286.1,690.1 286.6,693.4 287.2,695.4 287.8,697.8 288.3,695.8 288.9,698.5 289.4,700.7 290.0,705.1 290.5,698.4 291.1,704.2 291.6,701.7 292.2,704.6 292.7,702.9 293.3,704.6 293.8,707.0 294.4,704.8 294.9,705.0 295.5,704.9 296.1,702.8 296.6,705.3 297.2,703.9 297.7,702.8 298.3,704.3 298.8,704.0 299.4,705.9 299.9,704.4 300.5,703.6 301.0,707.4 301.6,706.6 302.1,707.2 302.7,706.0 303.2,704.7 303.8,703.5 304.4,704.6 304.9,707.0 305.5,705.5 306.0,702.5 306.6,705.4 307.1,702.8 307.7,705.9 308.2,703.4 308.8,703.3 309.3,706.0 309.9,705.6 310.4,702.6 311.0,707.2 311.6,709.9 312.1,703.0 312.7,709.3 313.2,703.3 313.8,704.9 314.3,705.5 314.9,703.1 315.4,708.3 316.0,706.7 316.5,704.4 317.1,705.3 317.6,702.9 318.2,705.1 318.7,707.6 319.3,702.5 319.9,705.0 320.4,706.1 321.0,707.8 321.5,708.4 322.1,704.9 322.6,704.4 323.2,707.4 323.7,705.1 324.3,705.2 324.8,707.9 325.4,709.0 325.9,706.3 326.5,705.4 327.0,707.8 327.6,702.1 328.2,705.6 328.7,703.6 329.3,710.1 329.8,706.9 330.4,705.7 330.9,705.0 331.5,700.7 332.0,706.6 332.6,708.2 333.1,703.7 333.7,706.2 334.2,706.2 334.8,701.8 335.4,708.0 335.9,707.1 336.5,704.9 337.0,704.3 337.6,705.8 338.1,701.3 338.7,704.3 339.2,706.1 339.8,701.6 340.3,705.8 340.9,703.0 341.4,699.8 342.0,703.5 342.5,701.8 343.1,704.2 343.7,701.4 344.2,705.6 344.8,702.1 345.3,704.2 345.9,702.4 346.4,702.8 347.0,705.7 347.5,703.8 348.1,702.6 348.6,701.0 349.2,705.6 349.7,704.7 350.3,702.7 350.8,703.8 351.4,701.3 352.0,701.3 352.5,701.7 353.1,703.9 353.6,703.7 354.2,701.7 354.7,705.8 355.3,704.6 355.8,703.4 356.4,705.0 356.9,702.4 357.5,702.7 358.0,703.7 358.6,702.7 359.2,704.2 359.7,700.2 360.3,705.1 360.8,700.6 361.4,701.4 361.9,696.7 362.5,701.8 363.0,702.4 363.6,701.4 364.1,700.2 364.7,694.8 365.2,695.5 365.8,695.2 366.3,693.5 366.9,696.5 367.5,693.8 368.0,692.5 368.6,692.4 369.1,688.5 369.7,687.2 370.2,685.8 370.8,687.0 371.3,685.2 371.9,684.2 372.4,683.8 373.0,677.8 373.5,677.2 374.1,678.3 374.7,674.3 375.2,674.8 375.8,676.6 376.3,675.7 376.9,674.5 377.4,671.5 378.0,670.0 378.5,671.3 379.1,667.5 379.6,667.8 380.2,668.5 380.7,663.6 381.3,662.4 381.8,662.1 382.4,661.8 383.0,660.1 383.5,658.2 384.1,657.8 384.6,652.8 385.2,653.6 385.7,655.6 386.3,653.6 386.8,653.8 387.4,655.5 387.9,657.9 388.5,661.1 389.0,660.2 389.6,667.0 390.1,671.5 390.7,670.5 391.3,676.2 391.8,677.6 392.4,678.3 392.9,683.4 393.5,685.4 394.0,691.7 394.6,690.6 395.1,697.3 395.7,697.4 396.2,693.7 396.8,700.2 397.3,702.7 397.9,699.3 398.5,703.6 399.0,699.1 399.6,703.8 400.1,700.9 400.7,705.6 401.2,702.0 401.8,701.4 402.3,707.4 402.9,711.6 403.4,706.8 404.0,710.1 404.5,709.3 405.1,709.0 405.6,711.3 406.2,713.6 406.8,708.4 407.3,713.0 407.9,711.8 408.4,708.4 409.0,714.0 409.5,714.4 410.1,708.5 410.6,713.2 411.2,709.6 411.7,708.6 412.3,711.3 412.8,708.3 413.4,707.9 413.9,711.3 414.5,708.7 415.1,707.4 415.6,702.6 416.2,701.9 416.7,706.8 417.3,702.6 417.8,704.3 418.4,701.7 418.9,703.1 419.5,700.7 420.0,705.9 420.6,700.6 421.1,702.0 421.7,701.6 422.3,704.0 422.8,698.8 423.4,701.3 423.9,700.7 424.5,702.0 425.0,702.5 425.6,699.8 426.1,701.1 426.7,699.9 427.2,701.5 427.8,700.5 428.3,699.6 428.9,700.9 429.4,701.9 430.0,705.8 430.6,700.9 431.1,702.8 431.7,705.4 432.2,699.1 432.8,700.2 433.3,701.7 433.9,704.2 434.4,709.5 435.0,706.1 435.5,708.1 436.1,705.9 436.6,702.3 437.2,703.1 437.7,710.1 438.3,709.3 438.9,707.2 439.4,712.5 440.0,708.2 440.5,714.1 441.1,715.4 441.6,711.8 442.2,711.8 442.7,716.1 443.3,712.9 443.8,717.0 444.4,713.4 444.9,717.6 445.5,716.5 446.1,715.8 446.6,715.3 447.2,717.7 447.7,713.0 448.3,717.3 448.8,717.4 449.4,719.7 449.9,716.2 450.5,722.1 451.0,718.4 451.6,717.0 452.1,721.9 452.7,722.6 453.2,719.2 453.8,717.9 454.4,719.7 454.9,718.3 455.5,719.0 456.0,722.4 456.6,720.1 457.1,719.5 457.7,719.8 458.2,718.8 458.8,720.4 459.3,720.2 459.9,717.7 460.4,718.4 461.0,722.5 461.5,718.5 462.1,717.2 462.7,721.2 463.2,717.2 463.8,714.9 464.3,718.1 464.9,715.0 465.4,715.6 466.0,717.1 466.5,716.2 467.1,715.0 467.6,715.4 468.2,715.6 468.7,719.3 469.3,716.2 469.9,717.0 470.4,722.6 471.0,718.4 471.5,723.0 472.1,723.4 472.6,721.3 473.2,719.5 473.7,723.6 474.3,724.5 474.8,725.4 475.4,724.0 475.9,726.1 476.5,726.4 477.0,721.8 477.6,726.5 478.2,724.1 478.7,722.6 479.3,723.0 479.8,727.2 480.4,725.4 480.9,719.0 481.5,723.6 482.0,723.1 482.6,723.0 483.1,722.3 483.7,720.5 484.2,724.8 484.8,721.3 485.4,722.4 485.9,720.9 486.5,721.6 487.0,724.4 487.6,723.6 488.1,721.6 488.7,721.0 489.2,721.9 489.8,724.6 490.3,723.0 490.9,723.2 491.4,722.2 492.0,722.4 492.5,723.3 493.1,719.4 493.7,726.1 494.2,721.6 494.8,722.0 495.3,725.8 495.9,723.7 496.4,723.5 497.0,722.4 497.5,720.6 498.1,724.0 498.6,726.1 499.2,722.2 499.7,726.6 500.3,721.9 500.8,722.8 501.4,725.2 502.0,724.4 502.5,725.8 503.1,723.1 503.6,722.7 504.2,721.1 504.7,722.5 505.3,722.8 505.8,722.1 506.4,726.0 506.9,723.6 507.5,721.1 508.0,729.5 508.6,723.3 509.2,722.5 509.7,727.3 510.3,727.1 510.8,722.7 511.4,722.1 511.9,723.0 512.5,727.0 513.0,724.3 513.6,723.4 514.1,724.8 514.7,727.2 515.2,722.3 515.8,724.2 516.3,722.3 516.9,729.0 517.5,728.4 518.0,726.7 518.6,724.6 519.1,726.2 519.7,720.9 520.2,725.4 520.8,722.4 521.3,722.4 521.9,723.6 522.4,724.2 523.0,726.0 523.5,726.2 524.1,725.4 524.6,723.1 525.2,726.2 525.8,724.5 526.3,727.1 526.9,723.2 527.4,720.3 528.0,724.0 528.5,729.0 529.1,725.8 529.6,724.5 530.2,726.6 530.7,725.9 531.3,725.8 531.8,723.9 532.4,725.0 533.0,725.3 533.5,723.7 534.1,722.8 534.6,725.4 535.2,728.4 535.7,726.1 536.3,725.8 536.8,725.9 537.4,729.5 537.9,725.4 538.5,726.9 539.0,728.6 539.6,725.0 540.1,725.4 540.7,726.9 541.3,728.1" fill="none" stroke="#000000" stroke-width="3.1" stroke-linejoin="round"/>
<path d="M133.7,87.8 L129.3,132.2 L126.2,167.0 L124.5,201.7 L123.7,227.3 L122.6,270.2 L120.8,304.0 L118.8,338.0 L117.0,383.2 L116.2,410.0 L114.7,475.0 L113.1,540.0 L111.1,605.0 L108.9,670.0 L108.0,678.0" fill="none" stroke="#000" stroke-width="3.0" stroke-dasharray="8.6 4.3"/>
<path d="M301.3,116.3 L295.9,172.5 L293.3,220.0 L290.9,266.0 L288.1,297.5 L285.6,328.8 L283.2,370.0 L279.2,430.6 L274.7,491.2 L270.8,551.8 L267.1,612.4 L266.8,622.0" fill="none" stroke="#000" stroke-width="3.0" stroke-dasharray="8.6 4.3"/>
<path d="M383.0,11.2 L376.4,87.5 L371.5,170.0 L368.2,252.4 L365.3,334.9 L364.1,351.4" fill="none" stroke="#000" stroke-width="3.0" stroke-dasharray="8.6 4.3"/>
<path d="M412.7,45.4 L406.0,100.0 L402.5,130.0 L398.0,190.4 L394.6,260.0 L392.9,345.0 L391.5,515.0 L387.0,656.0" fill="none" stroke="#000" stroke-width="3.0" stroke-dasharray="8.6 4.3"/>
<line x1="55" y1="7.2" x2="545.6" y2="7.2" stroke="#000" stroke-width="2.8"/>
<line x1="55" y1="730.3" x2="544.2" y2="730.3" stroke="#000" stroke-width="2.8"/>
<line x1="73.5" y1="7.2" x2="73.5" y2="730.3" stroke="#000" stroke-width="2.8"/>
<line x1="544.2" y1="5.800000000000001" x2="544.2" y2="749" stroke="#000" stroke-width="2.8"/>
<line x1="101.5" y1="730.3" x2="101.5" y2="749" stroke="#000" stroke-width="2.8"/>
<line x1="101.5" y1="7.2" x2="101.5" y2="24.4" stroke="#000" stroke-width="2.8"/>
<line x1="156.85" y1="730.3" x2="156.85" y2="740" stroke="#000" stroke-width="2.8"/>
<line x1="156.85" y1="7.2" x2="156.85" y2="15.5" stroke="#000" stroke-width="2.8"/>
<line x1="212.2" y1="730.3" x2="212.2" y2="749" stroke="#000" stroke-width="2.8"/>
<line x1="212.2" y1="7.2" x2="212.2" y2="24.4" stroke="#000" stroke-width="2.8"/>
<line x1="267.55" y1="730.3" x2="267.55" y2="740" stroke="#000" stroke-width="2.8"/>
<line x1="267.55" y1="7.2" x2="267.55" y2="15.5" stroke="#000" stroke-width="2.8"/>
<line x1="322.9" y1="730.3" x2="322.9" y2="749" stroke="#000" stroke-width="2.8"/>
<line x1="322.9" y1="7.2" x2="322.9" y2="24.4" stroke="#000" stroke-width="2.8"/>
<line x1="378.25" y1="730.3" x2="378.25" y2="740" stroke="#000" stroke-width="2.8"/>
<line x1="378.25" y1="7.2" x2="378.25" y2="15.5" stroke="#000" stroke-width="2.8"/>
<line x1="433.6" y1="730.3" x2="433.6" y2="749" stroke="#000" stroke-width="2.8"/>
<line x1="433.6" y1="7.2" x2="433.6" y2="24.4" stroke="#000" stroke-width="2.8"/>
<line x1="488.95" y1="730.3" x2="488.95" y2="740" stroke="#000" stroke-width="2.8"/>
<line x1="488.95" y1="7.2" x2="488.95" y2="15.5" stroke="#000" stroke-width="2.8"/>
<line x1="64" y1="670.0416666666666" x2="73.5" y2="670.0416666666666" stroke="#000" stroke-width="2.8"/>
<line x1="55" y1="609.7833333333333" x2="73.5" y2="609.7833333333333" stroke="#000" stroke-width="2.8"/>
<line x1="64" y1="549.525" x2="73.5" y2="549.525" stroke="#000" stroke-width="2.8"/>
<line x1="55" y1="489.26666666666665" x2="73.5" y2="489.26666666666665" stroke="#000" stroke-width="2.8"/>
<line x1="64" y1="429.0083333333333" x2="73.5" y2="429.0083333333333" stroke="#000" stroke-width="2.8"/>
<line x1="55" y1="368.75" x2="73.5" y2="368.75" stroke="#000" stroke-width="2.8"/>
<line x1="64" y1="308.49166666666673" x2="73.5" y2="308.49166666666673" stroke="#000" stroke-width="2.8"/>
<line x1="55" y1="248.23333333333335" x2="73.5" y2="248.23333333333335" stroke="#000" stroke-width="2.8"/>
<line x1="64" y1="187.97500000000002" x2="73.5" y2="187.97500000000002" stroke="#000" stroke-width="2.8"/>
<line x1="55" y1="127.7166666666667" x2="73.5" y2="127.7166666666667" stroke="#000" stroke-width="2.8"/>
<line x1="64" y1="67.45833333333337" x2="73.5" y2="67.45833333333337" stroke="#000" stroke-width="2.8"/>
<text x="101.5" y="787" font-size="32.5" text-anchor="middle" font-weight="normal" >200</text>
<text x="212.2" y="787" font-size="32.5" text-anchor="middle" font-weight="normal" >400</text>
<text x="322.9" y="787" font-size="32.5" text-anchor="middle" font-weight="normal" >600</text>
<text x="433.6" y="787" font-size="32.5" text-anchor="middle" font-weight="normal" >800</text>
<text x="544.3" y="787" font-size="32.5" text-anchor="middle" font-weight="normal" >1000</text>
<text x="535.5" y="102.1" font-size="25" text-anchor="end" font-weight="normal" >25.5</text>
<text x="534.4" y="158.7" font-size="25" text-anchor="end" font-weight="normal" >16.9</text>
<text x="533.4" y="217.0" font-size="25" text-anchor="end" font-weight="normal" >12.6</text>
<text x="541.3" y="289.1" font-size="25" text-anchor="end" font-weight="normal" >10.2</text>
<text x="531.1" y="344.4" font-size="25" text-anchor="end" font-weight="normal" >8.4</text>
<text x="534.3" y="393.3" font-size="25" text-anchor="end" font-weight="normal" >6.6</text>
<text x="527.4" y="476.4" font-size="25" text-anchor="end" font-weight="normal" >5.1</text>
<text x="532.3" y="519.2" font-size="25" text-anchor="end" font-weight="normal" >3.7</text>
<text x="530.9" y="585.7" font-size="25" text-anchor="end" font-weight="normal" >2.5</text>
<text x="526.3" y="653.0" font-size="25" text-anchor="end" font-weight="normal" >1.5</text>
<text x="530.9" y="711.0" font-size="25" text-anchor="end" font-weight="normal" >0.8</text>
<text x="137.5" y="75.5" font-size="29.5" textLength="25.4" lengthAdjust="spacingAndGlyphs">ω</text><text x="162.9" y="81.7" font-size="22">2</text>
<text x="291.7" y="80.3" font-size="29.5" textLength="25.4" lengthAdjust="spacingAndGlyphs">ω</text><text x="317.6" y="86.3" font-size="22">6</text>
<text x="421.0" y="34.0" font-size="29.5" textLength="25.4" lengthAdjust="spacingAndGlyphs">ω</text><text x="446.9" y="39.8" font-size="22">3</text>
<text x="81.5" y="61" font-size="47" font-weight="bold" textLength="56" lengthAdjust="spacingAndGlyphs">(a)</text>
<text x="160" y="844" font-size="37.5" textLength="262.5" lengthAdjust="spacing">Raman shift(cm</text>
<text x="422.5" y="825.5" font-size="23.5">-1</text>
<text x="447" y="844" font-size="37.5">)</text>
<text transform="translate(30,565) rotate(-90)" font-size="37.5" textLength="440" lengthAdjust="spacing">Normalized intensity (a.u.)</text>
<path d="M673.0,199.4 673.5,211.0 674.1,214.3 674.6,209.8 675.2,212.4 675.7,208.8 676.3,208.0 676.8,209.6 677.4,205.0 677.9,223.2 678.5,218.3 679.0,220.4 679.6,216.8 680.1,215.1 680.7,215.3 681.2,218.4 681.8,231.1 682.3,225.1 682.9,223.0 683.4,224.9 684.0,218.3 684.5,234.7 685.1,220.4 685.6,228.2 686.2,240.8 686.7,213.5 687.3,219.3 687.8,223.0 688.4,227.6 688.9,216.0 689.5,224.2 690.0,224.7 690.6,225.1 691.1,208.9 691.7,229.7 692.2,231.0 692.8,223.1 693.3,215.2 693.9,215.0 694.4,203.4 695.0,219.8 695.5,225.0 696.1,218.9 696.6,199.5 697.2,210.3 697.7,211.1 698.3,207.6 698.8,215.6 699.4,197.8 699.9,203.0 700.5,209.9 701.0,211.4 701.6,205.6 702.1,210.3 702.7,206.6 703.2,196.6 703.8,210.3 704.3,199.1 704.9,192.0 705.4,204.1 706.0,212.1 706.5,206.7 707.1,206.7 707.6,201.6 708.2,185.8 708.7,204.0 709.3,200.6 709.8,185.0 710.4,195.2 710.9,193.5 711.5,204.8 712.0,198.8 712.6,199.4 713.1,198.6 713.7,188.7 714.2,184.4 714.8,196.0 715.3,193.4 715.9,194.5 716.4,192.9 717.0,190.3 717.5,195.9 718.1,193.0 718.6,187.3 719.2,175.8 719.7,174.9 720.3,179.7 720.8,186.4 721.4,191.6 721.9,179.9 722.5,187.1 723.0,188.1 723.6,193.4 724.1,178.6 724.7,183.6 725.2,173.7 725.8,162.5 726.3,153.9 726.9,166.9 727.4,167.7 728.0,173.5 728.5,151.5 729.1,154.9 729.6,148.0 730.2,132.1 730.7,147.1 731.3,143.1 731.8,140.1 732.4,166.8 732.9,154.4 733.5,166.9 734.0,167.9 734.6,169.2 735.1,174.4 735.7,181.2 736.2,169.5 736.8,168.3 737.3,189.8 737.9,184.8 738.4,174.7 739.0,180.0 739.5,172.2 740.1,181.7 740.6,187.6 741.2,171.2 741.7,188.2 742.3,188.0 742.8,181.6 743.4,183.9 743.9,181.3 744.5,180.6 745.0,172.1 745.6,193.0 746.1,179.1 746.7,183.9 747.2,181.7 747.8,185.7 748.3,189.3 748.9,176.7 749.4,184.9 750.0,181.0 750.5,177.2 751.1,190.2 751.6,189.3 752.2,176.7 752.7,180.2 753.3,175.8 753.8,174.9 754.4,175.7 754.9,184.7 755.5,172.8 756.0,172.2 756.6,182.4 757.1,172.0 757.7,187.1 758.2,173.4 758.8,175.7 759.3,169.2 759.9,163.1 760.4,179.0 761.0,180.6 761.5,181.7 762.1,174.5 762.6,179.4 763.2,174.3 763.7,174.6 764.3,170.5 764.8,174.5 765.3,170.0 765.9,179.6 766.4,172.3 767.0,170.5 767.5,176.6 768.1,177.4 768.6,168.2 769.2,172.4 769.7,175.9 770.3,184.3 770.8,183.6 771.4,185.7 771.9,179.9 772.5,176.9 773.0,173.7 773.6,183.3 774.1,180.4 774.7,185.6 775.2,189.2 775.8,195.2 776.3,178.0 776.9,186.5 777.4,173.2 778.0,189.2 778.5,175.6 779.1,181.9 779.6,175.9 780.2,191.7 780.7,185.5 781.3,187.4 781.8,180.9 782.4,183.9 782.9,174.8 783.5,178.3 784.0,189.2 784.6,169.7 785.1,181.1 785.7,187.8 786.2,186.9 786.8,184.4 787.3,180.4 787.9,188.4 788.4,178.6 789.0,180.1 789.5,170.3 790.1,182.3 790.6,178.6 791.2,180.7 791.7,167.2 792.3,173.8 792.8,180.1 793.4,173.9 793.9,185.2 794.5,193.9 795.0,181.4 795.6,184.4 796.1,179.3 796.7,179.3 797.2,173.5 797.8,185.5 798.3,174.5 798.9,179.5 799.4,179.2 800.0,175.5 800.5,174.3 801.1,182.2 801.6,189.4 802.2,183.1 802.7,191.1 803.3,185.5 803.8,184.4 804.4,186.6 804.9,182.2 805.5,189.5 806.0,185.0 806.6,185.0 807.1,195.3 807.7,179.8 808.2,173.2 808.8,184.8 809.3,187.2 809.9,183.7 810.4,191.2 811.0,188.1 811.5,188.5 812.1,172.9 812.6,196.8 813.2,187.5 813.7,182.2 814.3,202.6 814.8,188.0 815.4,184.2 815.9,182.3 816.5,189.1 817.0,185.8 817.6,184.1 818.1,189.7 818.7,189.3 819.2,187.8 819.8,197.0 820.3,200.6 820.9,200.8 821.4,190.5 822.0,190.1 822.5,184.3 823.1,192.4 823.6,188.7 824.2,195.9 824.7,193.7 825.3,199.5 825.8,195.3 826.4,199.4 826.9,200.8 827.5,183.8 828.0,192.3 828.6,200.3 829.1,199.4 829.7,201.1 830.2,197.6 830.8,205.4 831.3,199.0 831.9,200.8 832.4,199.1 833.0,207.5 833.5,208.8 834.1,204.3 834.6,207.4 835.2,193.5 835.7,212.1 836.3,195.1 836.8,203.9 837.4,194.1 837.9,205.1 838.5,205.3 839.0,221.8 839.6,203.5 840.1,197.2 840.7,212.4 841.2,210.4 841.8,219.8 842.3,218.3 842.9,203.9 843.4,212.6 844.0,213.4 844.5,216.5 845.1,214.5 845.6,216.3 846.2,219.1 846.7,207.1 847.3,212.6 847.8,227.1 848.4,226.7 848.9,220.9 849.5,223.4 850.0,226.5 850.6,229.4 851.1,220.6 851.7,217.4 852.2,228.8 852.8,220.2 853.3,216.9 853.9,225.9 854.4,221.5 855.0,222.3 855.5,222.4 856.1,227.8 856.6,224.1 857.1,224.2 857.7,215.2 858.2,215.2 858.8,217.0 859.3,216.6 859.9,230.9 860.4,220.6 861.0,221.4 861.5,236.3 862.1,226.3 862.6,221.8 863.2,228.1 863.7,224.7 864.3,233.2 864.8,232.6 865.4,219.0 865.9,237.6 866.5,216.9 867.0,235.8 867.6,226.9 868.1,211.4 868.7,236.6 869.2,219.0 869.8,209.4 870.3,234.7 870.9,217.4 871.4,221.4 872.0,220.6 872.5,222.2 873.1,225.0 873.6,210.3 874.2,233.6 874.7,224.2 875.3,219.5 875.8,222.7 876.4,218.8 876.9,222.2 877.5,220.2 878.0,220.3 878.6,217.3 879.1,212.4 879.7,213.5 880.2,207.4 880.8,212.7 881.3,200.1 881.9,198.2 882.4,211.0 883.0,194.5 883.5,204.3 884.1,204.6 884.6,184.6 885.2,197.5 885.7,204.2 886.3,188.8 886.8,199.8 887.4,181.3 887.9,172.5 888.5,178.4 889.0,177.1 889.6,185.7 890.1,174.7 890.7,172.6 891.2,170.6 891.8,181.3 892.3,160.0 892.9,161.4 893.4,164.7 894.0,166.2 894.5,169.1 895.1,170.2 895.6,157.3 896.2,163.0 896.7,151.8 897.3,172.0 897.8,155.3 898.4,144.9 898.9,158.6 899.5,151.5 900.0,156.4 900.6,152.9 901.1,135.0 901.7,151.8 902.2,139.8 902.8,137.4 903.3,138.8 903.9,136.1 904.4,137.4 905.0,140.2 905.5,132.7 906.1,132.9 906.6,138.9 907.2,127.6 907.7,130.5 908.3,127.8 908.8,133.6 909.4,120.2 909.9,126.6 910.5,130.8 911.0,125.6 911.6,127.0 912.1,122.2 912.7,125.6 913.2,121.1 913.8,132.0 914.3,120.7 914.9,117.9 915.4,120.6 916.0,117.4 916.5,133.2 917.1,123.1 917.6,120.1 918.2,117.3 918.7,123.6 919.3,115.4 919.8,115.7 920.4,114.4 920.9,115.4 921.5,115.5 922.0,110.9 922.6,118.8 923.1,110.0 923.7,119.5 924.2,123.1 924.8,112.1 925.3,112.5 925.9,121.6 926.4,111.6 927.0,115.6 927.5,114.3 928.1,113.3 928.6,105.4 929.2,117.7 929.7,114.0 930.3,110.9 930.8,111.1 931.4,105.7 931.9,115.6 932.5,114.8 933.0,120.8 933.6,106.7 934.1,121.5 934.7,112.0 935.2,118.0 935.8,99.7 936.3,110.8 936.9,112.5 937.4,99.1 938.0,110.7 938.5,113.3 939.1,101.6 939.6,112.0 940.2,108.2 940.7,111.0 941.3,102.3 941.8,97.1 942.4,100.1 942.9,104.8 943.5,89.2 944.0,104.1 944.6,101.4 945.1,100.2 945.7,86.4 946.2,94.2 946.8,98.6 947.3,97.4 947.9,102.6 948.4,95.1 948.9,95.8 949.5,105.7 950.0,107.9 950.6,99.2 951.1,97.2 951.7,90.3 952.2,103.9 952.8,98.4 953.3,111.5 953.9,97.7 954.4,102.0 955.0,98.1 955.5,105.5 956.1,116.9 956.6,100.6 957.2,97.3 957.7,105.2 958.3,104.7 958.8,92.8 959.4,109.0 959.9,97.0 960.5,109.1 961.0,104.2 961.6,100.5 962.1,105.9 962.7,100.1 963.2,95.9 963.8,100.6 964.3,103.8 964.9,90.4 965.4,104.8 966.0,98.3 966.5,108.9 967.1,105.5 967.6,104.1 968.2,92.6 968.7,108.9 969.3,95.2 969.8,100.5 970.4,100.2 970.9,118.5 971.5,109.6 972.0,112.0 972.6,117.8 973.1,109.7 973.7,117.0 974.2,105.6 974.8,120.2 975.3,119.4 975.9,117.3 976.4,106.3 977.0,108.1 977.5,113.1 978.1,118.2 978.6,128.6 979.2,121.4 979.7,121.9 980.3,123.6 980.8,120.3 981.4,119.9 981.9,122.5 982.5,129.1 983.0,124.2 983.6,125.0 984.1,130.6 984.7,111.9 985.2,114.8 985.8,122.8 986.3,120.7 986.9,114.8 987.4,107.8 988.0,116.2 988.5,116.1 989.1,120.5 989.6,106.0 990.2,115.0 990.7,105.0 991.3,101.9 991.8,123.9 992.4,109.7 992.9,117.4 993.5,115.4 994.0,112.1 994.6,118.5 995.1,125.3 995.7,108.0 996.2,110.6 996.8,102.1 997.3,110.4 997.9,111.4 998.4,104.5 999.0,104.2 999.5,101.3 1000.1,102.7 1000.6,109.3 1001.2,100.7 1001.7,100.2 1002.3,95.1 1002.8,103.5 1003.4,102.8 1003.9,99.2 1004.5,111.9 1005.0,95.5 1005.6,118.4 1006.1,109.2 1006.7,101.0 1007.2,113.0 1007.8,120.9 1008.3,119.8 1008.9,117.7 1009.4,124.1 1010.0,110.9 1010.5,120.2 1011.1,113.2 1011.6,120.5 1012.2,123.7 1012.7,125.1 1013.3,127.2 1013.8,126.2 1014.4,130.4 1014.9,133.9 1015.5,140.6 1016.0,134.5 1016.6,144.1 1017.1,131.7 1017.7,142.4 1018.2,142.5 1018.8,142.1 1019.3,154.6 1019.9,142.2 1020.4,146.9 1021.0,139.7 1021.5,142.0 1022.1,145.8 1022.6,158.0 1023.2,152.2 1023.7,147.7 1024.3,154.7 1024.8,163.6 1025.4,151.8 1025.9,157.0 1026.5,153.7 1027.0,156.0 1027.6,164.0 1028.1,154.3 1028.7,161.8 1029.2,163.0 1029.8,160.6 1030.3,158.8 1030.9,167.4 1031.4,160.7 1032.0,159.0 1032.5,175.6 1033.1,167.3 1033.6,153.4 1034.2,164.9 1034.7,166.6 1035.3,169.7 1035.8,168.2 1036.4,176.3 1036.9,175.5 1037.5,184.3 1038.0,159.2 1038.6,171.8 1039.1,173.2 1039.6,161.0 1040.2,171.8 1040.7,187.0 1041.3,173.8 1041.8,179.8 1042.4,178.5 1042.9,166.8 1043.5,173.2 1044.0,183.3 1044.6,186.5 1045.1,190.2 1045.7,175.4 1046.2,183.7 1046.8,176.2 1047.3,179.6 1047.9,169.5 1048.4,184.1 1049.0,193.4 1049.5,185.2 1050.1,184.4 1050.6,186.5 1051.2,187.1 1051.7,176.4 1052.3,194.8 1052.8,182.0 1053.4,197.0 1053.9,191.0 1054.5,186.8 1055.0,187.3 1055.6,172.4 1056.1,187.6 1056.7,188.0 1057.2,187.7 1057.8,183.9 1058.3,192.5 1058.9,191.5 1059.4,187.1 1060.0,189.9 1060.5,180.3 1061.1,195.9 1061.6,188.6 1062.2,179.5 1062.7,193.1 1063.3,192.7 1063.8,201.1 1064.4,192.5 1064.9,184.8 1065.5,185.9 1066.0,201.1 1066.6,193.5 1067.1,189.8 1067.7,198.5 1068.2,205.4 1068.8,201.1 1069.3,195.4 1069.9,200.9 1070.4,191.5 1071.0,192.4 1071.5,198.2 1072.1,192.5 1072.6,210.8 1073.2,205.1 1073.7,186.2 1074.3,195.2 1074.8,191.6 1075.4,204.4 1075.9,197.9 1076.5,205.3 1077.0,207.8 1077.6,199.4 1078.1,202.1 1078.7,209.3 1079.2,207.0 1079.8,211.9 1080.3,207.2 1080.9,198.2 1081.4,213.1 1082.0,190.8 1082.5,198.9 1083.1,192.8 1083.6,197.7 1084.2,210.4 1084.7,203.6 1085.3,209.0 1085.8,198.1 1086.4,208.0 1086.9,213.5 1087.5,214.0 1088.0,206.5 1088.6,213.0 1089.1,220.1 1089.7,205.1 1090.2,212.5 1090.8,212.9 1091.3,208.7 1091.9,205.5 1092.4,207.0 1093.0,210.8 1093.5,220.4 1094.1,210.2 1094.6,212.6 1095.2,215.2 1095.7,214.8 1096.3,199.4 1096.8,208.0 1097.4,209.8 1097.9,211.4 1098.5,216.8 1099.0,223.6 1099.6,217.9 1100.1,216.3 1100.7,210.7 1101.2,207.5 1101.8,210.2 1102.3,228.5 1102.9,212.8 1103.4,212.6 1104.0,223.7 1104.5,216.6 1105.1,209.9 1105.6,215.2 1106.2,209.1 1106.7,205.2 1107.3,219.9 1107.8,227.7 1108.4,223.4 1108.9,208.9 1109.5,208.7 1110.0,223.1 1110.6,219.7 1111.1,220.8 1111.7,221.8 1112.2,214.6 1112.8,228.9 1113.3,212.6 1113.9,227.4 1114.4,218.9 1115.0,214.2 1115.5,218.6 1116.1,206.7 1116.6,209.2 1117.2,219.3 1117.7,212.5 1118.3,224.1 1118.8,226.1 1119.4,221.5 1119.9,214.9 1120.5,221.4 1121.0,216.8 1121.6,215.5 1122.1,216.9 1122.7,215.1 1123.2,209.0 1123.8,205.5 1124.3,203.9 1124.9,217.9 1125.4,204.0 1126.0,223.6 1126.5,214.2 1127.1,216.3 1127.6,220.2 1128.2,226.0 1128.7,213.0 1129.3,212.7 1129.8,218.9 1130.4,212.5 1130.9,221.1 1131.4,204.7 1132.0,217.2 1132.5,215.5 1133.1,213.3 1133.6,211.6 1134.2,211.1 1134.7,216.8 1135.3,213.5 1135.8,222.7 1136.4,205.0" fill="none" stroke="#ff0000" stroke-width="3.1" stroke-linejoin="round"/>
<path d="M673.0,435.6 673.5,441.8 674.1,424.8 674.6,443.0 675.2,434.1 675.7,430.3 676.3,426.6 676.8,429.0 677.4,433.5 677.9,439.0 678.5,437.7 679.0,438.0 679.6,425.9 680.1,422.2 680.7,442.7 681.2,439.6 681.8,445.6 682.3,440.2 682.9,428.2 683.4,439.8 684.0,435.8 684.5,433.0 685.1,427.0 685.6,430.6 686.2,429.0 686.7,433.7 687.3,428.8 687.8,439.8 688.4,422.5 688.9,428.1 689.5,427.4 690.0,419.4 690.6,416.9 691.1,427.3 691.7,423.6 692.2,418.8 692.8,420.4 693.3,413.4 693.9,416.7 694.4,410.8 695.0,413.4 695.5,416.0 696.1,407.6 696.6,412.2 697.2,400.9 697.7,402.0 698.3,396.4 698.8,401.7 699.4,401.4 699.9,398.8 700.5,397.4 701.0,404.6 701.6,403.9 702.1,389.0 702.7,400.2 703.2,383.8 703.8,387.4 704.3,388.6 704.9,388.2 705.4,379.6 706.0,378.4 706.5,379.4 707.1,372.0 707.6,368.9 708.2,372.4 708.7,370.7 709.3,362.1 709.8,358.6 710.4,354.4 710.9,348.5 711.5,345.0 712.0,340.0 712.6,347.7 713.1,344.4 713.7,346.3 714.2,351.3 714.8,356.9 715.3,365.7 715.9,360.8 716.4,363.3 717.0,368.7 717.5,365.3 718.1,378.4 718.6,378.6 719.2,379.3 719.7,376.9 720.3,382.9 720.8,385.9 721.4,384.2 721.9,380.9 722.5,370.3 723.0,387.8 723.6,381.1 724.1,374.6 724.7,387.5 725.2,384.7 725.8,375.5 726.3,382.4 726.9,381.5 727.4,388.1 728.0,373.0 728.5,380.9 729.1,382.2 729.6,390.3 730.2,377.3 730.7,370.4 731.3,375.7 731.8,384.2 732.4,386.8 732.9,391.3 733.5,384.1 734.0,377.4 734.6,390.0 735.1,380.7 735.7,379.3 736.2,380.1 736.8,386.3 737.3,374.6 737.9,373.7 738.4,378.5 739.0,378.5 739.5,374.6 740.1,374.3 740.6,381.0 741.2,386.1 741.7,383.1 742.3,386.4 742.8,386.3 743.4,369.8 743.9,372.6 744.5,377.2 745.0,375.0 745.6,376.5 746.1,382.4 746.7,375.8 747.2,380.6 747.8,372.8 748.3,379.0 748.9,391.8 749.4,382.8 750.0,388.2 750.5,391.2 751.1,386.0 751.6,392.7 752.2,392.9 752.7,395.5 753.3,389.6 753.8,386.6 754.4,390.2 754.9,394.2 755.5,401.6 756.0,399.5 756.6,400.1 757.1,402.8 757.7,410.8 758.2,403.1 758.8,419.4 759.3,400.8 759.9,404.1 760.4,411.6 761.0,409.9 761.5,402.8 762.1,406.6 762.6,400.2 763.2,411.6 763.7,410.0 764.3,400.2 764.8,409.3 765.3,405.3 765.9,406.8 766.4,407.5 767.0,404.3 767.5,409.4 768.1,409.6 768.6,409.3 769.2,412.7 769.7,405.4 770.3,398.8 770.8,403.8 771.4,408.0 771.9,405.8 772.5,408.4 773.0,409.2 773.6,403.5 774.1,403.7 774.7,398.8 775.2,408.9 775.8,401.8 776.3,397.0 776.9,396.3 777.4,399.3 778.0,408.7 778.5,403.9 779.1,390.2 779.6,397.4 780.2,399.8 780.7,399.5 781.3,397.1 781.8,391.2 782.4,395.9 782.9,390.1 783.5,380.7 784.0,388.1 784.6,387.8 785.1,396.1 785.7,396.5 786.2,385.6 786.8,392.1 787.3,391.9 787.9,384.3 788.4,381.5 789.0,392.2 789.5,393.9 790.1,390.6 790.6,381.8 791.2,394.6 791.7,392.3 792.3,391.2 792.8,394.6 793.4,390.9 793.9,402.6 794.5,397.4 795.0,394.7 795.6,399.3 796.1,397.9 796.7,390.4 797.2,397.7 797.8,394.1 798.3,389.8 798.9,395.6 799.4,401.4 800.0,396.1 800.5,406.8 801.1,408.6 801.6,398.4 802.2,403.1 802.7,410.8 803.3,399.0 803.8,396.4 804.4,399.2 804.9,394.7 805.5,395.4 806.0,404.2 806.6,401.7 807.1,405.9 807.7,408.0 808.2,402.3 808.8,406.1 809.3,406.5 809.9,405.3 810.4,405.1 811.0,411.8 811.5,410.0 812.1,414.5 812.6,416.8 813.2,417.2 813.7,401.2 814.3,408.0 814.8,411.4 815.4,413.6 815.9,418.0 816.5,408.4 817.0,411.3 817.6,415.1 818.1,420.4 818.7,421.5 819.2,409.4 819.8,412.9 820.3,411.1 820.9,420.2 821.4,420.8 822.0,415.3 822.5,414.8 823.1,420.4 823.6,425.0 824.2,416.9 824.7,420.2 825.3,423.5 825.8,424.0 826.4,426.6 826.9,420.5 827.5,423.4 828.0,416.2 828.6,427.9 829.1,433.7 829.7,417.9 830.2,425.7 830.8,438.3 831.3,429.1 831.9,420.4 832.4,436.7 833.0,423.6 833.5,438.5 834.1,428.6 834.6,428.3 835.2,432.4 835.7,432.4 836.3,435.9 836.8,435.6 837.4,432.5 837.9,440.3 838.5,437.3 839.0,435.2 839.6,434.7 840.1,433.6 840.7,433.9 841.2,437.9 841.8,437.0 842.3,434.9 842.9,440.1 843.4,433.6 844.0,437.4 844.5,439.7 845.1,429.5 845.6,434.1 846.2,444.2 846.7,430.6 847.3,441.6 847.8,430.2 848.4,437.8 848.9,430.2 849.5,432.3 850.0,433.0 850.6,431.3 851.1,438.4 851.7,436.3 852.2,435.2 852.8,430.2 853.3,436.3 853.9,431.6 854.4,426.5 855.0,417.9 855.5,425.5 856.1,423.9 856.6,419.4 857.1,421.0 857.7,419.6 858.2,412.2 858.8,414.8 859.3,411.7 859.9,409.4 860.4,403.8 861.0,400.8 861.5,401.3 862.1,405.2 862.6,406.7 863.2,389.3 863.7,382.2 864.3,380.7 864.8,376.1 865.4,374.7 865.9,375.3 866.5,360.4 867.0,368.7 867.6,365.7 868.1,365.4 868.7,362.9 869.2,354.4 869.8,356.4 870.3,337.1 870.9,336.2 871.4,330.6 872.0,327.2 872.5,325.8 873.1,314.8 873.6,321.9 874.2,316.2 874.7,308.0 875.3,305.3 875.8,294.7 876.4,284.3 876.9,293.6 877.5,293.2 878.0,290.5 878.6,281.6 879.1,283.4 879.7,293.5 880.2,286.9 880.8,285.1 881.3,279.2 881.9,283.6 882.4,285.5 883.0,282.0 883.5,275.5 884.1,278.8 884.6,272.8 885.2,276.5 885.7,282.7 886.3,278.9 886.8,281.8 887.4,294.0 887.9,288.4 888.5,295.7 889.0,292.4 889.6,289.9 890.1,297.3 890.7,296.8 891.2,289.6 891.8,295.0 892.3,300.3 892.9,311.5 893.4,302.5 894.0,307.1 894.5,312.5 895.1,312.9 895.6,311.9 896.2,328.5 896.7,330.9 897.3,308.4 897.8,328.2 898.4,328.4 898.9,332.8 899.5,330.1 900.0,335.8 900.6,343.3 901.1,344.1 901.7,346.4 902.2,344.5 902.8,345.6 903.3,347.4 903.9,338.3 904.4,357.1 905.0,347.7 905.5,349.1 906.1,348.6 906.6,350.8 907.2,337.8 907.7,350.3 908.3,342.9 908.8,344.7 909.4,340.5 909.9,341.5 910.5,353.6 911.0,348.3 911.6,350.1 912.1,350.4 912.7,345.4 913.2,344.7 913.8,345.2 914.3,350.2 914.9,340.4 915.4,349.9 916.0,356.6 916.5,358.2 917.1,357.8 917.6,354.3 918.2,346.4 918.7,356.0 919.3,353.8 919.8,352.2 920.4,338.6 920.9,352.2 921.5,357.1 922.0,353.4 922.6,348.0 923.1,351.7 923.7,348.7 924.2,349.3 924.8,352.6 925.3,351.4 925.9,348.3 926.4,349.9 927.0,343.7 927.5,342.9 928.1,350.8 928.6,345.4 929.2,351.7 929.7,339.5 930.3,355.5 930.8,349.0 931.4,358.3 931.9,337.4 932.5,341.2 933.0,357.0 933.6,350.1 934.1,350.0 934.7,348.1 935.2,347.0 935.8,347.7 936.3,338.2 936.9,341.2 937.4,347.3 938.0,340.2 938.5,334.9 939.1,337.6 939.6,341.7 940.2,334.8 940.7,334.8 941.3,338.3 941.8,340.4 942.4,343.8 942.9,335.8 943.5,338.7 944.0,342.7 944.6,328.0 945.1,339.0 945.7,341.2 946.2,338.9 946.8,335.5 947.3,343.5 947.9,347.4 948.4,340.7 948.9,339.5 949.5,341.4 950.0,351.2 950.6,350.2 951.1,344.7 951.7,339.5 952.2,333.6 952.8,345.0 953.3,345.7 953.9,349.5 954.4,342.9 955.0,348.8 955.5,352.8 956.1,341.9 956.6,363.0 957.2,357.3 957.7,354.5 958.3,345.2 958.8,346.7 959.4,357.3 959.9,356.4 960.5,338.9 961.0,357.1 961.6,354.3 962.1,353.2 962.7,343.5 963.2,349.9 963.8,344.7 964.3,349.9 964.9,355.7 965.4,348.5 966.0,349.1 966.5,340.6 967.1,335.1 967.6,338.4 968.2,346.6 968.7,341.7 969.3,331.6 969.8,331.1 970.4,325.8 970.9,317.3 971.5,325.1 972.0,325.1 972.6,319.8 973.1,319.7 973.7,310.0 974.2,318.4 974.8,324.1 975.3,315.6 975.9,317.6 976.4,315.6 977.0,308.1 977.5,311.9 978.1,305.3 978.6,320.6 979.2,308.3 979.7,300.4 980.3,296.9 980.8,311.4 981.4,305.6 981.9,303.1 982.5,292.6 983.0,295.2 983.6,290.1 984.1,299.9 984.7,288.8 985.2,298.6 985.8,288.3 986.3,281.1 986.9,287.3 987.4,267.5 988.0,269.2 988.5,274.9 989.1,282.7 989.6,283.1 990.2,280.0 990.7,269.7 991.3,277.2 991.8,275.3 992.4,288.8 992.9,281.4 993.5,291.1 994.0,299.2 994.6,289.4 995.1,296.8 995.7,295.2 996.2,301.7 996.8,306.1 997.3,310.3 997.9,314.9 998.4,317.6 999.0,334.9 999.5,327.5 1000.1,337.7 1000.6,339.8 1001.2,333.9 1001.7,353.8 1002.3,352.5 1002.8,346.6 1003.4,352.2 1003.9,349.6 1004.5,361.4 1005.0,369.8 1005.6,369.6 1006.1,358.0 1006.7,357.1 1007.2,370.1 1007.8,377.3 1008.3,369.9 1008.9,376.3 1009.4,364.7 1010.0,372.5 1010.5,376.4 1011.1,373.0 1011.6,374.9 1012.2,380.6 1012.7,374.6 1013.3,373.4 1013.8,383.0 1014.4,380.8 1014.9,374.7 1015.5,382.3 1016.0,377.2 1016.6,383.4 1017.1,379.8 1017.7,378.2 1018.2,371.9 1018.8,380.1 1019.3,378.5 1019.9,388.2 1020.4,377.7 1021.0,370.6 1021.5,387.9 1022.1,366.2 1022.6,385.0 1023.2,371.6 1023.7,383.0 1024.3,374.5 1024.8,378.1 1025.4,375.3 1025.9,374.5 1026.5,377.8 1027.0,371.7 1027.6,377.6 1028.1,369.5 1028.7,371.3 1029.2,372.4 1029.8,374.6 1030.3,381.4 1030.9,370.7 1031.4,370.6 1032.0,369.2 1032.5,372.9 1033.1,378.0 1033.6,371.2 1034.2,373.5 1034.7,372.1 1035.3,376.1 1035.8,365.8 1036.4,380.2 1036.9,382.9 1037.5,374.9 1038.0,380.2 1038.6,372.9 1039.1,393.1 1039.6,387.8 1040.2,398.3 1040.7,386.1 1041.3,383.8 1041.8,386.9 1042.4,383.8 1042.9,392.4 1043.5,394.0 1044.0,402.6 1044.6,396.6 1045.1,393.4 1045.7,403.4 1046.2,400.7 1046.8,407.1 1047.3,393.7 1047.9,396.4 1048.4,398.3 1049.0,398.7 1049.5,391.8 1050.1,410.1 1050.6,403.3 1051.2,409.2 1051.7,409.1 1052.3,412.9 1052.8,408.1 1053.4,407.1 1053.9,401.3 1054.5,405.7 1055.0,414.1 1055.6,395.7 1056.1,401.1 1056.7,406.1 1057.2,412.9 1057.8,398.7 1058.3,401.9 1058.9,404.9 1059.4,416.1 1060.0,399.2 1060.5,402.7 1061.1,407.2 1061.6,399.5 1062.2,404.9 1062.7,404.9 1063.3,400.6 1063.8,403.9 1064.4,410.6 1064.9,402.8 1065.5,398.4 1066.0,396.3 1066.6,400.9 1067.1,404.7 1067.7,399.8 1068.2,400.4 1068.8,410.8 1069.3,394.9 1069.9,393.6 1070.4,401.2 1071.0,399.3 1071.5,404.2 1072.1,408.5 1072.6,404.9 1073.2,403.0 1073.7,407.8 1074.3,408.7 1074.8,406.7 1075.4,403.0 1075.9,412.6 1076.5,409.0 1077.0,404.8 1077.6,415.1 1078.1,409.6 1078.7,410.3 1079.2,420.6 1079.8,410.5 1080.3,414.3 1080.9,410.9 1081.4,408.7 1082.0,418.9 1082.5,426.1 1083.1,414.1 1083.6,425.3 1084.2,425.5 1084.7,428.5 1085.3,415.8 1085.8,418.7 1086.4,431.4 1086.9,423.3 1087.5,424.2 1088.0,428.6 1088.6,428.8 1089.1,423.4 1089.7,425.7 1090.2,430.6 1090.8,429.1 1091.3,424.2 1091.9,434.9 1092.4,432.8 1093.0,426.8 1093.5,425.6 1094.1,433.3 1094.6,415.9 1095.2,429.0 1095.7,423.0 1096.3,424.8 1096.8,432.8 1097.4,431.7 1097.9,440.0 1098.5,426.9 1099.0,429.9 1099.6,420.6 1100.1,433.0 1100.7,424.6 1101.2,428.8 1101.8,434.3 1102.3,433.6 1102.9,429.9 1103.4,433.9 1104.0,424.9 1104.5,422.3 1105.1,419.1 1105.6,429.8 1106.2,438.6 1106.7,425.0 1107.3,426.6 1107.8,424.8 1108.4,428.8 1108.9,416.7 1109.5,430.5 1110.0,431.6 1110.6,422.3 1111.1,420.5 1111.7,421.1 1112.2,428.4 1112.8,433.0 1113.3,416.2 1113.9,417.4 1114.4,425.9 1115.0,426.7 1115.5,429.0 1116.1,421.7 1116.6,429.2 1117.2,431.1 1117.7,417.0 1118.3,424.1 1118.8,428.9 1119.4,429.9 1119.9,421.1 1120.5,416.1 1121.0,422.3 1121.6,419.1 1122.1,421.9 1122.7,437.3 1123.2,423.6 1123.8,427.4 1124.3,420.8 1124.9,431.9 1125.4,421.3 1126.0,421.7 1126.5,436.8 1127.1,428.8 1127.6,430.5 1128.2,416.5 1128.7,434.1 1129.3,435.5 1129.8,425.7 1130.4,424.7 1130.9,423.0 1131.4,431.4 1132.0,417.5 1132.5,427.1 1133.1,435.5 1133.6,426.5 1134.2,434.8 1134.7,424.4 1135.3,422.3 1135.8,432.9 1136.4,422.9" fill="none" stroke="#0000ff" stroke-width="3.1" stroke-linejoin="round"/>
<path d="M673.0,639.0 673.5,643.2 674.1,638.9 674.6,652.4 675.2,673.1 675.7,651.5 676.3,668.9 676.8,672.6 677.4,664.4 677.9,663.3 678.5,671.0 679.0,676.0 679.6,682.3 680.1,680.0 680.7,679.9 681.2,668.0 681.8,665.8 682.3,661.0 682.9,664.7 683.4,669.5 684.0,673.0 684.5,663.8 685.1,676.2 685.6,669.9 686.2,665.7 686.7,663.7 687.3,678.9 687.8,666.2 688.4,658.1 688.9,656.0 689.5,671.0 690.0,654.8 690.6,670.2 691.1,663.4 691.7,639.1 692.2,659.2 692.8,647.8 693.3,640.3 693.9,641.2 694.4,645.3 695.0,641.6 695.5,639.0 696.1,628.1 696.6,635.1 697.2,630.9 697.7,627.5 698.3,617.8 698.8,622.8 699.4,619.3 699.9,611.1 700.5,612.9 701.0,612.3 701.6,613.7 702.1,617.4 702.7,604.0 703.2,614.4 703.8,621.4 704.3,607.8 704.9,613.7 705.4,634.2 706.0,620.9 706.5,627.1 707.1,635.0 707.6,632.6 708.2,632.9 708.7,637.4 709.3,639.9 709.8,640.6 710.4,646.2 710.9,655.2 711.5,648.1 712.0,656.1 712.6,651.1 713.1,652.1 713.7,650.9 714.2,645.9 714.8,650.5 715.3,650.0 715.9,641.7 716.4,653.1 717.0,652.3 717.5,651.2 718.1,645.7 718.6,634.8 719.2,658.1 719.7,648.9 720.3,636.3 720.8,653.3 721.4,645.1 721.9,653.3 722.5,648.3 723.0,655.4 723.6,649.7 724.1,649.5 724.7,648.3 725.2,654.2 725.8,638.6 726.3,659.3 726.9,649.5 727.4,641.4 728.0,644.0 728.5,640.4 729.1,642.5 729.6,646.7 730.2,635.8 730.7,643.3 731.3,643.3 731.8,640.5 732.4,645.1 732.9,634.0 733.5,638.3 734.0,648.0 734.6,633.5 735.1,632.4 735.7,633.3 736.2,636.9 736.8,629.9 737.3,632.5 737.9,623.8 738.4,628.4 739.0,629.0 739.5,628.7 740.1,633.5 740.6,640.9 741.2,635.0 741.7,629.9 742.3,639.8 742.8,639.9 743.4,625.1 743.9,641.0 744.5,634.4 745.0,637.9 745.6,638.2 746.1,648.5 746.7,639.6 747.2,642.0 747.8,647.8 748.3,653.9 748.9,655.8 749.4,643.6 750.0,657.7 750.5,653.2 751.1,659.2 751.6,659.0 752.2,649.9 752.7,653.6 753.3,651.7 753.8,655.7 754.4,667.7 754.9,653.7 755.5,648.8 756.0,666.8 756.6,646.0 757.1,651.5 757.7,650.9 758.2,642.8 758.8,654.6 759.3,661.4 759.9,648.3 760.4,648.6 761.0,646.8 761.5,636.8 762.1,648.3 762.6,638.9 763.2,640.2 763.7,647.8 764.3,650.5 764.8,639.2 765.3,650.7 765.9,653.9 766.4,643.9 767.0,641.9 767.5,643.1 768.1,636.8 768.6,635.9 769.2,644.4 769.7,644.5 770.3,636.9 770.8,637.2 771.4,635.7 771.9,635.0 772.5,633.2 773.0,629.9 773.6,644.2 774.1,636.5 774.7,638.9 775.2,649.1 775.8,635.4 776.3,641.6 776.9,630.0 777.4,634.2 778.0,642.0 778.5,636.2 779.1,629.1 779.6,628.4 780.2,639.5 780.7,626.8 781.3,641.3 781.8,638.8 782.4,635.1 782.9,636.5 783.5,641.2 784.0,636.8 784.6,630.8 785.1,638.3 785.7,634.1 786.2,634.7 786.8,639.3 787.3,637.7 787.9,641.7 788.4,634.4 789.0,632.7 789.5,633.3 790.1,637.5 790.6,630.4 791.2,633.0 791.7,630.2 792.3,630.6 792.8,633.4 793.4,650.0 793.9,634.0 794.5,638.5 795.0,638.2 795.6,637.5 796.1,639.6 796.7,651.9 797.2,639.9 797.8,656.9 798.3,647.3 798.9,639.4 799.4,638.2 800.0,643.7 800.5,635.2 801.1,654.9 801.6,651.3 802.2,652.6 802.7,644.0 803.3,653.3 803.8,647.9 804.4,665.7 804.9,651.4 805.5,655.5 806.0,655.2 806.6,650.4 807.1,651.3 807.7,651.7 808.2,659.4 808.8,650.5 809.3,654.3 809.9,657.5 810.4,653.6 811.0,648.5 811.5,649.9 812.1,654.9 812.6,652.2 813.2,664.1 813.7,659.1 814.3,659.5 814.8,654.4 815.4,664.0 815.9,659.5 816.5,656.7 817.0,659.2 817.6,677.5 818.1,660.7 818.7,659.8 819.2,672.1 819.8,670.2 820.3,664.7 820.9,674.9 821.4,652.8 822.0,664.7 822.5,658.1 823.1,675.8 823.6,668.3 824.2,682.7 824.7,671.0 825.3,671.2 825.8,662.0 826.4,661.8 826.9,666.0 827.5,674.2 828.0,662.9 828.6,655.2 829.1,674.1 829.7,674.5 830.2,663.9 830.8,671.8 831.3,675.8 831.9,676.1 832.4,660.1 833.0,669.6 833.5,664.7 834.1,679.2 834.6,669.4 835.2,661.5 835.7,668.9 836.3,671.4 836.8,658.6 837.4,659.3 837.9,662.8 838.5,664.6 839.0,662.6 839.6,651.7 840.1,655.8 840.7,664.3 841.2,666.5 841.8,658.4 842.3,664.2 842.9,673.8 843.4,661.2 844.0,659.5 844.5,657.6 845.1,664.1 845.6,662.3 846.2,662.0 846.7,655.5 847.3,662.1 847.8,661.6 848.4,657.8 848.9,664.8 849.5,648.2 850.0,660.7 850.6,655.0 851.1,659.7 851.7,664.4 852.2,651.6 852.8,647.7 853.3,645.9 853.9,651.2 854.4,649.0 855.0,637.7 855.5,636.1 856.1,637.4 856.6,624.2 857.1,607.4 857.7,608.4 858.2,610.0 858.8,616.3 859.3,612.9 859.9,627.4 860.4,620.0 861.0,636.0 861.5,623.5 862.1,642.8 862.6,639.8 863.2,650.3 863.7,656.8 864.3,659.3 864.8,659.1 865.4,652.5 865.9,656.0 866.5,649.9 867.0,676.4 867.6,677.9 868.1,678.6 868.7,667.1 869.2,688.2 869.8,670.1 870.3,679.2 870.9,664.4 871.4,670.3 872.0,681.1 872.5,679.8 873.1,667.2 873.6,673.0 874.2,679.9 874.7,662.2 875.3,677.5 875.8,663.5 876.4,676.2 876.9,670.7 877.5,677.9 878.0,668.6 878.6,669.1 879.1,668.6 879.7,664.4 880.2,667.7 880.8,662.6 881.3,664.5 881.9,671.1 882.4,664.3 883.0,671.7 883.5,668.7 884.1,668.6 884.6,656.0 885.2,664.4 885.7,669.7 886.3,665.7 886.8,673.3 887.4,667.4 887.9,648.4 888.5,659.7 889.0,658.6 889.6,653.1 890.1,645.4 890.7,653.1 891.2,650.2 891.8,661.8 892.3,657.1 892.9,645.9 893.4,641.2 894.0,641.7 894.5,645.6 895.1,640.7 895.6,656.0 896.2,636.2 896.7,642.0 897.3,642.6 897.8,643.4 898.4,634.7 898.9,638.2 899.5,640.0 900.0,642.2 900.6,634.5 901.1,635.8 901.7,638.6 902.2,648.5 902.8,623.4 903.3,640.9 903.9,646.0 904.4,628.1 905.0,644.9 905.5,644.5 906.1,636.4 906.6,641.6 907.2,644.6 907.7,634.8 908.3,637.1 908.8,623.9 909.4,631.5 909.9,636.8 910.5,635.1 911.0,645.4 911.6,634.8 912.1,623.3 912.7,642.3 913.2,643.1 913.8,640.7 914.3,638.2 914.9,635.1 915.4,636.7 916.0,650.4 916.5,646.8 917.1,643.5 917.6,646.1 918.2,642.2 918.7,639.3 919.3,640.4 919.8,645.3 920.4,636.0 920.9,637.4 921.5,635.8 922.0,643.5 922.6,649.9 923.1,638.4 923.7,639.6 924.2,636.9 924.8,643.7 925.3,639.4 925.9,640.5 926.4,640.0 927.0,660.0 927.5,646.2 928.1,642.9 928.6,644.2 929.2,652.2 929.7,653.0 930.3,648.9 930.8,635.8 931.4,653.7 931.9,654.7 932.5,657.7 933.0,652.3 933.6,650.6 934.1,658.0 934.7,649.9 935.2,658.7 935.8,647.9 936.3,651.7 936.9,652.1 937.4,652.1 938.0,653.1 938.5,661.1 939.1,666.3 939.6,653.1 940.2,651.3 940.7,665.0 941.3,655.6 941.8,659.2 942.4,658.5 942.9,663.0 943.5,647.6 944.0,664.4 944.6,666.6 945.1,644.5 945.7,656.6 946.2,655.3 946.8,659.8 947.3,657.1 947.9,653.0 948.4,655.4 948.9,659.6 949.5,657.7 950.0,656.6 950.6,670.7 951.1,660.6 951.7,644.7 952.2,657.7 952.8,658.5 953.3,650.1 953.9,656.1 954.4,649.7 955.0,640.7 955.5,655.2 956.1,656.0 956.6,655.0 957.2,648.8 957.7,646.1 958.3,650.2 958.8,650.5 959.4,652.6 959.9,654.4 960.5,650.6 961.0,641.9 961.6,644.5 962.1,636.1 962.7,648.3 963.2,647.1 963.8,650.4 964.3,645.9 964.9,652.0 965.4,638.3 966.0,644.0 966.5,640.2 967.1,640.0 967.6,630.3 968.2,635.9 968.7,627.9 969.3,637.1 969.8,634.0 970.4,637.6 970.9,624.5 971.5,630.5 972.0,630.2 972.6,616.1 973.1,637.5 973.7,631.2 974.2,619.6 974.8,633.7 975.3,629.1 975.9,605.7 976.4,617.3 977.0,615.0 977.5,619.2 978.1,615.0 978.6,621.9 979.2,627.6 979.7,616.8 980.3,635.6 980.8,646.9 981.4,642.2 981.9,650.9 982.5,656.2 983.0,651.2 983.6,654.5 984.1,657.2 984.7,654.8 985.2,673.1 985.8,664.2 986.3,666.7 986.9,670.4 987.4,674.5 988.0,658.4 988.5,661.1 989.1,668.8 989.6,671.7 990.2,662.0 990.7,661.7 991.3,675.0 991.8,675.2 992.4,669.7 992.9,670.1 993.5,664.9 994.0,665.6 994.6,667.6 995.1,674.1 995.7,671.0 996.2,679.2 996.8,665.6 997.3,663.4 997.9,676.9 998.4,667.7 999.0,671.3 999.5,673.1 1000.1,665.1 1000.6,663.0 1001.2,673.3 1001.7,657.3 1002.3,674.4 1002.8,659.5 1003.4,674.3 1003.9,670.7 1004.5,669.6 1005.0,670.4 1005.6,667.6 1006.1,657.8 1006.7,670.2 1007.2,665.3 1007.8,666.5 1008.3,662.2 1008.9,660.7 1009.4,667.0 1010.0,666.3 1010.5,661.2 1011.1,651.6 1011.6,646.6 1012.2,644.4 1012.7,661.6 1013.3,656.5 1013.8,652.5 1014.4,649.7 1014.9,644.8 1015.5,652.7 1016.0,640.3 1016.6,640.2 1017.1,649.2 1017.7,646.9 1018.2,641.5 1018.8,634.2 1019.3,633.9 1019.9,646.3 1020.4,643.6 1021.0,650.5 1021.5,639.2 1022.1,642.0 1022.6,637.5 1023.2,653.7 1023.7,634.6 1024.3,649.1 1024.8,655.9 1025.4,641.5 1025.9,639.6 1026.5,643.1 1027.0,641.5 1027.6,652.9 1028.1,651.1 1028.7,647.1 1029.2,651.9 1029.8,663.6 1030.3,653.0 1030.9,654.6 1031.4,669.8 1032.0,654.2 1032.5,658.0 1033.1,670.8 1033.6,663.4 1034.2,653.0 1034.7,660.3 1035.3,653.0 1035.8,663.5 1036.4,670.0 1036.9,658.9 1037.5,678.4 1038.0,677.1 1038.6,674.5 1039.1,665.5 1039.6,670.2 1040.2,673.4 1040.7,676.0 1041.3,678.0 1041.8,657.5 1042.4,662.4 1042.9,663.8 1043.5,668.8 1044.0,672.2 1044.6,684.8 1045.1,670.5 1045.7,676.6 1046.2,671.9 1046.8,671.1 1047.3,681.9 1047.9,658.6 1048.4,675.5 1049.0,684.0 1049.5,686.1 1050.1,668.5 1050.6,666.1 1051.2,664.1 1051.7,669.2 1052.3,671.7 1052.8,671.7 1053.4,678.4 1053.9,669.7 1054.5,673.5 1055.0,661.6 1055.6,667.5 1056.1,670.5 1056.7,657.1 1057.2,672.0 1057.8,676.5 1058.3,671.6 1058.9,672.3 1059.4,670.9 1060.0,663.6 1060.5,671.0 1061.1,667.3 1061.6,671.1 1062.2,670.8 1062.7,671.0 1063.3,662.3 1063.8,669.7 1064.4,680.5 1064.9,675.5 1065.5,668.3 1066.0,665.2 1066.6,675.4 1067.1,669.3 1067.7,658.5 1068.2,666.3 1068.8,678.9 1069.3,658.4 1069.9,668.7 1070.4,663.5 1071.0,667.4 1071.5,665.0 1072.1,662.0 1072.6,653.0 1073.2,665.4 1073.7,666.7 1074.3,665.5 1074.8,659.6 1075.4,662.1 1075.9,679.0 1076.5,658.7 1077.0,661.2 1077.6,657.7 1078.1,662.2 1078.7,666.7 1079.2,672.5 1079.8,666.6 1080.3,665.3 1080.9,667.6 1081.4,668.9 1082.0,665.4 1082.5,665.6 1083.1,679.5 1083.6,661.6 1084.2,665.6 1084.7,660.7 1085.3,663.2 1085.8,675.5 1086.4,662.3 1086.9,669.8 1087.5,679.6 1088.0,670.1 1088.6,666.1 1089.1,662.4 1089.7,653.2 1090.2,661.4 1090.8,661.6 1091.3,677.7 1091.9,671.2 1092.4,659.0 1093.0,670.2 1093.5,662.2 1094.1,676.6 1094.6,673.9 1095.2,671.7 1095.7,661.5 1096.3,673.9 1096.8,667.9 1097.4,669.0 1097.9,664.6 1098.5,659.2 1099.0,664.9 1099.6,654.6 1100.1,663.9 1100.7,659.7 1101.2,648.2 1101.8,663.4 1102.3,657.3 1102.9,655.1 1103.4,656.9 1104.0,662.2 1104.5,650.6 1105.1,651.1 1105.6,662.0 1106.2,658.9 1106.7,647.4 1107.3,658.7 1107.8,647.9 1108.4,662.5 1108.9,661.5 1109.5,661.6 1110.0,649.7 1110.6,654.3 1111.1,664.5 1111.7,651.1 1112.2,662.8 1112.8,658.6 1113.3,661.1 1113.9,655.5 1114.4,664.3 1115.0,663.3 1115.5,666.3 1116.1,676.3 1116.6,660.6 1117.2,662.7 1117.7,656.3 1118.3,673.7 1118.8,661.5 1119.4,668.8 1119.9,657.8 1120.5,663.6 1121.0,669.3 1121.6,669.1 1122.1,665.0 1122.7,672.6 1123.2,668.4 1123.8,674.5 1124.3,667.1 1124.9,672.8 1125.4,666.4 1126.0,677.1 1126.5,669.7 1127.1,670.1 1127.6,666.4 1128.2,675.9 1128.7,670.8 1129.3,668.5 1129.8,677.7 1130.4,665.2 1130.9,675.6 1131.4,678.6 1132.0,655.0 1132.5,674.8 1133.1,672.5 1133.6,670.3 1134.2,671.0 1134.7,661.3 1135.3,671.4 1135.8,669.5 1136.4,658.9" fill="none" stroke="#ff00ff" stroke-width="3.1" stroke-linejoin="round"/>
<path d="M728.7,144.2 L712.8,340.6 L708.8,414.6 L704.8,528.4 L701.4,608.0" fill="none" stroke="#000" stroke-width="3.0" stroke-dasharray="8.6 4.3"/>
<path d="M898.8,117.3 L887.0,223.7 L880.9,285.5 L869.7,409.2 L861.7,532.9 L855.0,623.0" fill="none" stroke="#000" stroke-width="3.0" stroke-dasharray="8.6 4.3"/>
<path d="M1001.4,96.4 L993.8,185.8 L988.6,275.3 L984.2,409.5 L980.3,537.3 L977.8,626.7" fill="none" stroke="#000" stroke-width="3.0" stroke-dasharray="8.6 4.3"/>
<line x1="671.1" y1="3.0" x2="1140.1000000000001" y2="3.0" stroke="#000" stroke-width="2.8"/>
<line x1="662" y1="727.2" x2="1138.7" y2="727.2" stroke="#000" stroke-width="2.8"/>
<line x1="672.5" y1="3.0" x2="672.5" y2="727.2" stroke="#000" stroke-width="2.8"/>
<line x1="1138.7" y1="3.0" x2="1138.7" y2="745" stroke="#000" stroke-width="2.8"/>
<line x1="699.0" y1="727.2" x2="699.0" y2="745" stroke="#000" stroke-width="2.8"/>
<line x1="699.0" y1="3.0" x2="699.0" y2="19.6" stroke="#000" stroke-width="2.8"/>
<line x1="753.97" y1="727.2" x2="753.97" y2="735.7" stroke="#000" stroke-width="2.8"/>
<line x1="753.97" y1="3.0" x2="753.97" y2="11.3" stroke="#000" stroke-width="2.8"/>
<line x1="808.94" y1="727.2" x2="808.94" y2="745" stroke="#000" stroke-width="2.8"/>
<line x1="808.94" y1="3.0" x2="808.94" y2="19.6" stroke="#000" stroke-width="2.8"/>
<line x1="863.91" y1="727.2" x2="863.91" y2="735.7" stroke="#000" stroke-width="2.8"/>
<line x1="863.91" y1="3.0" x2="863.91" y2="11.3" stroke="#000" stroke-width="2.8"/>
<line x1="918.88" y1="727.2" x2="918.88" y2="745" stroke="#000" stroke-width="2.8"/>
<line x1="918.88" y1="3.0" x2="918.88" y2="19.6" stroke="#000" stroke-width="2.8"/>
<line x1="973.8499999999999" y1="727.2" x2="973.8499999999999" y2="735.7" stroke="#000" stroke-width="2.8"/>
<line x1="973.8499999999999" y1="3.0" x2="973.8499999999999" y2="11.3" stroke="#000" stroke-width="2.8"/>
<line x1="1028.82" y1="727.2" x2="1028.82" y2="745" stroke="#000" stroke-width="2.8"/>
<line x1="1028.82" y1="3.0" x2="1028.82" y2="19.6" stroke="#000" stroke-width="2.8"/>
<line x1="1083.79" y1="727.2" x2="1083.79" y2="735.7" stroke="#000" stroke-width="2.8"/>
<line x1="1083.79" y1="3.0" x2="1083.79" y2="11.3" stroke="#000" stroke-width="2.8"/>
<line x1="661.6" y1="169.1" x2="672.5" y2="169.1" stroke="#000" stroke-width="2.8"/>
<line x1="653" y1="448.2" x2="672.5" y2="448.2" stroke="#000" stroke-width="2.8"/>
<text x="698.5" y="787" font-size="36" text-anchor="middle" font-weight="normal" letter-spacing="1">200</text>
<text x="808.4" y="787" font-size="36" text-anchor="middle" font-weight="normal" letter-spacing="1">400</text>
<text x="918.4" y="787" font-size="36" text-anchor="middle" font-weight="normal" letter-spacing="1">600</text>
<text x="1028.3" y="787" font-size="36" text-anchor="middle" font-weight="normal" letter-spacing="1">800</text>
<text x="1138.3" y="787" font-size="36" text-anchor="middle" font-weight="normal" letter-spacing="1">1000</text>
<text x="1131.0" y="161.8" font-size="28.5" text-anchor="end" font-weight="normal" >15.8</text>
<text x="1120.8" y="396.9" font-size="28.5" text-anchor="end" font-weight="normal" >4</text>
<text x="1111.4" y="648.8" font-size="28.5" text-anchor="end" font-weight="normal" >0</text>
<text x="707.2" y="133.3" font-size="29.5" textLength="25.4" lengthAdjust="spacingAndGlyphs">ω</text><text x="731.5" y="138.6" font-size="22">2</text>
<text x="896.9" y="94.2" font-size="29.5" textLength="25.4" lengthAdjust="spacingAndGlyphs">ω</text><text x="922.5" y="99.2" font-size="22">6</text>
<text x="985.6" y="90.9" font-size="29.5" textLength="25.4" lengthAdjust="spacingAndGlyphs">ω</text><text x="1009.9" y="97.1" font-size="22">3</text>
<text x="680.5" y="61" font-size="47" font-weight="bold" textLength="64" lengthAdjust="spacingAndGlyphs">(b)</text>
<text x="715" y="849.8" font-size="45" textLength="333" lengthAdjust="spacing">Raman shift (cm</text>
<text x="1049" y="829" font-size="31">-1</text>
<text x="1079" y="849.8" font-size="45">)</text>
<text transform="translate(627.8,511) rotate(-90)" font-size="45.5" textLength="295" lengthAdjust="spacing">Intensity (a.u.)</text>
</svg>
</body></html>
